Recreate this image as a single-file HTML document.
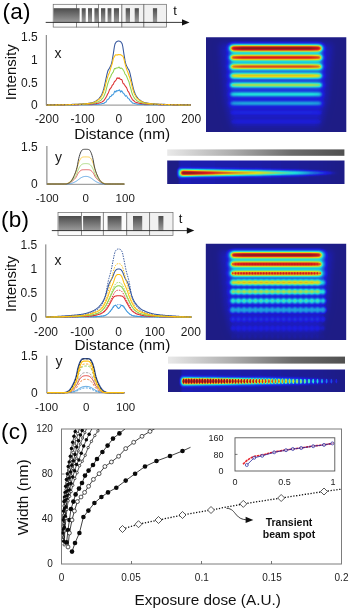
<!DOCTYPE html>
<html lang="en"><head><meta charset="utf-8"><title>Figure</title>
<style>
html,body{margin:0;padding:0;background:#fff;}
svg{display:block;font-family:"Liberation Sans", sans-serif;}
</style></head><body>
<svg width="350" height="610" viewBox="0 0 350 610">
<rect width="350" height="610" fill="#fff"/>
<defs>
<linearGradient id="pg" x1="0" y1="0" x2="0" y2="1"><stop offset="0" stop-color="#4c4c4c"/><stop offset="1" stop-color="#9c9c9c"/></linearGradient>
<linearGradient id="bar" x1="0" y1="0" x2="1" y2="0"><stop offset="0" stop-color="#e9e9e9"/><stop offset="0.35" stop-color="#b0b0b0"/><stop offset="0.7" stop-color="#6c6c6c"/><stop offset="1" stop-color="#505050"/></linearGradient>
</defs>
<text x="2.40" y="19.20" font-size="22.5" text-anchor="start" font-weight="normal" fill="#000" textLength="28.2">(a)</text>
<text x="0.90" y="227.10" font-size="22.5" text-anchor="start" font-weight="normal" fill="#000" textLength="28.2">(b)</text>
<text x="0.90" y="438.70" font-size="22.5" text-anchor="start" font-weight="normal" fill="#000" textLength="27">(c)</text>
<rect x="53.20" y="4.30" width="23.20" height="22.80" fill="#fbfbfb" stroke="#6a6a6a" stroke-width="0.7"/>
<rect x="76.40" y="4.30" width="22.10" height="22.80" fill="#fbfbfb" stroke="#6a6a6a" stroke-width="0.7"/>
<rect x="98.50" y="4.30" width="23.40" height="22.80" fill="#fbfbfb" stroke="#6a6a6a" stroke-width="0.7"/>
<rect x="121.90" y="4.30" width="22.00" height="22.80" fill="#f1f1f1" stroke="#6a6a6a" stroke-width="0.7"/>
<rect x="143.90" y="4.30" width="22.50" height="22.80" fill="#f1f1f1" stroke="#6a6a6a" stroke-width="0.7"/>
<rect x="53.60" y="8.20" width="26.00" height="14.20" fill="url(#pg)"/>
<rect x="81.70" y="8.20" width="4.00" height="14.20" fill="url(#pg)"/>
<rect x="88.00" y="8.20" width="4.00" height="14.20" fill="url(#pg)"/>
<rect x="94.40" y="8.20" width="3.80" height="14.20" fill="url(#pg)"/>
<rect x="101.00" y="8.20" width="4.30" height="14.20" fill="url(#pg)"/>
<rect x="107.60" y="8.20" width="3.80" height="14.20" fill="url(#pg)"/>
<rect x="113.90" y="8.20" width="5.10" height="14.20" fill="url(#pg)"/>
<rect x="125.70" y="8.20" width="4.30" height="14.20" fill="url(#pg)"/>
<rect x="134.70" y="8.20" width="4.20" height="14.20" fill="url(#pg)"/>
<rect x="152.90" y="8.20" width="4.20" height="14.20" fill="url(#pg)"/>
<line x1="45.70" y1="22.40" x2="184.50" y2="22.40" stroke="#222" stroke-width="0.9" />
<path d="M189.50 22.40 L182.00 19.20 L182.00 25.60 Z" fill="#111"/>
<text x="175.00" y="15.20" font-size="13" text-anchor="middle" font-weight="normal" fill="#111" >t</text>
<rect x="58.00" y="212.60" width="23.40" height="22.80" fill="#fbfbfb" stroke="#6a6a6a" stroke-width="0.7"/>
<rect x="81.40" y="212.60" width="21.90" height="22.80" fill="#fbfbfb" stroke="#6a6a6a" stroke-width="0.7"/>
<rect x="103.30" y="212.60" width="23.50" height="22.80" fill="#fbfbfb" stroke="#6a6a6a" stroke-width="0.7"/>
<rect x="126.80" y="212.60" width="22.90" height="22.80" fill="#f1f1f1" stroke="#6a6a6a" stroke-width="0.7"/>
<rect x="149.70" y="212.60" width="23.30" height="22.80" fill="#f1f1f1" stroke="#6a6a6a" stroke-width="0.7"/>
<rect x="58.50" y="216.00" width="22.50" height="14.60" fill="url(#pg)"/>
<rect x="83.10" y="216.00" width="17.60" height="14.60" fill="url(#pg)"/>
<rect x="107.60" y="216.00" width="13.90" height="14.60" fill="url(#pg)"/>
<rect x="133.00" y="216.00" width="9.20" height="14.60" fill="url(#pg)"/>
<rect x="158.40" y="216.00" width="5.00" height="14.60" fill="url(#pg)"/>
<line x1="51.80" y1="230.60" x2="189.30" y2="230.60" stroke="#222" stroke-width="0.9" />
<path d="M194.30 230.60 L186.80 227.40 L186.80 233.80 Z" fill="#111"/>
<text x="180.60" y="222.80" font-size="13" text-anchor="middle" font-weight="normal" fill="#111" >t</text>
<line x1="46.30" y1="35.00" x2="46.30" y2="105.30" stroke="#666" stroke-width="0.9" />
<line x1="46.00" y1="105.10" x2="191.00" y2="105.10" stroke="#8a8a8a" stroke-width="1.0" />
<path d="M46.50 105.00 L47.06 105.00 L47.61 105.00 L48.17 105.00 L48.73 104.99 L49.28 104.99 L49.84 104.99 L50.40 104.99 L50.95 104.99 L51.51 104.98 L52.07 104.98 L52.62 104.98 L53.18 104.98 L53.74 104.97 L54.29 104.97 L54.85 104.97 L55.41 104.97 L55.96 104.96 L56.52 104.96 L57.08 104.96 L57.64 104.96 L58.19 104.95 L58.75 104.95 L59.31 104.95 L59.86 104.95 L60.42 104.94 L60.98 104.94 L61.53 104.94 L62.09 104.94 L62.65 104.93 L63.20 104.93 L63.76 104.93 L64.32 104.92 L64.87 104.92 L65.43 104.92 L65.99 104.91 L66.54 104.91 L67.10 104.91 L67.66 104.91 L68.21 104.90 L68.77 104.90 L69.33 104.90 L69.88 104.89 L70.44 104.89 L71.00 104.89 L71.55 104.88 L72.11 104.88 L72.67 104.88 L73.22 104.87 L73.78 104.87 L74.34 104.87 L74.89 104.86 L75.45 104.86 L76.01 104.86 L76.56 104.85 L77.12 104.85 L77.68 104.84 L78.24 104.84 L78.79 104.84 L79.35 104.83 L79.91 104.83 L80.46 104.82 L81.02 104.82 L81.58 104.81 L82.13 104.81 L82.69 104.80 L83.25 104.79 L83.80 104.79 L84.36 104.78 L84.92 104.77 L85.47 104.76 L86.03 104.75 L86.59 104.74 L87.14 104.73 L87.70 104.72 L88.26 104.71 L88.81 104.70 L89.37 104.69 L89.93 104.66 L90.48 104.63 L91.04 104.63 L91.60 104.65 L92.15 104.61 L92.71 104.57 L93.27 104.56 L93.82 104.54 L94.38 104.50 L94.94 104.45 L95.49 104.40 L96.05 104.46 L96.61 104.47 L97.16 104.29 L97.72 104.20 L98.28 104.20 L98.84 104.15 L99.39 104.13 L99.95 104.01 L100.51 103.93 L101.06 104.08 L101.62 103.88 L102.18 103.44 L102.73 103.41 L103.29 103.45 L103.85 103.35 L104.40 103.09 L104.96 102.46 L105.52 102.15 L106.07 102.03 L106.63 100.87 L107.19 99.77 L107.74 99.56 L108.30 99.25 L108.86 98.68 L109.41 97.69 L109.97 96.47 L110.53 96.46 L111.08 96.40 L111.64 95.17 L112.20 94.77 L112.75 94.95 L113.31 94.33 L113.87 93.43 L114.42 91.90 L114.98 91.01 L115.54 91.87 L116.09 91.74 L116.65 90.61 L117.21 90.75 L117.76 90.91 L118.32 90.57 L118.88 90.34 L119.44 89.83 L119.99 90.65 L120.55 92.11 L121.11 91.42 L121.66 90.70 L122.22 91.65 L122.78 92.52 L123.33 93.34 L123.89 93.88 L124.45 94.11 L125.00 95.44 L125.56 96.27 L126.12 95.61 L126.67 95.87 L127.23 97.02 L127.79 97.86 L128.34 98.61 L128.90 98.89 L129.46 99.28 L130.01 100.52 L130.57 101.16 L131.13 101.30 L131.68 102.04 L132.24 102.78 L132.80 103.16 L133.35 103.34 L133.91 103.23 L134.47 103.41 L135.02 103.82 L135.58 103.77 L136.14 103.75 L136.69 104.02 L137.25 104.15 L137.81 104.16 L138.36 104.12 L138.92 104.08 L139.48 104.25 L140.04 104.41 L140.59 104.37 L141.15 104.39 L141.71 104.47 L142.26 104.49 L142.82 104.50 L143.38 104.51 L143.93 104.53 L144.49 104.61 L145.05 104.63 L145.60 104.61 L146.16 104.63 L146.72 104.65 L147.27 104.67 L147.83 104.68 L148.39 104.69 L148.94 104.71 L149.50 104.73 L150.06 104.73 L150.61 104.74 L151.17 104.75 L151.73 104.76 L152.28 104.77 L152.84 104.78 L153.40 104.79 L153.95 104.79 L154.51 104.80 L155.07 104.80 L155.62 104.81 L156.18 104.82 L156.74 104.82 L157.29 104.83 L157.85 104.83 L158.41 104.84 L158.96 104.84 L159.52 104.84 L160.08 104.85 L160.64 104.85 L161.19 104.86 L161.75 104.86 L162.31 104.86 L162.86 104.87 L163.42 104.87 L163.98 104.87 L164.53 104.88 L165.09 104.88 L165.65 104.88 L166.20 104.89 L166.76 104.89 L167.32 104.89 L167.87 104.90 L168.43 104.90 L168.99 104.90 L169.54 104.91 L170.10 104.91 L170.66 104.91 L171.21 104.91 L171.77 104.92 L172.33 104.92 L172.88 104.92 L173.44 104.93 L174.00 104.93 L174.55 104.93 L175.11 104.94 L175.67 104.94 L176.22 104.94 L176.78 104.94 L177.34 104.95 L177.89 104.95 L178.45 104.95 L179.01 104.95 L179.56 104.96 L180.12 104.96 L180.68 104.96 L181.24 104.96 L181.79 104.97 L182.35 104.97 L182.91 104.97 L183.46 104.97 L184.02 104.98 L184.58 104.98 L185.13 104.98 L185.69 104.98 L186.25 104.99 L186.80 104.99 L187.36 104.99 L187.92 104.99 L188.47 104.99 L189.03 105.00 L189.59 105.00 L190.14 105.00 L190.70 105.00" fill="none" stroke="#3d97dd" stroke-width="1.05" stroke-linejoin="round" stroke-opacity="1"/>
<path d="M46.50 105.00 L47.06 105.00 L47.61 105.00 L48.17 105.00 L48.73 104.99 L49.28 104.99 L49.84 104.99 L50.40 104.99 L50.95 104.98 L51.51 104.98 L52.07 104.98 L52.62 104.97 L53.18 104.97 L53.74 104.97 L54.29 104.96 L54.85 104.96 L55.41 104.95 L55.96 104.95 L56.52 104.94 L57.08 104.94 L57.64 104.93 L58.19 104.93 L58.75 104.92 L59.31 104.91 L59.86 104.91 L60.42 104.90 L60.98 104.90 L61.53 104.89 L62.09 104.88 L62.65 104.88 L63.20 104.87 L63.76 104.86 L64.32 104.86 L64.87 104.85 L65.43 104.84 L65.99 104.83 L66.54 104.83 L67.10 104.82 L67.66 104.81 L68.21 104.81 L68.77 104.80 L69.33 104.79 L69.88 104.78 L70.44 104.77 L71.00 104.77 L71.55 104.76 L72.11 104.75 L72.67 104.74 L73.22 104.73 L73.78 104.72 L74.34 104.71 L74.89 104.70 L75.45 104.68 L76.01 104.67 L76.56 104.66 L77.12 104.65 L77.68 104.63 L78.24 104.62 L78.79 104.61 L79.35 104.59 L79.91 104.58 L80.46 104.56 L81.02 104.55 L81.58 104.53 L82.13 104.51 L82.69 104.50 L83.25 104.48 L83.80 104.46 L84.36 104.44 L84.92 104.42 L85.47 104.40 L86.03 104.37 L86.59 104.35 L87.14 104.33 L87.70 104.29 L88.26 104.26 L88.81 104.23 L89.37 104.20 L89.93 104.16 L90.48 104.13 L91.04 104.10 L91.60 104.06 L92.15 104.01 L92.71 103.94 L93.27 103.88 L93.82 103.87 L94.38 103.80 L94.94 103.70 L95.49 103.65 L96.05 103.57 L96.61 103.47 L97.16 103.34 L97.72 103.17 L98.28 103.14 L98.84 103.12 L99.39 102.89 L99.95 102.67 L100.51 102.55 L101.06 102.36 L101.62 102.11 L102.18 101.74 L102.73 101.31 L103.29 101.13 L103.85 100.67 L104.40 99.75 L104.96 98.94 L105.52 98.16 L106.07 97.24 L106.63 96.31 L107.19 95.02 L107.74 93.84 L108.30 93.05 L108.86 91.59 L109.41 89.90 L109.97 89.07 L110.53 88.38 L111.08 87.64 L111.64 86.69 L112.20 85.31 L112.75 84.69 L113.31 84.34 L113.87 82.87 L114.42 81.66 L114.98 81.28 L115.54 80.65 L116.09 79.98 L116.65 78.85 L117.21 77.80 L117.76 78.21 L118.32 78.41 L118.88 77.79 L119.44 78.17 L119.99 78.93 L120.55 79.25 L121.11 79.56 L121.66 79.59 L122.22 80.56 L122.78 82.66 L123.33 83.64 L123.89 83.86 L124.45 84.79 L125.00 85.64 L125.56 86.38 L126.12 87.18 L126.67 87.87 L127.23 89.37 L127.79 91.00 L128.34 91.63 L128.90 92.37 L129.46 93.75 L130.01 95.04 L130.57 96.26 L131.13 97.24 L131.68 98.12 L132.24 99.31 L132.80 100.07 L133.35 100.26 L133.91 100.76 L134.47 101.40 L135.02 101.87 L135.58 102.23 L136.14 102.36 L136.69 102.49 L137.25 102.77 L137.81 102.87 L138.36 102.92 L138.92 103.12 L139.48 103.30 L140.04 103.41 L140.59 103.48 L141.15 103.51 L141.71 103.61 L142.26 103.74 L142.82 103.78 L143.38 103.84 L143.93 103.92 L144.49 103.97 L145.05 104.01 L145.60 104.04 L146.16 104.07 L146.72 104.13 L147.27 104.18 L147.83 104.20 L148.39 104.23 L148.94 104.27 L149.50 104.29 L150.06 104.32 L150.61 104.35 L151.17 104.37 L151.73 104.40 L152.28 104.42 L152.84 104.44 L153.40 104.46 L153.95 104.48 L154.51 104.50 L155.07 104.51 L155.62 104.53 L156.18 104.55 L156.74 104.56 L157.29 104.58 L157.85 104.59 L158.41 104.61 L158.96 104.62 L159.52 104.63 L160.08 104.65 L160.64 104.66 L161.19 104.67 L161.75 104.68 L162.31 104.70 L162.86 104.71 L163.42 104.72 L163.98 104.73 L164.53 104.74 L165.09 104.75 L165.65 104.76 L166.20 104.77 L166.76 104.77 L167.32 104.78 L167.87 104.79 L168.43 104.80 L168.99 104.81 L169.54 104.81 L170.10 104.82 L170.66 104.83 L171.21 104.83 L171.77 104.84 L172.33 104.85 L172.88 104.86 L173.44 104.86 L174.00 104.87 L174.55 104.88 L175.11 104.88 L175.67 104.89 L176.22 104.90 L176.78 104.90 L177.34 104.91 L177.89 104.91 L178.45 104.92 L179.01 104.93 L179.56 104.93 L180.12 104.94 L180.68 104.94 L181.24 104.95 L181.79 104.95 L182.35 104.96 L182.91 104.96 L183.46 104.97 L184.02 104.97 L184.58 104.97 L185.13 104.98 L185.69 104.98 L186.25 104.98 L186.80 104.99 L187.36 104.99 L187.92 104.99 L188.47 104.99 L189.03 105.00 L189.59 105.00 L190.14 105.00 L190.70 105.00" fill="none" stroke="#dc2f2f" stroke-width="1.05" stroke-linejoin="round" stroke-opacity="1"/>
<path d="M46.50 105.00 L47.06 105.00 L47.61 104.99 L48.17 104.99 L48.73 104.99 L49.28 104.98 L49.84 104.98 L50.40 104.97 L50.95 104.97 L51.51 104.96 L52.07 104.96 L52.62 104.95 L53.18 104.95 L53.74 104.94 L54.29 104.93 L54.85 104.93 L55.41 104.92 L55.96 104.91 L56.52 104.91 L57.08 104.90 L57.64 104.89 L58.19 104.88 L58.75 104.87 L59.31 104.86 L59.86 104.86 L60.42 104.85 L60.98 104.84 L61.53 104.83 L62.09 104.82 L62.65 104.81 L63.20 104.80 L63.76 104.79 L64.32 104.78 L64.87 104.77 L65.43 104.76 L65.99 104.75 L66.54 104.74 L67.10 104.73 L67.66 104.72 L68.21 104.71 L68.77 104.70 L69.33 104.69 L69.88 104.68 L70.44 104.66 L71.00 104.65 L71.55 104.64 L72.11 104.63 L72.67 104.62 L73.22 104.60 L73.78 104.59 L74.34 104.58 L74.89 104.56 L75.45 104.55 L76.01 104.53 L76.56 104.52 L77.12 104.50 L77.68 104.49 L78.24 104.47 L78.79 104.45 L79.35 104.43 L79.91 104.41 L80.46 104.39 L81.02 104.37 L81.58 104.35 L82.13 104.32 L82.69 104.30 L83.25 104.27 L83.80 104.24 L84.36 104.21 L84.92 104.17 L85.47 104.13 L86.03 104.09 L86.59 104.05 L87.14 103.99 L87.70 103.94 L88.26 103.89 L88.81 103.84 L89.37 103.77 L89.93 103.70 L90.48 103.63 L91.04 103.57 L91.60 103.49 L92.15 103.40 L92.71 103.32 L93.27 103.22 L93.82 103.11 L94.38 102.97 L94.94 102.80 L95.49 102.68 L96.05 102.56 L96.61 102.34 L97.16 102.10 L97.72 101.89 L98.28 101.66 L98.84 101.43 L99.39 101.13 L99.95 100.77 L100.51 100.51 L101.06 100.08 L101.62 99.35 L102.18 98.68 L102.73 98.06 L103.29 97.35 L103.85 96.41 L104.40 95.05 L104.96 93.65 L105.52 92.29 L106.07 90.21 L106.63 87.87 L107.19 85.82 L107.74 83.75 L108.30 82.08 L108.86 80.61 L109.41 78.91 L109.97 77.80 L110.53 76.97 L111.08 75.45 L111.64 74.19 L112.20 73.50 L112.75 72.66 L113.31 71.70 L113.87 70.15 L114.42 68.64 L114.98 68.61 L115.54 68.76 L116.09 68.07 L116.65 67.92 L117.21 67.99 L117.76 67.83 L118.32 67.68 L118.88 67.09 L119.44 67.15 L119.99 68.26 L120.55 68.44 L121.11 68.03 L121.66 68.29 L122.22 68.60 L122.78 69.28 L123.33 70.23 L123.89 70.97 L124.45 72.40 L125.00 74.01 L125.56 74.59 L126.12 75.26 L126.67 76.56 L127.23 77.89 L127.79 79.30 L128.34 80.47 L128.90 81.67 L129.46 83.85 L130.01 86.21 L130.57 87.96 L131.13 89.94 L131.68 92.06 L132.24 93.81 L132.80 95.25 L133.35 96.28 L133.91 97.21 L134.47 98.17 L135.02 98.81 L135.58 99.30 L136.14 99.93 L136.69 100.48 L137.25 100.91 L137.81 101.19 L138.36 101.35 L138.92 101.62 L139.48 101.94 L140.04 102.13 L140.59 102.31 L141.15 102.52 L141.71 102.70 L142.26 102.85 L142.82 102.97 L143.38 103.07 L143.93 103.22 L144.49 103.34 L145.05 103.41 L145.60 103.48 L146.16 103.56 L146.72 103.63 L147.27 103.71 L147.83 103.77 L148.39 103.83 L148.94 103.90 L149.50 103.95 L150.06 103.99 L150.61 104.04 L151.17 104.09 L151.73 104.13 L152.28 104.17 L152.84 104.21 L153.40 104.24 L153.95 104.27 L154.51 104.30 L155.07 104.32 L155.62 104.34 L156.18 104.37 L156.74 104.39 L157.29 104.41 L157.85 104.43 L158.41 104.45 L158.96 104.47 L159.52 104.49 L160.08 104.50 L160.64 104.52 L161.19 104.54 L161.75 104.55 L162.31 104.56 L162.86 104.58 L163.42 104.59 L163.98 104.60 L164.53 104.62 L165.09 104.63 L165.65 104.64 L166.20 104.65 L166.76 104.66 L167.32 104.68 L167.87 104.69 L168.43 104.70 L168.99 104.71 L169.54 104.72 L170.10 104.73 L170.66 104.74 L171.21 104.75 L171.77 104.76 L172.33 104.77 L172.88 104.78 L173.44 104.79 L174.00 104.80 L174.55 104.81 L175.11 104.82 L175.67 104.83 L176.22 104.84 L176.78 104.85 L177.34 104.86 L177.89 104.86 L178.45 104.87 L179.01 104.88 L179.56 104.89 L180.12 104.90 L180.68 104.91 L181.24 104.91 L181.79 104.92 L182.35 104.93 L182.91 104.93 L183.46 104.94 L184.02 104.95 L184.58 104.95 L185.13 104.96 L185.69 104.96 L186.25 104.97 L186.80 104.97 L187.36 104.98 L187.92 104.98 L188.47 104.99 L189.03 104.99 L189.59 104.99 L190.14 105.00 L190.70 105.00" fill="none" stroke="#8fd04e" stroke-width="1.05" stroke-linejoin="round" stroke-opacity="1"/>
<path d="M46.50 105.00 L47.06 105.00 L47.61 104.99 L48.17 104.98 L48.73 104.97 L49.28 104.97 L49.84 104.96 L50.40 104.95 L50.95 104.94 L51.51 104.93 L52.07 104.92 L52.62 104.91 L53.18 104.90 L53.74 104.89 L54.29 104.88 L54.85 104.87 L55.41 104.85 L55.96 104.84 L56.52 104.83 L57.08 104.82 L57.64 104.80 L58.19 104.79 L58.75 104.78 L59.31 104.76 L59.86 104.75 L60.42 104.73 L60.98 104.72 L61.53 104.70 L62.09 104.69 L62.65 104.67 L63.20 104.66 L63.76 104.64 L64.32 104.63 L64.87 104.61 L65.43 104.59 L65.99 104.58 L66.54 104.56 L67.10 104.55 L67.66 104.53 L68.21 104.51 L68.77 104.49 L69.33 104.48 L69.88 104.46 L70.44 104.44 L71.00 104.43 L71.55 104.41 L72.11 104.39 L72.67 104.37 L73.22 104.35 L73.78 104.33 L74.34 104.31 L74.89 104.29 L75.45 104.27 L76.01 104.25 L76.56 104.22 L77.12 104.20 L77.68 104.18 L78.24 104.15 L78.79 104.12 L79.35 104.09 L79.91 104.06 L80.46 104.03 L81.02 104.00 L81.58 103.97 L82.13 103.93 L82.69 103.89 L83.25 103.85 L83.80 103.81 L84.36 103.77 L84.92 103.72 L85.47 103.66 L86.03 103.60 L86.59 103.54 L87.14 103.47 L87.70 103.40 L88.26 103.32 L88.81 103.24 L89.37 103.15 L89.93 103.06 L90.48 102.96 L91.04 102.85 L91.60 102.73 L92.15 102.61 L92.71 102.47 L93.27 102.29 L93.82 102.07 L94.38 101.83 L94.94 101.55 L95.49 101.24 L96.05 100.90 L96.61 100.54 L97.16 100.15 L97.72 99.74 L98.28 99.29 L98.84 98.76 L99.39 98.14 L99.95 97.44 L100.51 96.64 L101.06 95.76 L101.62 94.78 L102.18 93.54 L102.73 92.03 L103.29 90.32 L103.85 88.43 L104.40 86.15 L104.96 83.65 L105.52 81.10 L106.07 78.38 L106.63 75.83 L107.19 73.39 L107.74 71.33 L108.30 70.05 L108.86 69.13 L109.41 68.17 L109.97 67.13 L110.53 66.06 L111.08 64.79 L111.64 63.11 L112.20 60.41 L112.75 57.21 L113.31 53.90 L113.87 50.06 L114.42 46.50 L114.98 44.08 L115.54 43.01 L116.09 42.22 L116.65 41.67 L117.21 41.35 L117.76 41.15 L118.32 41.02 L118.88 41.02 L119.44 41.15 L119.99 41.35 L120.55 41.67 L121.11 42.22 L121.66 43.01 L122.22 44.08 L122.78 46.50 L123.33 50.06 L123.89 53.90 L124.45 57.21 L125.00 60.41 L125.56 63.11 L126.12 64.79 L126.67 66.06 L127.23 67.13 L127.79 68.17 L128.34 69.13 L128.90 70.05 L129.46 71.33 L130.01 73.39 L130.57 75.83 L131.13 78.38 L131.68 81.10 L132.24 83.65 L132.80 86.15 L133.35 88.43 L133.91 90.32 L134.47 92.03 L135.02 93.54 L135.58 94.78 L136.14 95.76 L136.69 96.64 L137.25 97.44 L137.81 98.14 L138.36 98.76 L138.92 99.29 L139.48 99.74 L140.04 100.15 L140.59 100.54 L141.15 100.90 L141.71 101.24 L142.26 101.55 L142.82 101.83 L143.38 102.07 L143.93 102.29 L144.49 102.47 L145.05 102.61 L145.60 102.73 L146.16 102.85 L146.72 102.96 L147.27 103.06 L147.83 103.15 L148.39 103.24 L148.94 103.32 L149.50 103.40 L150.06 103.47 L150.61 103.54 L151.17 103.60 L151.73 103.66 L152.28 103.72 L152.84 103.77 L153.40 103.81 L153.95 103.85 L154.51 103.89 L155.07 103.93 L155.62 103.97 L156.18 104.00 L156.74 104.03 L157.29 104.06 L157.85 104.09 L158.41 104.12 L158.96 104.15 L159.52 104.18 L160.08 104.20 L160.64 104.22 L161.19 104.25 L161.75 104.27 L162.31 104.29 L162.86 104.31 L163.42 104.33 L163.98 104.35 L164.53 104.37 L165.09 104.39 L165.65 104.41 L166.20 104.43 L166.76 104.44 L167.32 104.46 L167.87 104.48 L168.43 104.49 L168.99 104.51 L169.54 104.53 L170.10 104.55 L170.66 104.56 L171.21 104.58 L171.77 104.59 L172.33 104.61 L172.88 104.63 L173.44 104.64 L174.00 104.66 L174.55 104.67 L175.11 104.69 L175.67 104.70 L176.22 104.72 L176.78 104.73 L177.34 104.75 L177.89 104.76 L178.45 104.78 L179.01 104.79 L179.56 104.80 L180.12 104.82 L180.68 104.83 L181.24 104.84 L181.79 104.85 L182.35 104.87 L182.91 104.88 L183.46 104.89 L184.02 104.90 L184.58 104.91 L185.13 104.92 L185.69 104.93 L186.25 104.94 L186.80 104.95 L187.36 104.96 L187.92 104.97 L188.47 104.97 L189.03 104.98 L189.59 104.99 L190.14 105.00 L190.70 105.00" fill="none" stroke="#34559c" stroke-width="1.05" stroke-linejoin="round" stroke-opacity="1"/>
<path d="M46.50 105.00 L47.06 105.00 L47.61 105.00 L48.17 104.99 L48.73 104.99 L49.28 104.98 L49.84 104.98 L50.40 104.97 L50.95 104.97 L51.51 104.96 L52.07 104.96 L52.62 104.95 L53.18 104.94 L53.74 104.93 L54.29 104.92 L54.85 104.91 L55.41 104.90 L55.96 104.89 L56.52 104.88 L57.08 104.87 L57.64 104.86 L58.19 104.85 L58.75 104.84 L59.31 104.83 L59.86 104.82 L60.42 104.80 L60.98 104.79 L61.53 104.78 L62.09 104.77 L62.65 104.75 L63.20 104.74 L63.76 104.72 L64.32 104.71 L64.87 104.70 L65.43 104.68 L65.99 104.67 L66.54 104.65 L67.10 104.64 L67.66 104.62 L68.21 104.61 L68.77 104.60 L69.33 104.58 L69.88 104.56 L70.44 104.55 L71.00 104.53 L71.55 104.51 L72.11 104.50 L72.67 104.48 L73.22 104.46 L73.78 104.44 L74.34 104.42 L74.89 104.39 L75.45 104.37 L76.01 104.35 L76.56 104.32 L77.12 104.30 L77.68 104.27 L78.24 104.25 L78.79 104.22 L79.35 104.19 L79.91 104.16 L80.46 104.13 L81.02 104.10 L81.58 104.06 L82.13 104.03 L82.69 103.99 L83.25 103.96 L83.80 103.92 L84.36 103.88 L84.92 103.84 L85.47 103.79 L86.03 103.74 L86.59 103.69 L87.14 103.63 L87.70 103.58 L88.26 103.52 L88.81 103.44 L89.37 103.37 L89.93 103.29 L90.48 103.21 L91.04 103.11 L91.60 103.01 L92.15 102.91 L92.71 102.79 L93.27 102.61 L93.82 102.37 L94.38 102.12 L94.94 101.86 L95.49 101.55 L96.05 101.23 L96.61 100.94 L97.16 100.64 L97.72 100.30 L98.28 99.88 L98.84 99.39 L99.39 98.98 L99.95 98.50 L100.51 97.83 L101.06 97.05 L101.62 96.16 L102.18 95.13 L102.73 93.99 L103.29 92.56 L103.85 90.94 L104.40 89.38 L104.96 87.46 L105.52 84.96 L106.07 82.55 L106.63 80.49 L107.19 78.64 L107.74 76.90 L108.30 75.08 L108.86 73.76 L109.41 72.66 L109.97 70.89 L110.53 68.93 L111.08 67.21 L111.64 65.46 L112.20 63.76 L112.75 61.27 L113.31 58.55 L113.87 57.53 L114.42 56.73 L114.98 55.47 L115.54 54.81 L116.09 54.78 L116.65 54.98 L117.21 55.17 L117.76 54.73 L118.32 54.41 L118.88 54.81 L119.44 54.79 L119.99 54.48 L120.55 54.72 L121.11 55.03 L121.66 55.46 L122.22 55.90 L122.78 56.11 L123.33 57.08 L123.89 58.88 L124.45 61.22 L125.00 63.54 L125.56 65.63 L126.12 67.48 L126.67 69.25 L127.23 70.72 L127.79 71.99 L128.34 73.75 L128.90 75.50 L129.46 76.94 L130.01 78.62 L130.57 80.52 L131.13 82.56 L131.68 84.99 L132.24 87.23 L132.80 89.17 L133.35 91.19 L133.91 92.79 L134.47 93.93 L135.02 95.05 L135.58 96.10 L136.14 97.06 L136.69 97.87 L137.25 98.44 L137.81 98.99 L138.36 99.52 L138.92 99.89 L139.48 100.23 L140.04 100.59 L140.59 100.94 L141.15 101.28 L141.71 101.57 L142.26 101.84 L142.82 102.13 L143.38 102.39 L143.93 102.59 L144.49 102.77 L145.05 102.91 L145.60 103.02 L146.16 103.12 L146.72 103.20 L147.27 103.28 L147.83 103.37 L148.39 103.45 L148.94 103.51 L149.50 103.58 L150.06 103.64 L150.61 103.69 L151.17 103.74 L151.73 103.79 L152.28 103.84 L152.84 103.88 L153.40 103.92 L153.95 103.96 L154.51 103.99 L155.07 104.03 L155.62 104.06 L156.18 104.10 L156.74 104.13 L157.29 104.16 L157.85 104.19 L158.41 104.22 L158.96 104.25 L159.52 104.27 L160.08 104.30 L160.64 104.32 L161.19 104.35 L161.75 104.37 L162.31 104.40 L162.86 104.42 L163.42 104.44 L163.98 104.46 L164.53 104.48 L165.09 104.50 L165.65 104.51 L166.20 104.53 L166.76 104.55 L167.32 104.56 L167.87 104.58 L168.43 104.60 L168.99 104.61 L169.54 104.62 L170.10 104.64 L170.66 104.65 L171.21 104.67 L171.77 104.68 L172.33 104.70 L172.88 104.71 L173.44 104.72 L174.00 104.74 L174.55 104.75 L175.11 104.77 L175.67 104.78 L176.22 104.79 L176.78 104.80 L177.34 104.82 L177.89 104.83 L178.45 104.84 L179.01 104.85 L179.56 104.86 L180.12 104.87 L180.68 104.88 L181.24 104.89 L181.79 104.90 L182.35 104.91 L182.91 104.92 L183.46 104.93 L184.02 104.94 L184.58 104.95 L185.13 104.96 L185.69 104.96 L186.25 104.97 L186.80 104.97 L187.36 104.98 L187.92 104.98 L188.47 104.99 L189.03 104.99 L189.59 105.00 L190.14 105.00 L190.70 105.00" fill="none" stroke="#fdc010" stroke-width="1.05" stroke-linejoin="round" stroke-opacity="1"/>
<line x1="47.00" y1="104.75" x2="84.00" y2="104.50" stroke="#6b3a55" stroke-width="0.9" stroke-dasharray="1 2.4" stroke-opacity="0.75"/>
<line x1="153.00" y1="104.50" x2="191.00" y2="104.75" stroke="#6b3a55" stroke-width="0.9" stroke-dasharray="1 2.4" stroke-opacity="0.75"/>
<text x="37.70" y="40.60" font-size="12" text-anchor="end" font-weight="normal" fill="#1a1a1a" >1.5</text>
<text x="37.70" y="63.70" font-size="12" text-anchor="end" font-weight="normal" fill="#1a1a1a" >1</text>
<text x="37.70" y="86.60" font-size="12" text-anchor="end" font-weight="normal" fill="#1a1a1a" >0.5</text>
<text x="37.70" y="109.30" font-size="12" text-anchor="end" font-weight="normal" fill="#1a1a1a" >0</text>
<text x="46.90" y="122.80" font-size="12" text-anchor="middle" font-weight="normal" fill="#1a1a1a" >-200</text>
<text x="82.60" y="122.80" font-size="12" text-anchor="middle" font-weight="normal" fill="#1a1a1a" >-100</text>
<text x="118.80" y="122.80" font-size="12" text-anchor="middle" font-weight="normal" fill="#1a1a1a" >0</text>
<text x="155.20" y="122.80" font-size="12" text-anchor="middle" font-weight="normal" fill="#1a1a1a" >100</text>
<text x="191.20" y="122.80" font-size="12" text-anchor="middle" font-weight="normal" fill="#1a1a1a" >200</text>
<text x="58.00" y="57.60" font-size="14" text-anchor="middle" font-weight="normal" fill="#1a1a1a" >x</text>
<text transform="translate(15.7 72.2) rotate(-90)" font-size="15" text-anchor="middle" fill="#111">Intensity</text>
<text x="122.20" y="139.10" font-size="15.4" text-anchor="middle" font-weight="normal" fill="#111" >Distance (nm)</text>
<line x1="46.90" y1="146.00" x2="46.90" y2="184.60" stroke="#666" stroke-width="0.9" />
<line x1="46.60" y1="184.30" x2="124.50" y2="184.30" stroke="#8a8a8a" stroke-width="1.0" />
<path d="M47.00 184.00 L47.56 184.00 L48.11 184.00 L48.67 184.00 L49.22 184.00 L49.78 184.00 L50.34 184.00 L50.89 184.00 L51.45 184.00 L52.01 184.00 L52.56 184.00 L53.12 184.00 L53.67 184.00 L54.23 184.00 L54.79 184.00 L55.34 184.00 L55.90 184.00 L56.45 184.00 L57.01 184.00 L57.57 184.00 L58.12 184.00 L58.68 184.00 L59.23 184.00 L59.79 184.00 L60.35 184.00 L60.90 184.00 L61.46 184.00 L62.02 184.00 L62.57 184.00 L63.13 184.00 L63.68 184.00 L64.24 184.00 L64.80 184.00 L65.35 184.00 L65.91 184.00 L66.46 183.98 L67.02 183.95 L67.58 183.90 L68.13 183.84 L68.69 183.78 L69.24 183.72 L69.80 183.64 L70.36 183.55 L70.91 183.44 L71.47 183.32 L72.03 183.18 L72.58 182.99 L73.14 182.77 L73.69 182.53 L74.25 182.28 L74.81 182.02 L75.36 181.73 L75.92 181.42 L76.47 181.08 L77.03 180.70 L77.59 180.30 L78.14 179.87 L78.70 179.44 L79.25 179.02 L79.81 178.60 L80.37 178.20 L80.92 177.85 L81.48 177.54 L82.04 177.25 L82.59 177.01 L83.15 176.81 L83.70 176.64 L84.26 176.52 L84.82 176.46 L85.37 176.41 L85.93 176.40 L86.48 176.43 L87.04 176.48 L87.60 176.56 L88.15 176.71 L88.71 176.90 L89.26 177.11 L89.82 177.38 L90.38 177.68 L90.93 178.00 L91.49 178.37 L92.05 178.79 L92.60 179.22 L93.16 179.64 L93.71 180.07 L94.27 180.49 L94.83 180.88 L95.38 181.24 L95.94 181.57 L96.49 181.87 L97.05 182.14 L97.61 182.40 L98.16 182.64 L98.72 182.87 L99.27 183.08 L99.83 183.25 L100.39 183.38 L100.94 183.49 L101.50 183.59 L102.06 183.68 L102.61 183.75 L103.17 183.81 L103.72 183.87 L104.28 183.92 L104.84 183.97 L105.39 183.99 L105.95 184.00 L106.50 184.00 L107.06 184.00 L107.62 184.00 L108.17 184.00 L108.73 184.00 L109.28 184.00 L109.84 184.00 L110.40 184.00 L110.95 184.00 L111.51 184.00 L112.07 184.00 L112.62 184.00 L113.18 184.00 L113.73 184.00 L114.29 184.00 L114.85 184.00 L115.40 184.00 L115.96 184.00 L116.51 184.00 L117.07 184.00 L117.63 184.00 L118.18 184.00 L118.74 184.00 L119.29 184.00 L119.85 184.00 L120.41 184.00 L120.96 184.00 L121.52 184.00 L122.08 184.00 L122.63 184.00 L123.19 184.00 L123.74 184.00 L124.30 184.00" fill="none" stroke="#5aa2e2" stroke-width="0.95" stroke-linejoin="round" stroke-opacity="1"/>
<path d="M47.00 184.00 L47.56 184.00 L48.11 184.00 L48.67 184.00 L49.22 184.00 L49.78 184.00 L50.34 184.00 L50.89 184.00 L51.45 184.00 L52.01 184.00 L52.56 184.00 L53.12 184.00 L53.67 184.00 L54.23 184.00 L54.79 184.00 L55.34 184.00 L55.90 184.00 L56.45 184.00 L57.01 184.00 L57.57 184.00 L58.12 184.00 L58.68 184.00 L59.23 184.00 L59.79 184.00 L60.35 184.00 L60.90 184.00 L61.46 184.00 L62.02 184.00 L62.57 184.00 L63.13 184.00 L63.68 184.00 L64.24 183.99 L64.80 183.96 L65.35 183.90 L65.91 183.83 L66.46 183.75 L67.02 183.66 L67.58 183.54 L68.13 183.39 L68.69 183.20 L69.24 182.99 L69.80 182.75 L70.36 182.47 L70.91 182.15 L71.47 181.80 L72.03 181.41 L72.58 180.95 L73.14 180.46 L73.69 179.96 L74.25 179.43 L74.81 178.85 L75.36 178.20 L75.92 177.47 L76.47 176.63 L77.03 175.49 L77.59 174.28 L78.14 173.33 L78.70 172.55 L79.25 171.85 L79.81 171.26 L80.37 170.79 L80.92 170.39 L81.48 170.07 L82.04 169.90 L82.59 169.81 L83.15 169.75 L83.70 169.73 L84.26 169.71 L84.82 169.71 L85.37 169.70 L85.93 169.70 L86.48 169.70 L87.04 169.71 L87.60 169.72 L88.15 169.73 L88.71 169.77 L89.26 169.85 L89.82 169.96 L90.38 170.21 L90.93 170.57 L91.49 170.99 L92.05 171.52 L92.60 172.16 L93.16 172.90 L93.71 173.73 L94.27 174.83 L94.83 176.04 L95.38 177.04 L95.94 177.82 L96.49 178.50 L97.05 179.12 L97.61 179.68 L98.16 180.20 L98.72 180.69 L99.27 181.17 L99.83 181.60 L100.39 181.97 L100.94 182.30 L101.50 182.61 L102.06 182.87 L102.61 183.09 L103.17 183.29 L103.72 183.47 L104.28 183.60 L104.84 183.70 L105.39 183.79 L105.95 183.86 L106.50 183.93 L107.06 183.98 L107.62 184.00 L108.17 184.00 L108.73 184.00 L109.28 184.00 L109.84 184.00 L110.40 184.00 L110.95 184.00 L111.51 184.00 L112.07 184.00 L112.62 184.00 L113.18 184.00 L113.73 184.00 L114.29 184.00 L114.85 184.00 L115.40 184.00 L115.96 184.00 L116.51 184.00 L117.07 184.00 L117.63 184.00 L118.18 184.00 L118.74 184.00 L119.29 184.00 L119.85 184.00 L120.41 184.00 L120.96 184.00 L121.52 184.00 L122.08 184.00 L122.63 184.00 L123.19 184.00 L123.74 184.00 L124.30 184.00" fill="none" stroke="#e0595a" stroke-width="0.95" stroke-linejoin="round" stroke-opacity="1"/>
<path d="M47.00 184.00 L47.56 184.00 L48.11 184.00 L48.67 184.00 L49.22 184.00 L49.78 184.00 L50.34 184.00 L50.89 184.00 L51.45 184.00 L52.01 184.00 L52.56 184.00 L53.12 184.00 L53.67 184.00 L54.23 184.00 L54.79 184.00 L55.34 184.00 L55.90 184.00 L56.45 184.00 L57.01 184.00 L57.57 184.00 L58.12 184.00 L58.68 184.00 L59.23 184.00 L59.79 184.00 L60.35 184.00 L60.90 184.00 L61.46 184.00 L62.02 184.00 L62.57 184.00 L63.13 184.00 L63.68 184.00 L64.24 184.00 L64.80 184.00 L65.35 183.96 L65.91 183.88 L66.46 183.78 L67.02 183.66 L67.58 183.52 L68.13 183.37 L68.69 183.15 L69.24 182.89 L69.80 182.59 L70.36 182.26 L70.91 181.86 L71.47 181.40 L72.03 180.88 L72.58 180.28 L73.14 179.61 L73.69 178.91 L74.25 178.17 L74.81 177.39 L75.36 176.51 L75.92 175.55 L76.47 174.46 L77.03 173.13 L77.59 171.49 L78.14 169.94 L78.70 168.74 L79.25 167.65 L79.81 166.69 L80.37 165.88 L80.92 165.23 L81.48 164.66 L82.04 164.26 L82.59 164.04 L83.15 163.86 L83.70 163.74 L84.26 163.68 L84.82 163.63 L85.37 163.61 L85.93 163.60 L86.48 163.62 L87.04 163.65 L87.60 163.70 L88.15 163.79 L88.71 163.94 L89.26 164.13 L89.82 164.42 L90.38 164.91 L90.93 165.52 L91.49 166.23 L92.05 167.11 L92.60 168.14 L93.16 169.28 L93.71 170.61 L94.27 172.26 L94.83 173.80 L95.38 174.98 L95.94 176.01 L96.49 176.93 L97.05 177.76 L97.61 178.52 L98.16 179.24 L98.72 179.93 L99.27 180.57 L99.83 181.12 L100.39 181.62 L100.94 182.05 L101.50 182.42 L102.06 182.73 L102.61 183.02 L103.17 183.26 L103.72 183.44 L104.28 183.58 L104.84 183.71 L105.39 183.83 L105.95 183.92 L106.50 183.98 L107.06 184.00 L107.62 184.00 L108.17 184.00 L108.73 184.00 L109.28 184.00 L109.84 184.00 L110.40 184.00 L110.95 184.00 L111.51 184.00 L112.07 184.00 L112.62 184.00 L113.18 184.00 L113.73 184.00 L114.29 184.00 L114.85 184.00 L115.40 184.00 L115.96 184.00 L116.51 184.00 L117.07 184.00 L117.63 184.00 L118.18 184.00 L118.74 184.00 L119.29 184.00 L119.85 184.00 L120.41 184.00 L120.96 184.00 L121.52 184.00 L122.08 184.00 L122.63 184.00 L123.19 184.00 L123.74 184.00 L124.30 184.00" fill="none" stroke="#a6d77c" stroke-width="0.95" stroke-linejoin="round" stroke-opacity="1"/>
<path d="M47.00 184.00 L47.56 184.00 L48.11 184.00 L48.67 184.00 L49.22 184.00 L49.78 184.00 L50.34 184.00 L50.89 184.00 L51.45 184.00 L52.01 184.00 L52.56 184.00 L53.12 184.00 L53.67 184.00 L54.23 184.00 L54.79 184.00 L55.34 184.00 L55.90 184.00 L56.45 184.00 L57.01 184.00 L57.57 184.00 L58.12 184.00 L58.68 184.00 L59.23 184.00 L59.79 184.00 L60.35 184.00 L60.90 184.00 L61.46 184.00 L62.02 184.00 L62.57 184.00 L63.13 184.00 L63.68 184.00 L64.24 184.00 L64.80 183.97 L65.35 183.89 L65.91 183.77 L66.46 183.62 L67.02 183.46 L67.58 183.28 L68.13 183.03 L68.69 182.70 L69.24 182.31 L69.80 181.89 L70.36 181.39 L70.91 180.81 L71.47 180.16 L72.03 179.45 L72.58 178.61 L73.14 177.69 L73.69 176.73 L74.25 175.74 L74.81 174.65 L75.36 173.45 L75.92 172.11 L76.47 170.56 L77.03 168.54 L77.59 166.19 L78.14 164.19 L78.70 162.64 L79.25 161.26 L79.81 160.07 L80.37 159.12 L80.92 158.33 L81.48 157.68 L82.04 157.30 L82.59 157.13 L83.15 157.01 L83.70 156.95 L84.26 156.93 L84.82 156.91 L85.37 156.90 L85.93 156.90 L86.48 156.91 L87.04 156.92 L87.60 156.94 L88.15 156.97 L88.71 157.05 L89.26 157.20 L89.82 157.43 L90.38 157.95 L90.93 158.69 L91.49 159.52 L92.05 160.59 L92.60 161.87 L93.16 163.34 L93.71 165.02 L94.27 167.27 L94.83 169.56 L95.38 171.30 L95.94 172.74 L96.49 174.02 L97.05 175.17 L97.61 176.21 L98.16 177.18 L98.72 178.12 L99.27 179.01 L99.83 179.79 L100.39 180.47 L100.94 181.09 L101.50 181.63 L102.06 182.09 L102.61 182.49 L103.17 182.86 L103.72 183.15 L104.28 183.36 L104.84 183.53 L105.39 183.69 L105.95 183.83 L106.50 183.93 L107.06 183.99 L107.62 184.00 L108.17 184.00 L108.73 184.00 L109.28 184.00 L109.84 184.00 L110.40 184.00 L110.95 184.00 L111.51 184.00 L112.07 184.00 L112.62 184.00 L113.18 184.00 L113.73 184.00 L114.29 184.00 L114.85 184.00 L115.40 184.00 L115.96 184.00 L116.51 184.00 L117.07 184.00 L117.63 184.00 L118.18 184.00 L118.74 184.00 L119.29 184.00 L119.85 184.00 L120.41 184.00 L120.96 184.00 L121.52 184.00 L122.08 184.00 L122.63 184.00 L123.19 184.00 L123.74 184.00 L124.30 184.00" fill="none" stroke="#fdd04a" stroke-width="0.95" stroke-linejoin="round" stroke-opacity="1"/>
<path d="M47.00 184.00 L47.56 184.00 L48.11 184.00 L48.67 184.00 L49.22 184.00 L49.78 184.00 L50.34 184.00 L50.89 184.00 L51.45 184.00 L52.01 184.00 L52.56 184.00 L53.12 184.00 L53.67 184.00 L54.23 184.00 L54.79 184.00 L55.34 184.00 L55.90 184.00 L56.45 184.00 L57.01 184.00 L57.57 184.00 L58.12 184.00 L58.68 184.00 L59.23 184.00 L59.79 184.00 L60.35 184.00 L60.90 184.00 L61.46 184.00 L62.02 184.00 L62.57 184.00 L63.13 184.00 L63.68 184.00 L64.24 184.00 L64.80 184.00 L65.35 184.00 L65.91 184.00 L66.46 183.94 L67.02 183.82 L67.58 183.64 L68.13 183.42 L68.69 183.18 L69.24 182.89 L69.80 182.47 L70.36 181.95 L70.91 181.38 L71.47 180.70 L72.03 179.90 L72.58 179.00 L73.14 177.99 L73.69 176.80 L74.25 175.51 L74.81 174.17 L75.36 172.75 L75.92 171.15 L76.47 169.38 L77.03 167.34 L77.59 164.74 L78.14 161.49 L78.70 158.67 L79.25 156.54 L79.81 154.65 L80.37 153.06 L80.92 151.83 L81.48 150.79 L82.04 150.02 L82.59 149.68 L83.15 149.48 L83.70 149.38 L84.26 149.34 L84.82 149.32 L85.37 149.30 L85.93 149.30 L86.48 149.31 L87.04 149.33 L87.60 149.36 L88.15 149.41 L88.71 149.57 L89.26 149.80 L89.82 150.32 L90.38 151.25 L90.93 152.35 L91.49 153.75 L92.05 155.49 L92.60 157.50 L93.16 159.85 L93.71 163.00 L94.27 166.07 L94.83 168.32 L95.38 170.22 L95.94 171.91 L96.49 173.42 L97.05 174.80 L97.61 176.11 L98.16 177.37 L98.72 178.48 L99.27 179.42 L99.83 180.28 L100.39 181.03 L100.94 181.65 L101.50 182.20 L102.06 182.67 L102.61 183.04 L103.17 183.29 L103.72 183.52 L104.28 183.73 L104.84 183.88 L105.39 183.98 L105.95 184.00 L106.50 184.00 L107.06 184.00 L107.62 184.00 L108.17 184.00 L108.73 184.00 L109.28 184.00 L109.84 184.00 L110.40 184.00 L110.95 184.00 L111.51 184.00 L112.07 184.00 L112.62 184.00 L113.18 184.00 L113.73 184.00 L114.29 184.00 L114.85 184.00 L115.40 184.00 L115.96 184.00 L116.51 184.00 L117.07 184.00 L117.63 184.00 L118.18 184.00 L118.74 184.00 L119.29 184.00 L119.85 184.00 L120.41 184.00 L120.96 184.00 L121.52 184.00 L122.08 184.00 L122.63 184.00 L123.19 184.00 L123.74 184.00 L124.30 184.00" fill="none" stroke="#3c3c3c" stroke-width="0.95" stroke-linejoin="round" stroke-opacity="1"/>
<text x="37.70" y="150.70" font-size="12" text-anchor="end" font-weight="normal" fill="#1a1a1a" >1.5</text>
<text x="37.70" y="187.70" font-size="12" text-anchor="end" font-weight="normal" fill="#1a1a1a" >0</text>
<text x="47.20" y="201.62" font-size="11.5" text-anchor="middle" font-weight="normal" fill="#1a1a1a" >-100</text>
<text x="85.80" y="201.62" font-size="11.5" text-anchor="middle" font-weight="normal" fill="#1a1a1a" >0</text>
<text x="125.20" y="201.62" font-size="11.5" text-anchor="middle" font-weight="normal" fill="#1a1a1a" >100</text>
<text x="58.40" y="162.30" font-size="14" text-anchor="middle" font-weight="normal" fill="#1a1a1a" >y</text>
<line x1="45.80" y1="244.40" x2="45.80" y2="317.30" stroke="#666" stroke-width="0.9" />
<line x1="45.50" y1="317.10" x2="191.60" y2="317.10" stroke="#8a8a8a" stroke-width="1.0" />
<path d="M46.00 317.00 L46.56 317.00 L47.12 317.00 L47.68 317.00 L48.24 317.00 L48.81 317.00 L49.37 317.00 L49.93 317.00 L50.49 317.00 L51.05 317.00 L51.61 317.00 L52.17 317.00 L52.73 316.99 L53.29 316.99 L53.85 316.99 L54.42 316.99 L54.98 316.99 L55.54 316.99 L56.10 316.99 L56.66 316.99 L57.22 316.99 L57.78 316.98 L58.34 316.98 L58.90 316.98 L59.46 316.98 L60.03 316.98 L60.59 316.98 L61.15 316.97 L61.71 316.97 L62.27 316.97 L62.83 316.97 L63.39 316.97 L63.95 316.96 L64.51 316.96 L65.07 316.96 L65.64 316.96 L66.20 316.95 L66.76 316.95 L67.32 316.95 L67.88 316.95 L68.44 316.94 L69.00 316.94 L69.56 316.94 L70.12 316.93 L70.68 316.93 L71.25 316.93 L71.81 316.92 L72.37 316.92 L72.93 316.91 L73.49 316.91 L74.05 316.91 L74.61 316.90 L75.17 316.90 L75.73 316.89 L76.29 316.89 L76.86 316.89 L77.42 316.88 L77.98 316.88 L78.54 316.87 L79.10 316.87 L79.66 316.86 L80.22 316.86 L80.78 316.85 L81.34 316.85 L81.90 316.84 L82.47 316.83 L83.03 316.83 L83.59 316.82 L84.15 316.82 L84.71 316.81 L85.27 316.81 L85.83 316.80 L86.39 316.79 L86.95 316.79 L87.51 316.78 L88.08 316.77 L88.64 316.77 L89.20 316.76 L89.76 316.75 L90.32 316.74 L90.88 316.74 L91.44 316.73 L92.00 316.72 L92.56 316.71 L93.12 316.71 L93.69 316.70 L94.25 316.69 L94.81 316.67 L95.37 316.66 L95.93 316.63 L96.49 316.61 L97.05 316.58 L97.61 316.54 L98.17 316.51 L98.73 316.46 L99.30 316.42 L99.86 316.37 L100.42 316.31 L100.98 316.25 L101.54 316.18 L102.10 316.11 L102.66 316.04 L103.22 315.96 L103.78 315.87 L104.34 315.72 L104.91 315.50 L105.47 315.23 L106.03 314.92 L106.59 314.59 L107.15 314.23 L107.71 313.84 L108.27 313.37 L108.83 312.83 L109.39 312.24 L109.95 311.62 L110.52 310.91 L111.08 310.13 L111.64 309.31 L112.20 308.50 L112.76 307.61 L113.32 306.67 L113.88 305.96 L114.44 305.63 L115.00 305.40 L115.56 305.30 L116.13 305.64 L116.69 306.43 L117.25 307.17 L117.81 307.84 L118.37 308.52 L118.93 308.39 L119.49 307.72 L120.05 307.06 L120.61 306.28 L121.17 305.53 L121.74 305.31 L122.30 305.43 L122.86 305.68 L123.42 306.06 L123.98 306.83 L124.54 307.78 L125.10 308.64 L125.66 309.45 L126.22 310.27 L126.78 311.05 L127.35 311.74 L127.91 312.35 L128.47 312.93 L129.03 313.45 L129.59 313.91 L130.15 314.30 L130.71 314.65 L131.27 314.98 L131.83 315.28 L132.39 315.54 L132.96 315.75 L133.52 315.89 L134.08 315.97 L134.64 316.05 L135.20 316.13 L135.76 316.20 L136.32 316.26 L136.88 316.32 L137.44 316.38 L138.00 316.43 L138.57 316.47 L139.13 316.51 L139.69 316.55 L140.25 316.58 L140.81 316.61 L141.37 316.64 L141.93 316.66 L142.49 316.68 L143.05 316.69 L143.61 316.70 L144.18 316.71 L144.74 316.72 L145.30 316.72 L145.86 316.73 L146.42 316.74 L146.98 316.75 L147.54 316.75 L148.10 316.76 L148.66 316.77 L149.22 316.77 L149.79 316.78 L150.35 316.79 L150.91 316.79 L151.47 316.80 L152.03 316.81 L152.59 316.81 L153.15 316.82 L153.71 316.82 L154.27 316.83 L154.83 316.84 L155.40 316.84 L155.96 316.85 L156.52 316.85 L157.08 316.86 L157.64 316.86 L158.20 316.87 L158.76 316.87 L159.32 316.88 L159.88 316.88 L160.44 316.89 L161.01 316.89 L161.57 316.89 L162.13 316.90 L162.69 316.90 L163.25 316.91 L163.81 316.91 L164.37 316.92 L164.93 316.92 L165.49 316.92 L166.05 316.93 L166.62 316.93 L167.18 316.93 L167.74 316.94 L168.30 316.94 L168.86 316.94 L169.42 316.95 L169.98 316.95 L170.54 316.95 L171.10 316.95 L171.66 316.96 L172.23 316.96 L172.79 316.96 L173.35 316.96 L173.91 316.97 L174.47 316.97 L175.03 316.97 L175.59 316.97 L176.15 316.97 L176.71 316.98 L177.27 316.98 L177.84 316.98 L178.40 316.98 L178.96 316.98 L179.52 316.98 L180.08 316.99 L180.64 316.99 L181.20 316.99 L181.76 316.99 L182.32 316.99 L182.88 316.99 L183.45 316.99 L184.01 316.99 L184.57 317.00 L185.13 317.00 L185.69 317.00 L186.25 317.00 L186.81 317.00 L187.37 317.00 L187.93 317.00 L188.49 317.00 L189.06 317.00 L189.62 317.00 L190.18 317.00 L190.74 317.00 L191.30 317.00" fill="none" stroke="#3d97dd" stroke-width="1.05" stroke-linejoin="round" stroke-opacity="1"/>
<path d="M46.00 317.00 L46.56 317.00 L47.12 317.00 L47.68 317.00 L48.24 317.00 L48.81 317.00 L49.37 317.00 L49.93 317.00 L50.49 317.00 L51.05 317.00 L51.61 317.00 L52.17 317.00 L52.73 317.00 L53.29 316.99 L53.85 316.99 L54.42 316.99 L54.98 316.99 L55.54 316.99 L56.10 316.99 L56.66 316.99 L57.22 316.99 L57.78 316.99 L58.34 316.98 L58.90 316.98 L59.46 316.98 L60.03 316.98 L60.59 316.98 L61.15 316.98 L61.71 316.97 L62.27 316.97 L62.83 316.97 L63.39 316.97 L63.95 316.96 L64.51 316.96 L65.07 316.96 L65.64 316.96 L66.20 316.95 L66.76 316.95 L67.32 316.95 L67.88 316.95 L68.44 316.94 L69.00 316.94 L69.56 316.94 L70.12 316.93 L70.68 316.93 L71.25 316.93 L71.81 316.92 L72.37 316.92 L72.93 316.92 L73.49 316.91 L74.05 316.91 L74.61 316.90 L75.17 316.90 L75.73 316.90 L76.29 316.89 L76.86 316.89 L77.42 316.88 L77.98 316.88 L78.54 316.87 L79.10 316.87 L79.66 316.86 L80.22 316.86 L80.78 316.85 L81.34 316.85 L81.90 316.84 L82.47 316.84 L83.03 316.83 L83.59 316.82 L84.15 316.82 L84.71 316.81 L85.27 316.81 L85.83 316.80 L86.39 316.79 L86.95 316.79 L87.51 316.78 L88.08 316.77 L88.64 316.77 L89.20 316.76 L89.76 316.75 L90.32 316.75 L90.88 316.74 L91.44 316.73 L92.00 316.72 L92.56 316.71 L93.12 316.71 L93.69 316.70 L94.25 316.69 L94.81 316.67 L95.37 316.65 L95.93 316.63 L96.49 316.60 L97.05 316.56 L97.61 316.52 L98.17 316.48 L98.73 316.43 L99.30 316.37 L99.86 316.31 L100.42 316.25 L100.98 316.18 L101.54 316.11 L102.10 316.03 L102.66 315.95 L103.22 315.86 L103.78 315.77 L104.34 315.63 L104.91 315.43 L105.47 315.19 L106.03 314.92 L106.59 314.61 L107.15 314.28 L107.71 313.93 L108.27 313.49 L108.83 312.97 L109.39 312.38 L109.95 311.77 L110.52 311.14 L111.08 310.46 L111.64 309.74 L112.20 309.01 L112.76 308.30 L113.32 307.53 L113.88 306.77 L114.44 306.14 L115.00 305.68 L115.56 305.26 L116.13 304.95 L116.69 304.79 L117.25 304.70 L117.81 304.64 L118.37 304.60 L118.93 304.61 L119.49 304.65 L120.05 304.71 L120.61 304.80 L121.17 304.99 L121.74 305.33 L122.30 305.76 L122.86 306.24 L123.42 306.90 L123.98 307.67 L124.54 308.42 L125.10 309.14 L125.66 309.87 L126.22 310.59 L126.78 311.26 L127.35 311.88 L127.91 312.49 L128.47 313.07 L129.03 313.58 L129.59 313.99 L130.15 314.34 L130.71 314.67 L131.27 314.97 L131.83 315.24 L132.39 315.47 L132.96 315.65 L133.52 315.79 L134.08 315.88 L134.64 315.96 L135.20 316.05 L135.76 316.12 L136.32 316.19 L136.88 316.26 L137.44 316.33 L138.00 316.38 L138.57 316.44 L139.13 316.48 L139.69 316.53 L140.25 316.57 L140.81 316.60 L141.37 316.63 L141.93 316.65 L142.49 316.67 L143.05 316.69 L143.61 316.70 L144.18 316.71 L144.74 316.72 L145.30 316.72 L145.86 316.73 L146.42 316.74 L146.98 316.75 L147.54 316.75 L148.10 316.76 L148.66 316.77 L149.22 316.77 L149.79 316.78 L150.35 316.79 L150.91 316.79 L151.47 316.80 L152.03 316.81 L152.59 316.81 L153.15 316.82 L153.71 316.83 L154.27 316.83 L154.83 316.84 L155.40 316.84 L155.96 316.85 L156.52 316.85 L157.08 316.86 L157.64 316.86 L158.20 316.87 L158.76 316.87 L159.32 316.88 L159.88 316.88 L160.44 316.89 L161.01 316.89 L161.57 316.90 L162.13 316.90 L162.69 316.90 L163.25 316.91 L163.81 316.91 L164.37 316.92 L164.93 316.92 L165.49 316.92 L166.05 316.93 L166.62 316.93 L167.18 316.93 L167.74 316.94 L168.30 316.94 L168.86 316.94 L169.42 316.95 L169.98 316.95 L170.54 316.95 L171.10 316.95 L171.66 316.96 L172.23 316.96 L172.79 316.96 L173.35 316.96 L173.91 316.97 L174.47 316.97 L175.03 316.97 L175.59 316.97 L176.15 316.98 L176.71 316.98 L177.27 316.98 L177.84 316.98 L178.40 316.98 L178.96 316.98 L179.52 316.99 L180.08 316.99 L180.64 316.99 L181.20 316.99 L181.76 316.99 L182.32 316.99 L182.88 316.99 L183.45 316.99 L184.01 316.99 L184.57 317.00 L185.13 317.00 L185.69 317.00 L186.25 317.00 L186.81 317.00 L187.37 317.00 L187.93 317.00 L188.49 317.00 L189.06 317.00 L189.62 317.00 L190.18 317.00 L190.74 317.00 L191.30 317.00" fill="none" stroke="#3d97dd" stroke-width="0.95" stroke-linejoin="round" stroke-opacity="1" stroke-dasharray="1.5 1.1"/>
<path d="M46.00 317.00 L46.56 317.00 L47.12 317.00 L47.68 317.00 L48.24 317.00 L48.81 317.00 L49.37 316.99 L49.93 316.99 L50.49 316.99 L51.05 316.99 L51.61 316.99 L52.17 316.98 L52.73 316.98 L53.29 316.98 L53.85 316.97 L54.42 316.97 L54.98 316.97 L55.54 316.96 L56.10 316.96 L56.66 316.96 L57.22 316.95 L57.78 316.95 L58.34 316.94 L58.90 316.94 L59.46 316.94 L60.03 316.93 L60.59 316.93 L61.15 316.92 L61.71 316.92 L62.27 316.91 L62.83 316.91 L63.39 316.90 L63.95 316.90 L64.51 316.89 L65.07 316.89 L65.64 316.88 L66.20 316.87 L66.76 316.86 L67.32 316.86 L67.88 316.85 L68.44 316.84 L69.00 316.83 L69.56 316.82 L70.12 316.81 L70.68 316.80 L71.25 316.79 L71.81 316.78 L72.37 316.77 L72.93 316.75 L73.49 316.74 L74.05 316.73 L74.61 316.71 L75.17 316.70 L75.73 316.68 L76.29 316.66 L76.86 316.65 L77.42 316.63 L77.98 316.61 L78.54 316.59 L79.10 316.57 L79.66 316.55 L80.22 316.53 L80.78 316.51 L81.34 316.49 L81.90 316.46 L82.47 316.44 L83.03 316.41 L83.59 316.39 L84.15 316.36 L84.71 316.33 L85.27 316.31 L85.83 316.28 L86.39 316.25 L86.95 316.22 L87.51 316.19 L88.08 316.15 L88.64 316.12 L89.20 316.09 L89.76 316.05 L90.32 316.02 L90.88 315.98 L91.44 315.93 L92.00 315.87 L92.56 315.81 L93.12 315.73 L93.69 315.64 L94.25 315.54 L94.81 315.43 L95.37 315.32 L95.93 315.19 L96.49 315.06 L97.05 314.92 L97.61 314.78 L98.17 314.62 L98.73 314.46 L99.30 314.29 L99.86 314.12 L100.42 313.91 L100.98 313.66 L101.54 313.38 L102.10 313.07 L102.66 312.72 L103.22 312.35 L103.78 311.96 L104.34 311.53 L104.91 311.01 L105.47 310.42 L106.03 309.77 L106.59 309.07 L107.15 308.33 L107.71 307.49 L108.27 306.57 L108.83 305.63 L109.39 304.67 L109.95 303.66 L110.52 302.62 L111.08 301.58 L111.64 300.56 L112.20 299.45 L112.76 298.37 L113.32 297.50 L113.88 296.96 L114.44 296.52 L115.00 296.18 L115.56 296.00 L116.13 295.94 L116.69 295.88 L117.25 295.84 L117.81 295.81 L118.37 295.80 L118.93 295.80 L119.49 295.82 L120.05 295.85 L120.61 295.89 L121.17 295.95 L121.74 296.02 L122.30 296.23 L122.86 296.59 L123.42 297.04 L123.98 297.63 L124.54 298.55 L125.10 299.65 L125.66 300.75 L126.22 301.77 L126.78 302.81 L127.35 303.84 L127.91 304.84 L128.47 305.80 L129.03 306.74 L129.59 307.64 L130.15 308.47 L130.71 309.20 L131.27 309.88 L131.83 310.53 L132.39 311.11 L132.96 311.61 L133.52 312.03 L134.08 312.42 L134.64 312.79 L135.20 313.12 L135.76 313.43 L136.32 313.71 L136.88 313.95 L137.44 314.15 L138.00 314.32 L138.57 314.49 L139.13 314.65 L139.69 314.80 L140.25 314.95 L140.81 315.09 L141.37 315.22 L141.93 315.34 L142.49 315.45 L143.05 315.56 L143.61 315.66 L144.18 315.74 L144.74 315.82 L145.30 315.89 L145.86 315.94 L146.42 315.99 L146.98 316.02 L147.54 316.06 L148.10 316.09 L148.66 316.13 L149.22 316.16 L149.79 316.19 L150.35 316.22 L150.91 316.25 L151.47 316.28 L152.03 316.31 L152.59 316.34 L153.15 316.37 L153.71 316.39 L154.27 316.42 L154.83 316.44 L155.40 316.47 L155.96 316.49 L156.52 316.51 L157.08 316.53 L157.64 316.55 L158.20 316.57 L158.76 316.59 L159.32 316.61 L159.88 316.63 L160.44 316.65 L161.01 316.67 L161.57 316.68 L162.13 316.70 L162.69 316.71 L163.25 316.73 L163.81 316.74 L164.37 316.75 L164.93 316.77 L165.49 316.78 L166.05 316.79 L166.62 316.80 L167.18 316.81 L167.74 316.82 L168.30 316.83 L168.86 316.84 L169.42 316.85 L169.98 316.86 L170.54 316.87 L171.10 316.87 L171.66 316.88 L172.23 316.89 L172.79 316.89 L173.35 316.90 L173.91 316.90 L174.47 316.91 L175.03 316.91 L175.59 316.92 L176.15 316.92 L176.71 316.93 L177.27 316.93 L177.84 316.94 L178.40 316.94 L178.96 316.95 L179.52 316.95 L180.08 316.95 L180.64 316.96 L181.20 316.96 L181.76 316.97 L182.32 316.97 L182.88 316.97 L183.45 316.98 L184.01 316.98 L184.57 316.98 L185.13 316.98 L185.69 316.99 L186.25 316.99 L186.81 316.99 L187.37 316.99 L187.93 316.99 L188.49 317.00 L189.06 317.00 L189.62 317.00 L190.18 317.00 L190.74 317.00 L191.30 317.00" fill="none" stroke="#dc2f2f" stroke-width="1.05" stroke-linejoin="round" stroke-opacity="1"/>
<path d="M46.00 317.00 L46.56 317.00 L47.12 317.00 L47.68 317.00 L48.24 317.00 L48.81 317.00 L49.37 316.99 L49.93 316.99 L50.49 316.99 L51.05 316.99 L51.61 316.99 L52.17 316.98 L52.73 316.98 L53.29 316.98 L53.85 316.98 L54.42 316.97 L54.98 316.97 L55.54 316.97 L56.10 316.96 L56.66 316.96 L57.22 316.95 L57.78 316.95 L58.34 316.95 L58.90 316.94 L59.46 316.94 L60.03 316.93 L60.59 316.93 L61.15 316.92 L61.71 316.92 L62.27 316.91 L62.83 316.91 L63.39 316.90 L63.95 316.90 L64.51 316.89 L65.07 316.88 L65.64 316.88 L66.20 316.87 L66.76 316.86 L67.32 316.85 L67.88 316.84 L68.44 316.83 L69.00 316.82 L69.56 316.81 L70.12 316.80 L70.68 316.78 L71.25 316.77 L71.81 316.75 L72.37 316.74 L72.93 316.72 L73.49 316.71 L74.05 316.69 L74.61 316.67 L75.17 316.65 L75.73 316.63 L76.29 316.61 L76.86 316.59 L77.42 316.57 L77.98 316.54 L78.54 316.52 L79.10 316.50 L79.66 316.47 L80.22 316.44 L80.78 316.42 L81.34 316.39 L81.90 316.36 L82.47 316.33 L83.03 316.30 L83.59 316.27 L84.15 316.24 L84.71 316.20 L85.27 316.17 L85.83 316.13 L86.39 316.10 L86.95 316.06 L87.51 316.02 L88.08 315.99 L88.64 315.95 L89.20 315.91 L89.76 315.86 L90.32 315.82 L90.88 315.78 L91.44 315.72 L92.00 315.66 L92.56 315.59 L93.12 315.51 L93.69 315.41 L94.25 315.31 L94.81 315.20 L95.37 315.08 L95.93 314.95 L96.49 314.81 L97.05 314.66 L97.61 314.50 L98.17 314.34 L98.73 314.16 L99.30 313.97 L99.86 313.77 L100.42 313.57 L100.98 313.34 L101.54 313.04 L102.10 312.68 L102.66 312.26 L103.22 311.80 L103.78 311.29 L104.34 310.75 L104.91 310.17 L105.47 309.48 L106.03 308.68 L106.59 307.81 L107.15 306.91 L107.71 305.98 L108.27 304.97 L108.83 303.91 L109.39 302.80 L109.95 301.69 L110.52 300.53 L111.08 299.34 L111.64 298.15 L112.20 297.00 L112.76 295.86 L113.32 294.71 L113.88 293.63 L114.44 292.71 L115.00 291.97 L115.56 291.28 L116.13 290.75 L116.69 290.48 L117.25 290.35 L117.81 290.25 L118.37 290.20 L118.93 290.21 L119.49 290.27 L120.05 290.37 L120.61 290.50 L121.17 290.82 L121.74 291.40 L122.30 292.10 L122.86 292.86 L123.42 293.81 L123.98 294.91 L124.54 296.07 L125.10 297.20 L125.66 298.36 L126.22 299.55 L126.78 300.74 L127.35 301.89 L127.91 303.00 L128.47 304.10 L129.03 305.16 L129.59 306.15 L130.15 307.07 L130.71 307.97 L131.27 308.83 L131.83 309.61 L132.39 310.28 L132.96 310.85 L133.52 311.38 L134.08 311.88 L134.64 312.34 L135.20 312.75 L135.76 313.10 L136.32 313.38 L136.88 313.61 L137.44 313.81 L138.00 314.01 L138.57 314.19 L139.13 314.37 L139.69 314.53 L140.25 314.69 L140.81 314.84 L141.37 314.98 L141.93 315.10 L142.49 315.22 L143.05 315.33 L143.61 315.43 L144.18 315.52 L144.74 315.60 L145.30 315.67 L145.86 315.73 L146.42 315.79 L146.98 315.83 L147.54 315.87 L148.10 315.91 L148.66 315.95 L149.22 315.99 L149.79 316.03 L150.35 316.07 L150.91 316.11 L151.47 316.14 L152.03 316.18 L152.59 316.21 L153.15 316.24 L153.71 316.28 L154.27 316.31 L154.83 316.34 L155.40 316.37 L155.96 316.39 L156.52 316.42 L157.08 316.45 L157.64 316.48 L158.20 316.50 L158.76 316.53 L159.32 316.55 L159.88 316.57 L160.44 316.59 L161.01 316.61 L161.57 316.64 L162.13 316.65 L162.69 316.67 L163.25 316.69 L163.81 316.71 L164.37 316.73 L164.93 316.74 L165.49 316.76 L166.05 316.77 L166.62 316.79 L167.18 316.80 L167.74 316.81 L168.30 316.82 L168.86 316.83 L169.42 316.84 L169.98 316.85 L170.54 316.86 L171.10 316.87 L171.66 316.88 L172.23 316.89 L172.79 316.89 L173.35 316.90 L173.91 316.90 L174.47 316.91 L175.03 316.91 L175.59 316.92 L176.15 316.92 L176.71 316.93 L177.27 316.93 L177.84 316.94 L178.40 316.94 L178.96 316.95 L179.52 316.95 L180.08 316.95 L180.64 316.96 L181.20 316.96 L181.76 316.97 L182.32 316.97 L182.88 316.97 L183.45 316.98 L184.01 316.98 L184.57 316.98 L185.13 316.98 L185.69 316.99 L186.25 316.99 L186.81 316.99 L187.37 316.99 L187.93 316.99 L188.49 317.00 L189.06 317.00 L189.62 317.00 L190.18 317.00 L190.74 317.00 L191.30 317.00" fill="none" stroke="#dc2f2f" stroke-width="0.95" stroke-linejoin="round" stroke-opacity="1" stroke-dasharray="1.5 1.1"/>
<path d="M46.00 317.00 L46.56 317.00 L47.12 317.00 L47.68 317.00 L48.24 316.99 L48.81 316.99 L49.37 316.99 L49.93 316.99 L50.49 316.98 L51.05 316.98 L51.61 316.97 L52.17 316.97 L52.73 316.96 L53.29 316.96 L53.85 316.95 L54.42 316.94 L54.98 316.94 L55.54 316.93 L56.10 316.92 L56.66 316.91 L57.22 316.91 L57.78 316.90 L58.34 316.89 L58.90 316.88 L59.46 316.87 L60.03 316.86 L60.59 316.85 L61.15 316.84 L61.71 316.83 L62.27 316.82 L62.83 316.81 L63.39 316.80 L63.95 316.79 L64.51 316.78 L65.07 316.77 L65.64 316.76 L66.20 316.74 L66.76 316.73 L67.32 316.72 L67.88 316.70 L68.44 316.68 L69.00 316.67 L69.56 316.65 L70.12 316.63 L70.68 316.61 L71.25 316.59 L71.81 316.56 L72.37 316.54 L72.93 316.52 L73.49 316.49 L74.05 316.46 L74.61 316.44 L75.17 316.41 L75.73 316.38 L76.29 316.35 L76.86 316.32 L77.42 316.29 L77.98 316.25 L78.54 316.22 L79.10 316.18 L79.66 316.15 L80.22 316.11 L80.78 316.07 L81.34 316.03 L81.90 315.99 L82.47 315.94 L83.03 315.90 L83.59 315.86 L84.15 315.81 L84.71 315.76 L85.27 315.71 L85.83 315.66 L86.39 315.61 L86.95 315.56 L87.51 315.51 L88.08 315.45 L88.64 315.40 L89.20 315.33 L89.76 315.26 L90.32 315.17 L90.88 315.08 L91.44 314.97 L92.00 314.86 L92.56 314.73 L93.12 314.60 L93.69 314.45 L94.25 314.30 L94.81 314.13 L95.37 313.96 L95.93 313.78 L96.49 313.60 L97.05 313.40 L97.61 313.20 L98.17 312.97 L98.73 312.71 L99.30 312.41 L99.86 312.08 L100.42 311.72 L100.98 311.32 L101.54 310.89 L102.10 310.43 L102.66 309.94 L103.22 309.37 L103.78 308.68 L104.34 307.91 L104.91 307.08 L105.47 306.21 L106.03 305.29 L106.59 304.28 L107.15 303.19 L107.71 302.07 L108.27 300.96 L108.83 299.80 L109.39 298.62 L109.95 297.44 L110.52 296.26 L111.08 295.06 L111.64 293.85 L112.20 292.68 L112.76 291.58 L113.32 290.52 L113.88 289.47 L114.44 288.52 L115.00 287.72 L115.56 287.12 L116.13 286.57 L116.69 286.16 L117.25 285.97 L117.81 285.86 L118.37 285.81 L118.93 285.81 L119.49 285.88 L120.05 285.99 L120.61 286.22 L121.17 286.66 L121.74 287.22 L122.30 287.85 L122.86 288.68 L123.42 289.66 L123.98 290.71 L124.54 291.76 L125.10 292.88 L125.66 294.06 L126.22 295.27 L126.78 296.47 L127.35 297.65 L127.91 298.84 L128.47 300.01 L129.03 301.16 L129.59 302.27 L130.15 303.39 L130.71 304.46 L131.27 305.46 L131.83 306.37 L132.39 307.23 L132.96 308.05 L133.52 308.81 L134.08 309.48 L134.64 310.03 L135.20 310.52 L135.76 310.97 L136.32 311.39 L136.88 311.78 L137.44 312.14 L138.00 312.47 L138.57 312.76 L139.13 313.01 L139.69 313.23 L140.25 313.43 L140.81 313.63 L141.37 313.82 L141.93 313.99 L142.49 314.16 L143.05 314.33 L143.61 314.48 L144.18 314.62 L144.74 314.75 L145.30 314.88 L145.86 314.99 L146.42 315.10 L146.98 315.19 L147.54 315.27 L148.10 315.35 L148.66 315.41 L149.22 315.46 L149.79 315.52 L150.35 315.57 L150.91 315.62 L151.47 315.67 L152.03 315.72 L152.59 315.77 L153.15 315.82 L153.71 315.86 L154.27 315.91 L154.83 315.95 L155.40 315.99 L155.96 316.04 L156.52 316.08 L157.08 316.11 L157.64 316.15 L158.20 316.19 L158.76 316.22 L159.32 316.26 L159.88 316.29 L160.44 316.32 L161.01 316.35 L161.57 316.38 L162.13 316.41 L162.69 316.44 L163.25 316.47 L163.81 316.50 L164.37 316.52 L164.93 316.54 L165.49 316.57 L166.05 316.59 L166.62 316.61 L167.18 316.63 L167.74 316.65 L168.30 316.67 L168.86 316.69 L169.42 316.70 L169.98 316.72 L170.54 316.73 L171.10 316.75 L171.66 316.76 L172.23 316.77 L172.79 316.78 L173.35 316.80 L173.91 316.81 L174.47 316.82 L175.03 316.83 L175.59 316.83 L176.15 316.84 L176.71 316.85 L177.27 316.86 L177.84 316.87 L178.40 316.88 L178.96 316.89 L179.52 316.90 L180.08 316.91 L180.64 316.91 L181.20 316.92 L181.76 316.93 L182.32 316.94 L182.88 316.94 L183.45 316.95 L184.01 316.96 L184.57 316.96 L185.13 316.97 L185.69 316.97 L186.25 316.98 L186.81 316.98 L187.37 316.99 L187.93 316.99 L188.49 316.99 L189.06 316.99 L189.62 317.00 L190.18 317.00 L190.74 317.00 L191.30 317.00" fill="none" stroke="#8fd04e" stroke-width="1.05" stroke-linejoin="round" stroke-opacity="1"/>
<path d="M46.00 317.00 L46.56 317.00 L47.12 317.00 L47.68 317.00 L48.24 316.99 L48.81 316.99 L49.37 316.99 L49.93 316.99 L50.49 316.98 L51.05 316.98 L51.61 316.97 L52.17 316.97 L52.73 316.96 L53.29 316.96 L53.85 316.95 L54.42 316.94 L54.98 316.94 L55.54 316.93 L56.10 316.92 L56.66 316.91 L57.22 316.91 L57.78 316.90 L58.34 316.89 L58.90 316.88 L59.46 316.87 L60.03 316.86 L60.59 316.85 L61.15 316.84 L61.71 316.83 L62.27 316.82 L62.83 316.81 L63.39 316.80 L63.95 316.79 L64.51 316.78 L65.07 316.77 L65.64 316.76 L66.20 316.74 L66.76 316.73 L67.32 316.71 L67.88 316.69 L68.44 316.68 L69.00 316.66 L69.56 316.64 L70.12 316.62 L70.68 316.59 L71.25 316.57 L71.81 316.55 L72.37 316.52 L72.93 316.49 L73.49 316.47 L74.05 316.44 L74.61 316.41 L75.17 316.38 L75.73 316.35 L76.29 316.31 L76.86 316.28 L77.42 316.24 L77.98 316.21 L78.54 316.17 L79.10 316.13 L79.66 316.09 L80.22 316.05 L80.78 316.01 L81.34 315.97 L81.90 315.92 L82.47 315.88 L83.03 315.83 L83.59 315.78 L84.15 315.73 L84.71 315.68 L85.27 315.63 L85.83 315.58 L86.39 315.52 L86.95 315.47 L87.51 315.41 L88.08 315.36 L88.64 315.30 L89.20 315.23 L89.76 315.16 L90.32 315.08 L90.88 314.98 L91.44 314.88 L92.00 314.77 L92.56 314.65 L93.12 314.53 L93.69 314.39 L94.25 314.24 L94.81 314.09 L95.37 313.92 L95.93 313.75 L96.49 313.57 L97.05 313.38 L97.61 313.18 L98.17 312.97 L98.73 312.75 L99.30 312.49 L99.86 312.18 L100.42 311.83 L100.98 311.44 L101.54 311.00 L102.10 310.53 L102.66 310.02 L103.22 309.48 L103.78 308.84 L104.34 308.07 L104.91 307.21 L105.47 306.28 L106.03 305.30 L106.59 304.29 L107.15 303.18 L107.71 301.99 L108.27 300.74 L108.83 299.46 L109.39 298.10 L109.95 296.67 L110.52 295.23 L111.08 293.81 L111.64 292.37 L112.20 290.92 L112.76 289.52 L113.32 288.23 L113.88 286.96 L114.44 285.77 L115.00 284.77 L115.56 284.04 L116.13 283.40 L116.69 282.91 L117.25 282.65 L117.81 282.50 L118.37 282.41 L118.93 282.42 L119.49 282.52 L120.05 282.68 L120.61 282.98 L121.17 283.50 L121.74 284.16 L122.30 284.93 L122.86 285.97 L123.42 287.19 L123.98 288.45 L124.54 289.76 L125.10 291.18 L125.66 292.63 L126.22 294.06 L126.78 295.49 L127.35 296.93 L127.91 298.35 L128.47 299.70 L129.03 300.97 L129.59 302.21 L130.15 303.38 L130.71 304.48 L131.27 305.48 L131.83 306.45 L132.39 307.37 L132.96 308.22 L133.52 308.96 L134.08 309.58 L134.64 310.11 L135.20 310.62 L135.76 311.08 L136.32 311.51 L136.88 311.90 L137.44 312.24 L138.00 312.54 L138.57 312.79 L139.13 313.00 L139.69 313.21 L140.25 313.41 L140.81 313.60 L141.37 313.78 L141.93 313.95 L142.49 314.12 L143.05 314.27 L143.61 314.41 L144.18 314.55 L144.74 314.68 L145.30 314.79 L145.86 314.90 L146.42 315.00 L146.98 315.09 L147.54 315.17 L148.10 315.24 L148.66 315.31 L149.22 315.37 L149.79 315.42 L150.35 315.48 L150.91 315.53 L151.47 315.59 L152.03 315.64 L152.59 315.69 L153.15 315.74 L153.71 315.79 L154.27 315.84 L154.83 315.88 L155.40 315.93 L155.96 315.97 L156.52 316.02 L157.08 316.06 L157.64 316.10 L158.20 316.14 L158.76 316.18 L159.32 316.21 L159.88 316.25 L160.44 316.29 L161.01 316.32 L161.57 316.35 L162.13 316.38 L162.69 316.41 L163.25 316.44 L163.81 316.47 L164.37 316.50 L164.93 316.53 L165.49 316.55 L166.05 316.57 L166.62 316.60 L167.18 316.62 L167.74 316.64 L168.30 316.66 L168.86 316.68 L169.42 316.70 L169.98 316.71 L170.54 316.73 L171.10 316.75 L171.66 316.76 L172.23 316.77 L172.79 316.78 L173.35 316.80 L173.91 316.81 L174.47 316.82 L175.03 316.83 L175.59 316.84 L176.15 316.84 L176.71 316.85 L177.27 316.86 L177.84 316.87 L178.40 316.88 L178.96 316.89 L179.52 316.90 L180.08 316.91 L180.64 316.92 L181.20 316.92 L181.76 316.93 L182.32 316.94 L182.88 316.94 L183.45 316.95 L184.01 316.96 L184.57 316.96 L185.13 316.97 L185.69 316.97 L186.25 316.98 L186.81 316.98 L187.37 316.99 L187.93 316.99 L188.49 316.99 L189.06 316.99 L189.62 317.00 L190.18 317.00 L190.74 317.00 L191.30 317.00" fill="none" stroke="#8fd04e" stroke-width="0.95" stroke-linejoin="round" stroke-opacity="1" stroke-dasharray="1.5 1.1"/>
<path d="M46.00 316.99 L46.56 316.96 L47.12 316.94 L47.68 316.92 L48.24 316.90 L48.81 316.87 L49.37 316.85 L49.93 316.82 L50.49 316.80 L51.05 316.77 L51.61 316.74 L52.17 316.71 L52.73 316.68 L53.29 316.65 L53.85 316.62 L54.42 316.59 L54.98 316.56 L55.54 316.53 L56.10 316.49 L56.66 316.46 L57.22 316.42 L57.78 316.39 L58.34 316.35 L58.90 316.32 L59.46 316.28 L60.03 316.24 L60.59 316.21 L61.15 316.17 L61.71 316.13 L62.27 316.09 L62.83 316.05 L63.39 316.01 L63.95 315.98 L64.51 315.94 L65.07 315.90 L65.64 315.86 L66.20 315.82 L66.76 315.78 L67.32 315.74 L67.88 315.70 L68.44 315.65 L69.00 315.61 L69.56 315.57 L70.12 315.52 L70.68 315.48 L71.25 315.43 L71.81 315.39 L72.37 315.34 L72.93 315.29 L73.49 315.24 L74.05 315.19 L74.61 315.13 L75.17 315.08 L75.73 315.02 L76.29 314.96 L76.86 314.90 L77.42 314.84 L77.98 314.77 L78.54 314.70 L79.10 314.63 L79.66 314.56 L80.22 314.49 L80.78 314.41 L81.34 314.33 L81.90 314.24 L82.47 314.16 L83.03 314.06 L83.59 313.95 L84.15 313.83 L84.71 313.70 L85.27 313.56 L85.83 313.41 L86.39 313.25 L86.95 313.09 L87.51 312.91 L88.08 312.73 L88.64 312.55 L89.20 312.35 L89.76 312.16 L90.32 311.96 L90.88 311.75 L91.44 311.52 L92.00 311.29 L92.56 311.04 L93.12 310.77 L93.69 310.49 L94.25 310.19 L94.81 309.87 L95.37 309.54 L95.93 309.18 L96.49 308.80 L97.05 308.38 L97.61 307.91 L98.17 307.40 L98.73 306.86 L99.30 306.27 L99.86 305.64 L100.42 304.98 L100.98 304.29 L101.54 303.54 L102.10 302.73 L102.66 301.82 L103.22 300.83 L103.78 299.75 L104.34 298.57 L104.91 297.25 L105.47 295.66 L106.03 293.87 L106.59 292.00 L107.15 290.16 L107.71 288.28 L108.27 286.31 L108.83 284.49 L109.39 283.05 L109.95 281.91 L110.52 280.93 L111.08 280.01 L111.64 279.07 L112.20 278.00 L112.76 276.71 L113.32 275.24 L113.88 273.74 L114.44 272.37 L115.00 271.29 L115.56 270.53 L116.13 269.87 L116.69 269.38 L117.25 269.17 L117.81 269.06 L118.37 269.01 L118.93 269.01 L119.49 269.08 L120.05 269.19 L120.61 269.45 L121.17 269.98 L121.74 270.66 L122.30 271.45 L122.86 272.60 L123.42 274.00 L123.98 275.51 L124.54 276.96 L125.10 278.21 L125.66 279.24 L126.22 280.17 L126.78 281.10 L127.35 282.10 L127.91 283.28 L128.47 284.79 L129.03 286.66 L129.59 288.63 L130.15 290.48 L130.71 292.34 L131.27 294.20 L131.83 295.96 L132.39 297.51 L132.96 298.79 L133.52 299.95 L134.08 301.02 L134.64 301.99 L135.20 302.88 L135.76 303.68 L136.32 304.41 L136.88 305.10 L137.44 305.76 L138.00 306.38 L138.57 306.96 L139.13 307.50 L139.69 308.00 L140.25 308.45 L140.81 308.87 L141.37 309.24 L141.93 309.60 L142.49 309.93 L143.05 310.25 L143.61 310.54 L144.18 310.82 L144.74 311.08 L145.30 311.33 L145.86 311.56 L146.42 311.79 L146.98 311.99 L147.54 312.19 L148.10 312.39 L148.66 312.58 L149.22 312.76 L149.79 312.94 L150.35 313.12 L150.91 313.28 L151.47 313.44 L152.03 313.59 L152.59 313.72 L153.15 313.85 L153.71 313.97 L154.27 314.08 L154.83 314.17 L155.40 314.26 L155.96 314.34 L156.52 314.42 L157.08 314.50 L157.64 314.57 L158.20 314.64 L158.76 314.71 L159.32 314.78 L159.88 314.85 L160.44 314.91 L161.01 314.97 L161.57 315.03 L162.13 315.09 L162.69 315.14 L163.25 315.20 L163.81 315.25 L164.37 315.30 L164.93 315.35 L165.49 315.40 L166.05 315.44 L166.62 315.49 L167.18 315.53 L167.74 315.58 L168.30 315.62 L168.86 315.66 L169.42 315.70 L169.98 315.74 L170.54 315.78 L171.10 315.82 L171.66 315.86 L172.23 315.90 L172.79 315.94 L173.35 315.98 L173.91 316.02 L174.47 316.06 L175.03 316.10 L175.59 316.14 L176.15 316.18 L176.71 316.21 L177.27 316.25 L177.84 316.29 L178.40 316.32 L178.96 316.36 L179.52 316.40 L180.08 316.43 L180.64 316.46 L181.20 316.50 L181.76 316.53 L182.32 316.56 L182.88 316.60 L183.45 316.63 L184.01 316.66 L184.57 316.69 L185.13 316.72 L185.69 316.75 L186.25 316.77 L186.81 316.80 L187.37 316.83 L187.93 316.85 L188.49 316.88 L189.06 316.90 L189.62 316.92 L190.18 316.95 L190.74 316.97 L191.30 316.99" fill="none" stroke="#34559c" stroke-width="1.05" stroke-linejoin="round" stroke-opacity="1"/>
<path d="M46.00 316.99 L46.56 316.99 L47.12 316.98 L47.68 316.97 L48.24 316.96 L48.81 316.94 L49.37 316.93 L49.93 316.92 L50.49 316.90 L51.05 316.89 L51.61 316.87 L52.17 316.86 L52.73 316.84 L53.29 316.82 L53.85 316.80 L54.42 316.78 L54.98 316.76 L55.54 316.74 L56.10 316.72 L56.66 316.70 L57.22 316.68 L57.78 316.65 L58.34 316.63 L58.90 316.61 L59.46 316.58 L60.03 316.56 L60.59 316.54 L61.15 316.51 L61.71 316.49 L62.27 316.46 L62.83 316.44 L63.39 316.41 L63.95 316.38 L64.51 316.36 L65.07 316.33 L65.64 316.30 L66.20 316.28 L66.76 316.25 L67.32 316.22 L67.88 316.19 L68.44 316.16 L69.00 316.13 L69.56 316.09 L70.12 316.06 L70.68 316.03 L71.25 315.99 L71.81 315.95 L72.37 315.92 L72.93 315.88 L73.49 315.84 L74.05 315.80 L74.61 315.75 L75.17 315.71 L75.73 315.66 L76.29 315.61 L76.86 315.57 L77.42 315.51 L77.98 315.46 L78.54 315.41 L79.10 315.35 L79.66 315.29 L80.22 315.23 L80.78 315.17 L81.34 315.10 L81.90 315.04 L82.47 314.97 L83.03 314.89 L83.59 314.80 L84.15 314.70 L84.71 314.59 L85.27 314.47 L85.83 314.35 L86.39 314.21 L86.95 314.07 L87.51 313.92 L88.08 313.76 L88.64 313.60 L89.20 313.43 L89.76 313.25 L90.32 313.06 L90.88 312.87 L91.44 312.67 L92.00 312.47 L92.56 312.26 L93.12 312.04 L93.69 311.79 L94.25 311.52 L94.81 311.24 L95.37 310.93 L95.93 310.60 L96.49 310.24 L97.05 309.86 L97.61 309.45 L98.17 309.02 L98.73 308.54 L99.30 307.98 L99.86 307.35 L100.42 306.65 L100.98 305.88 L101.54 305.05 L102.10 304.16 L102.66 303.21 L103.22 302.15 L103.78 300.94 L104.34 299.55 L104.91 297.94 L105.47 295.98 L106.03 293.17 L106.59 290.06 L107.15 286.72 L107.71 283.44 L108.27 280.90 L108.83 278.70 L109.39 276.70 L109.95 274.77 L110.52 272.76 L111.08 270.53 L111.64 267.95 L112.20 265.06 L112.76 262.14 L113.32 259.43 L113.88 256.63 L114.44 253.95 L115.00 251.94 L115.56 250.88 L116.13 250.08 L116.69 249.52 L117.25 249.25 L117.81 249.10 L118.37 249.01 L118.93 249.02 L119.49 249.12 L120.05 249.28 L120.61 249.60 L121.17 250.20 L121.74 251.04 L122.30 252.22 L122.86 254.39 L123.42 257.14 L123.98 259.91 L124.54 262.65 L125.10 265.59 L125.66 268.44 L126.22 270.95 L126.78 273.13 L127.35 275.11 L127.91 277.05 L128.47 279.07 L129.03 281.32 L129.59 283.98 L130.15 287.34 L130.71 290.61 L131.27 293.72 L131.83 296.39 L132.39 298.25 L132.96 299.81 L133.52 301.17 L134.08 302.34 L134.64 303.39 L135.20 304.33 L135.76 305.20 L136.32 306.02 L136.88 306.78 L137.44 307.46 L138.00 308.08 L138.57 308.63 L139.13 309.10 L139.69 309.53 L140.25 309.93 L140.81 310.31 L141.37 310.66 L141.93 310.99 L142.49 311.29 L143.05 311.57 L143.61 311.84 L144.18 312.08 L144.74 312.30 L145.30 312.51 L145.86 312.71 L146.42 312.91 L146.98 313.10 L147.54 313.28 L148.10 313.46 L148.66 313.63 L149.22 313.79 L149.79 313.95 L150.35 314.10 L150.91 314.24 L151.47 314.37 L152.03 314.49 L152.59 314.61 L153.15 314.72 L153.71 314.81 L154.27 314.90 L154.83 314.98 L155.40 315.05 L155.96 315.11 L156.52 315.18 L157.08 315.24 L157.64 315.30 L158.20 315.36 L158.76 315.42 L159.32 315.47 L159.88 315.52 L160.44 315.57 L161.01 315.62 L161.57 315.67 L162.13 315.72 L162.69 315.76 L163.25 315.80 L163.81 315.85 L164.37 315.89 L164.93 315.92 L165.49 315.96 L166.05 316.00 L166.62 316.03 L167.18 316.07 L167.74 316.10 L168.30 316.13 L168.86 316.16 L169.42 316.19 L169.98 316.22 L170.54 316.25 L171.10 316.28 L171.66 316.31 L172.23 316.34 L172.79 316.36 L173.35 316.39 L173.91 316.41 L174.47 316.44 L175.03 316.47 L175.59 316.49 L176.15 316.52 L176.71 316.54 L177.27 316.56 L177.84 316.59 L178.40 316.61 L178.96 316.64 L179.52 316.66 L180.08 316.68 L180.64 316.70 L181.20 316.72 L181.76 316.74 L182.32 316.77 L182.88 316.79 L183.45 316.80 L184.01 316.82 L184.57 316.84 L185.13 316.86 L185.69 316.87 L186.25 316.89 L186.81 316.91 L187.37 316.92 L187.93 316.93 L188.49 316.95 L189.06 316.96 L189.62 316.97 L190.18 316.98 L190.74 316.99 L191.30 317.00" fill="none" stroke="#34559c" stroke-width="0.95" stroke-linejoin="round" stroke-opacity="1" stroke-dasharray="1.5 1.1"/>
<path d="M46.00 317.00 L46.56 316.99 L47.12 316.99 L47.68 316.98 L48.24 316.97 L48.81 316.97 L49.37 316.96 L49.93 316.95 L50.49 316.94 L51.05 316.93 L51.61 316.92 L52.17 316.91 L52.73 316.90 L53.29 316.89 L53.85 316.87 L54.42 316.86 L54.98 316.85 L55.54 316.83 L56.10 316.82 L56.66 316.80 L57.22 316.79 L57.78 316.77 L58.34 316.76 L58.90 316.74 L59.46 316.73 L60.03 316.71 L60.59 316.69 L61.15 316.68 L61.71 316.66 L62.27 316.64 L62.83 316.62 L63.39 316.61 L63.95 316.59 L64.51 316.57 L65.07 316.55 L65.64 316.53 L66.20 316.52 L66.76 316.50 L67.32 316.48 L67.88 316.46 L68.44 316.43 L69.00 316.41 L69.56 316.39 L70.12 316.37 L70.68 316.34 L71.25 316.32 L71.81 316.29 L72.37 316.27 L72.93 316.24 L73.49 316.21 L74.05 316.18 L74.61 316.15 L75.17 316.12 L75.73 316.08 L76.29 316.05 L76.86 316.01 L77.42 315.98 L77.98 315.94 L78.54 315.90 L79.10 315.86 L79.66 315.82 L80.22 315.77 L80.78 315.72 L81.34 315.68 L81.90 315.63 L82.47 315.57 L83.03 315.52 L83.59 315.45 L84.15 315.37 L84.71 315.29 L85.27 315.20 L85.83 315.10 L86.39 314.99 L86.95 314.88 L87.51 314.76 L88.08 314.63 L88.64 314.49 L89.20 314.35 L89.76 314.20 L90.32 314.05 L90.88 313.88 L91.44 313.71 L92.00 313.54 L92.56 313.35 L93.12 313.16 L93.69 312.97 L94.25 312.76 L94.81 312.56 L95.37 312.34 L95.93 312.12 L96.49 311.89 L97.05 311.66 L97.61 311.42 L98.17 311.14 L98.73 310.82 L99.30 310.47 L99.86 310.07 L100.42 309.64 L100.98 309.17 L101.54 308.66 L102.10 308.10 L102.66 307.45 L103.22 306.64 L103.78 305.69 L104.34 304.66 L104.91 303.57 L105.47 302.47 L106.03 301.28 L106.59 300.00 L107.15 298.65 L107.71 297.23 L108.27 295.70 L108.83 294.02 L109.39 292.30 L109.95 290.66 L110.52 289.20 L111.08 287.87 L111.64 286.60 L112.20 285.35 L112.76 284.07 L113.32 282.69 L113.88 281.06 L114.44 279.30 L115.00 277.65 L115.56 276.37 L116.13 275.58 L116.69 274.97 L117.25 274.62 L117.81 274.48 L118.37 274.41 L118.93 274.42 L119.49 274.50 L120.05 274.65 L120.61 275.06 L121.17 275.71 L121.74 276.56 L122.30 277.93 L122.86 279.61 L123.42 281.36 L123.98 282.95 L124.54 284.30 L125.10 285.58 L125.66 286.82 L126.22 288.10 L126.78 289.45 L127.35 290.94 L127.91 292.61 L128.47 294.33 L129.03 295.99 L129.59 297.49 L130.15 298.89 L130.71 300.23 L131.27 301.50 L131.83 302.67 L132.39 303.77 L132.96 304.85 L133.52 305.87 L134.08 306.79 L134.64 307.58 L135.20 308.20 L135.76 308.75 L136.32 309.26 L136.88 309.72 L137.44 310.15 L138.00 310.53 L138.57 310.88 L139.13 311.19 L139.69 311.46 L140.25 311.70 L140.81 311.94 L141.37 312.16 L141.93 312.38 L142.49 312.59 L143.05 312.80 L143.61 313.00 L144.18 313.20 L144.74 313.39 L145.30 313.57 L145.86 313.74 L146.42 313.91 L146.98 314.07 L147.54 314.23 L148.10 314.38 L148.66 314.52 L149.22 314.65 L149.79 314.78 L150.35 314.90 L150.91 315.01 L151.47 315.12 L152.03 315.22 L152.59 315.30 L153.15 315.39 L153.71 315.46 L154.27 315.53 L154.83 315.58 L155.40 315.64 L155.96 315.69 L156.52 315.73 L157.08 315.78 L157.64 315.82 L158.20 315.87 L158.76 315.91 L159.32 315.95 L159.88 315.98 L160.44 316.02 L161.01 316.06 L161.57 316.09 L162.13 316.12 L162.69 316.16 L163.25 316.19 L163.81 316.22 L164.37 316.24 L164.93 316.27 L165.49 316.30 L166.05 316.32 L166.62 316.35 L167.18 316.37 L167.74 316.39 L168.30 316.42 L168.86 316.44 L169.42 316.46 L169.98 316.48 L170.54 316.50 L171.10 316.52 L171.66 316.54 L172.23 316.56 L172.79 316.57 L173.35 316.59 L173.91 316.61 L174.47 316.63 L175.03 316.64 L175.59 316.66 L176.15 316.68 L176.71 316.70 L177.27 316.71 L177.84 316.73 L178.40 316.74 L178.96 316.76 L179.52 316.78 L180.08 316.79 L180.64 316.81 L181.20 316.82 L181.76 316.84 L182.32 316.85 L182.88 316.86 L183.45 316.88 L184.01 316.89 L184.57 316.90 L185.13 316.91 L185.69 316.92 L186.25 316.93 L186.81 316.94 L187.37 316.95 L187.93 316.96 L188.49 316.97 L189.06 316.98 L189.62 316.98 L190.18 316.99 L190.74 316.99 L191.30 317.00" fill="none" stroke="#fdc010" stroke-width="1.05" stroke-linejoin="round" stroke-opacity="1"/>
<path d="M46.00 317.00 L46.56 317.00 L47.12 316.99 L47.68 316.99 L48.24 316.98 L48.81 316.98 L49.37 316.97 L49.93 316.96 L50.49 316.96 L51.05 316.95 L51.61 316.94 L52.17 316.93 L52.73 316.91 L53.29 316.90 L53.85 316.89 L54.42 316.88 L54.98 316.86 L55.54 316.85 L56.10 316.83 L56.66 316.82 L57.22 316.80 L57.78 316.78 L58.34 316.77 L58.90 316.75 L59.46 316.73 L60.03 316.72 L60.59 316.70 L61.15 316.68 L61.71 316.66 L62.27 316.64 L62.83 316.63 L63.39 316.61 L63.95 316.59 L64.51 316.57 L65.07 316.55 L65.64 316.53 L66.20 316.51 L66.76 316.48 L67.32 316.46 L67.88 316.44 L68.44 316.41 L69.00 316.38 L69.56 316.36 L70.12 316.33 L70.68 316.30 L71.25 316.27 L71.81 316.24 L72.37 316.21 L72.93 316.17 L73.49 316.14 L74.05 316.10 L74.61 316.06 L75.17 316.02 L75.73 315.98 L76.29 315.94 L76.86 315.90 L77.42 315.85 L77.98 315.80 L78.54 315.76 L79.10 315.71 L79.66 315.65 L80.22 315.60 L80.78 315.55 L81.34 315.49 L81.90 315.43 L82.47 315.37 L83.03 315.30 L83.59 315.23 L84.15 315.14 L84.71 315.05 L85.27 314.95 L85.83 314.84 L86.39 314.72 L86.95 314.60 L87.51 314.47 L88.08 314.33 L88.64 314.19 L89.20 314.04 L89.76 313.88 L90.32 313.71 L90.88 313.54 L91.44 313.36 L92.00 313.17 L92.56 312.98 L93.12 312.78 L93.69 312.58 L94.25 312.37 L94.81 312.15 L95.37 311.93 L95.93 311.69 L96.49 311.43 L97.05 311.14 L97.61 310.82 L98.17 310.48 L98.73 310.10 L99.30 309.69 L99.86 309.24 L100.42 308.75 L100.98 308.22 L101.54 307.62 L102.10 306.85 L102.66 305.92 L103.22 304.87 L103.78 303.74 L104.34 302.55 L104.91 301.32 L105.47 299.95 L106.03 298.44 L106.59 296.84 L107.15 295.15 L107.71 293.36 L108.27 291.41 L108.83 289.37 L109.39 287.27 L109.95 285.06 L110.52 282.78 L111.08 280.50 L111.64 278.21 L112.20 275.86 L112.76 273.61 L113.32 271.58 L113.88 269.62 L114.44 267.79 L115.00 266.36 L115.56 265.43 L116.13 264.68 L116.69 264.13 L117.25 263.85 L117.81 263.70 L118.37 263.61 L118.93 263.62 L119.49 263.72 L120.05 263.88 L120.61 264.20 L121.17 264.80 L121.74 265.58 L122.30 266.57 L122.86 268.09 L123.42 269.96 L123.98 271.93 L124.54 274.00 L125.10 276.28 L125.66 278.62 L126.22 280.90 L126.78 283.19 L127.35 285.46 L127.91 287.65 L128.47 289.74 L129.03 291.77 L129.59 293.69 L130.15 295.46 L130.71 297.13 L131.27 298.72 L131.83 300.20 L132.39 301.55 L132.96 302.76 L133.52 303.94 L134.08 305.06 L134.64 306.09 L135.20 307.00 L135.76 307.74 L136.32 308.32 L136.88 308.84 L137.44 309.32 L138.00 309.76 L138.57 310.17 L139.13 310.54 L139.69 310.88 L140.25 311.19 L140.81 311.48 L141.37 311.74 L141.93 311.97 L142.49 312.19 L143.05 312.41 L143.61 312.62 L144.18 312.82 L144.74 313.02 L145.30 313.21 L145.86 313.39 L146.42 313.57 L146.98 313.74 L147.54 313.91 L148.10 314.06 L148.66 314.21 L149.22 314.36 L149.79 314.49 L150.35 314.62 L150.91 314.75 L151.47 314.86 L152.03 314.97 L152.59 315.07 L153.15 315.16 L153.71 315.24 L154.27 315.32 L154.83 315.38 L155.40 315.44 L155.96 315.50 L156.52 315.56 L157.08 315.61 L157.64 315.66 L158.20 315.71 L158.76 315.76 L159.32 315.81 L159.88 315.86 L160.44 315.90 L161.01 315.95 L161.57 315.99 L162.13 316.03 L162.69 316.07 L163.25 316.11 L163.81 316.14 L164.37 316.18 L164.93 316.21 L165.49 316.24 L166.05 316.28 L166.62 316.31 L167.18 316.33 L167.74 316.36 L168.30 316.39 L168.86 316.42 L169.42 316.44 L169.98 316.46 L170.54 316.49 L171.10 316.51 L171.66 316.53 L172.23 316.55 L172.79 316.57 L173.35 316.59 L173.91 316.61 L174.47 316.63 L175.03 316.65 L175.59 316.67 L176.15 316.68 L176.71 316.70 L177.27 316.72 L177.84 316.74 L178.40 316.75 L178.96 316.77 L179.52 316.79 L180.08 316.80 L180.64 316.82 L181.20 316.83 L181.76 316.85 L182.32 316.86 L182.88 316.88 L183.45 316.89 L184.01 316.90 L184.57 316.92 L185.13 316.93 L185.69 316.94 L186.25 316.95 L186.81 316.96 L187.37 316.97 L187.93 316.97 L188.49 316.98 L189.06 316.99 L189.62 316.99 L190.18 316.99 L190.74 317.00 L191.30 317.00" fill="none" stroke="#fdc010" stroke-width="0.95" stroke-linejoin="round" stroke-opacity="1" stroke-dasharray="1.5 1.1"/>
<text x="37.20" y="248.70" font-size="12" text-anchor="end" font-weight="normal" fill="#1a1a1a" >1.5</text>
<text x="37.20" y="273.00" font-size="12" text-anchor="end" font-weight="normal" fill="#1a1a1a" >1</text>
<text x="37.20" y="297.30" font-size="12" text-anchor="end" font-weight="normal" fill="#1a1a1a" >0.5</text>
<text x="37.20" y="321.60" font-size="12" text-anchor="end" font-weight="normal" fill="#1a1a1a" >0</text>
<text x="46.00" y="335.50" font-size="12" text-anchor="middle" font-weight="normal" fill="#1a1a1a" >-200</text>
<text x="82.20" y="335.50" font-size="12" text-anchor="middle" font-weight="normal" fill="#1a1a1a" >-100</text>
<text x="118.70" y="335.50" font-size="12" text-anchor="middle" font-weight="normal" fill="#1a1a1a" >0</text>
<text x="154.80" y="335.50" font-size="12" text-anchor="middle" font-weight="normal" fill="#1a1a1a" >100</text>
<text x="190.80" y="335.50" font-size="12" text-anchor="middle" font-weight="normal" fill="#1a1a1a" >200</text>
<text x="58.00" y="264.60" font-size="14" text-anchor="middle" font-weight="normal" fill="#1a1a1a" >x</text>
<text transform="translate(15.7 284) rotate(-90)" font-size="15" text-anchor="middle" fill="#111">Intensity</text>
<text x="122.40" y="349.60" font-size="15.4" text-anchor="middle" font-weight="normal" fill="#111" >Distance (nm)</text>
<line x1="46.90" y1="355.70" x2="46.90" y2="393.10" stroke="#666" stroke-width="0.9" />
<line x1="46.60" y1="392.90" x2="124.50" y2="392.90" stroke="#8a8a8a" stroke-width="1.0" />
<path d="M47.00 392.70 L47.56 392.70 L48.11 392.70 L48.67 392.70 L49.22 392.70 L49.78 392.70 L50.34 392.70 L50.89 392.70 L51.45 392.70 L52.01 392.70 L52.56 392.70 L53.12 392.70 L53.67 392.70 L54.23 392.70 L54.79 392.70 L55.34 392.70 L55.90 392.70 L56.45 392.70 L57.01 392.70 L57.57 392.70 L58.12 392.70 L58.68 392.70 L59.23 392.70 L59.79 392.70 L60.35 392.70 L60.90 392.70 L61.46 392.70 L62.02 392.70 L62.57 392.70 L63.13 392.70 L63.68 392.70 L64.24 392.70 L64.80 392.70 L65.35 392.70 L65.91 392.70 L66.46 392.70 L67.02 392.70 L67.58 392.69 L68.13 392.67 L68.69 392.64 L69.24 392.60 L69.80 392.56 L70.36 392.52 L70.91 392.46 L71.47 392.40 L72.03 392.32 L72.58 392.24 L73.14 392.13 L73.69 392.00 L74.25 391.84 L74.81 391.68 L75.36 391.51 L75.92 391.33 L76.47 391.13 L77.03 390.90 L77.59 390.65 L78.14 390.39 L78.70 390.10 L79.25 389.82 L79.81 389.54 L80.37 389.26 L80.92 389.00 L81.48 388.77 L82.04 388.57 L82.59 388.39 L83.15 388.24 L83.70 388.11 L84.26 388.01 L84.82 387.95 L85.37 387.92 L85.93 387.90 L86.48 387.91 L87.04 387.94 L87.60 387.99 L88.15 388.08 L88.71 388.20 L89.26 388.34 L89.82 388.52 L90.38 388.72 L90.93 388.93 L91.49 389.19 L92.05 389.47 L92.60 389.75 L93.16 390.03 L93.71 390.32 L94.27 390.59 L94.83 390.84 L95.38 391.07 L95.94 391.28 L96.49 391.46 L97.05 391.64 L97.61 391.80 L98.16 391.96 L98.72 392.10 L99.27 392.22 L99.83 392.30 L100.39 392.38 L100.94 392.45 L101.50 392.50 L102.06 392.55 L102.61 392.59 L103.17 392.63 L103.72 392.66 L104.28 392.69 L104.84 392.70 L105.39 392.70 L105.95 392.70 L106.50 392.70 L107.06 392.70 L107.62 392.70 L108.17 392.70 L108.73 392.70 L109.28 392.70 L109.84 392.70 L110.40 392.70 L110.95 392.70 L111.51 392.70 L112.07 392.70 L112.62 392.70 L113.18 392.70 L113.73 392.70 L114.29 392.70 L114.85 392.70 L115.40 392.70 L115.96 392.70 L116.51 392.70 L117.07 392.70 L117.63 392.70 L118.18 392.70 L118.74 392.70 L119.29 392.70 L119.85 392.70 L120.41 392.70 L120.96 392.70 L121.52 392.70 L122.08 392.70 L122.63 392.70 L123.19 392.70 L123.74 392.70 L124.30 392.70" fill="none" stroke="#3d97dd" stroke-width="1.0" stroke-linejoin="round" stroke-opacity="1" stroke-dasharray="2 1.3"/>
<path d="M47.00 392.70 L47.56 392.70 L48.11 392.70 L48.67 392.70 L49.22 392.70 L49.78 392.70 L50.34 392.70 L50.89 392.70 L51.45 392.70 L52.01 392.70 L52.56 392.70 L53.12 392.70 L53.67 392.70 L54.23 392.70 L54.79 392.70 L55.34 392.70 L55.90 392.70 L56.45 392.70 L57.01 392.70 L57.57 392.70 L58.12 392.70 L58.68 392.70 L59.23 392.70 L59.79 392.70 L60.35 392.70 L60.90 392.70 L61.46 392.70 L62.02 392.70 L62.57 392.70 L63.13 392.70 L63.68 392.70 L64.24 392.70 L64.80 392.70 L65.35 392.70 L65.91 392.70 L66.46 392.68 L67.02 392.65 L67.58 392.61 L68.13 392.56 L68.69 392.51 L69.24 392.46 L69.80 392.39 L70.36 392.31 L70.91 392.22 L71.47 392.12 L72.03 391.99 L72.58 391.84 L73.14 391.65 L73.69 391.45 L74.25 391.25 L74.81 391.03 L75.36 390.80 L75.92 390.55 L76.47 390.26 L77.03 389.95 L77.59 389.61 L78.14 389.24 L78.70 388.87 L79.25 388.53 L79.81 388.18 L80.37 387.86 L80.92 387.57 L81.48 387.32 L82.04 387.09 L82.59 386.90 L83.15 386.75 L83.70 386.61 L84.26 386.51 L84.82 386.46 L85.37 386.42 L85.93 386.40 L86.48 386.41 L87.04 386.45 L87.60 386.49 L88.15 386.58 L88.71 386.71 L89.26 386.86 L89.82 387.04 L90.38 387.26 L90.93 387.51 L91.49 387.78 L92.05 388.10 L92.60 388.44 L93.16 388.78 L93.71 389.14 L94.27 389.52 L94.83 389.87 L95.38 390.18 L95.94 390.48 L96.49 390.74 L97.05 390.98 L97.61 391.20 L98.16 391.40 L98.72 391.60 L99.27 391.79 L99.83 391.96 L100.39 392.09 L100.94 392.19 L101.50 392.29 L102.06 392.37 L102.61 392.44 L103.17 392.50 L103.72 392.55 L104.28 392.59 L104.84 392.64 L105.39 392.67 L105.95 392.69 L106.50 392.70 L107.06 392.70 L107.62 392.70 L108.17 392.70 L108.73 392.70 L109.28 392.70 L109.84 392.70 L110.40 392.70 L110.95 392.70 L111.51 392.70 L112.07 392.70 L112.62 392.70 L113.18 392.70 L113.73 392.70 L114.29 392.70 L114.85 392.70 L115.40 392.70 L115.96 392.70 L116.51 392.70 L117.07 392.70 L117.63 392.70 L118.18 392.70 L118.74 392.70 L119.29 392.70 L119.85 392.70 L120.41 392.70 L120.96 392.70 L121.52 392.70 L122.08 392.70 L122.63 392.70 L123.19 392.70 L123.74 392.70 L124.30 392.70" fill="none" stroke="#3d97dd" stroke-width="1.0" stroke-linejoin="round" stroke-opacity="1"/>
<path d="M47.00 392.70 L47.56 392.70 L48.11 392.70 L48.67 392.70 L49.22 392.70 L49.78 392.70 L50.34 392.70 L50.89 392.70 L51.45 392.70 L52.01 392.70 L52.56 392.70 L53.12 392.70 L53.67 392.70 L54.23 392.70 L54.79 392.70 L55.34 392.70 L55.90 392.70 L56.45 392.70 L57.01 392.70 L57.57 392.70 L58.12 392.70 L58.68 392.70 L59.23 392.70 L59.79 392.70 L60.35 392.70 L60.90 392.70 L61.46 392.70 L62.02 392.70 L62.57 392.70 L63.13 392.70 L63.68 392.70 L64.24 392.70 L64.80 392.70 L65.35 392.70 L65.91 392.70 L66.46 392.70 L67.02 392.68 L67.58 392.62 L68.13 392.54 L68.69 392.45 L69.24 392.35 L69.80 392.23 L70.36 392.08 L70.91 391.89 L71.47 391.68 L72.03 391.43 L72.58 391.14 L73.14 390.78 L73.69 390.37 L74.25 389.92 L74.81 389.43 L75.36 388.93 L75.92 388.38 L76.47 387.77 L77.03 387.08 L77.59 386.31 L78.14 385.37 L78.70 384.35 L79.25 383.48 L79.81 382.70 L80.37 381.97 L80.92 381.35 L81.48 380.83 L82.04 380.38 L82.59 380.03 L83.15 379.79 L83.70 379.59 L84.26 379.45 L84.82 379.38 L85.37 379.32 L85.93 379.30 L86.48 379.31 L87.04 379.36 L87.60 379.43 L88.15 379.55 L88.71 379.74 L89.26 379.97 L89.82 380.28 L90.38 380.71 L90.93 381.21 L91.49 381.80 L92.05 382.50 L92.60 383.27 L93.16 384.10 L93.71 385.10 L94.27 386.09 L94.83 386.89 L95.38 387.60 L95.94 388.23 L96.49 388.79 L97.05 389.31 L97.61 389.79 L98.16 390.26 L98.72 390.68 L99.27 391.05 L99.83 391.36 L100.39 391.62 L100.94 391.84 L101.50 392.03 L102.06 392.20 L102.61 392.32 L103.17 392.42 L103.72 392.52 L104.28 392.60 L104.84 392.67 L105.39 392.70 L105.95 392.70 L106.50 392.70 L107.06 392.70 L107.62 392.70 L108.17 392.70 L108.73 392.70 L109.28 392.70 L109.84 392.70 L110.40 392.70 L110.95 392.70 L111.51 392.70 L112.07 392.70 L112.62 392.70 L113.18 392.70 L113.73 392.70 L114.29 392.70 L114.85 392.70 L115.40 392.70 L115.96 392.70 L116.51 392.70 L117.07 392.70 L117.63 392.70 L118.18 392.70 L118.74 392.70 L119.29 392.70 L119.85 392.70 L120.41 392.70 L120.96 392.70 L121.52 392.70 L122.08 392.70 L122.63 392.70 L123.19 392.70 L123.74 392.70 L124.30 392.70" fill="none" stroke="#f07a30" stroke-width="1.0" stroke-linejoin="round" stroke-opacity="1" stroke-dasharray="2.4 1.4"/>
<path d="M47.00 392.70 L47.56 392.70 L48.11 392.70 L48.67 392.70 L49.22 392.70 L49.78 392.70 L50.34 392.70 L50.89 392.70 L51.45 392.70 L52.01 392.70 L52.56 392.70 L53.12 392.70 L53.67 392.70 L54.23 392.70 L54.79 392.70 L55.34 392.70 L55.90 392.70 L56.45 392.70 L57.01 392.70 L57.57 392.70 L58.12 392.70 L58.68 392.70 L59.23 392.70 L59.79 392.70 L60.35 392.70 L60.90 392.70 L61.46 392.70 L62.02 392.70 L62.57 392.70 L63.13 392.70 L63.68 392.70 L64.24 392.70 L64.80 392.70 L65.35 392.69 L65.91 392.65 L66.46 392.57 L67.02 392.48 L67.58 392.36 L68.13 392.24 L68.69 392.10 L69.24 391.91 L69.80 391.69 L70.36 391.44 L70.91 391.14 L71.47 390.81 L72.03 390.40 L72.58 389.94 L73.14 389.42 L73.69 388.85 L74.25 388.26 L74.81 387.64 L75.36 386.96 L75.92 386.21 L76.47 385.37 L77.03 384.43 L77.59 383.25 L78.14 381.98 L78.70 380.90 L79.25 379.96 L79.81 379.09 L80.37 378.32 L80.92 377.69 L81.48 377.14 L82.04 376.68 L82.59 376.38 L83.15 376.15 L83.70 375.96 L84.26 375.84 L84.82 375.77 L85.37 375.72 L85.93 375.70 L86.48 375.71 L87.04 375.76 L87.60 375.82 L88.15 375.92 L88.71 376.09 L89.26 376.31 L89.82 376.59 L90.38 377.01 L90.93 377.54 L91.49 378.14 L92.05 378.88 L92.60 379.73 L93.16 380.66 L93.71 381.67 L94.27 382.92 L94.83 384.15 L95.38 385.14 L95.94 386.00 L96.49 386.78 L97.05 387.47 L97.61 388.11 L98.16 388.70 L98.72 389.27 L99.27 389.81 L99.83 390.29 L100.39 390.71 L100.94 391.06 L101.50 391.37 L102.06 391.62 L102.61 391.86 L103.17 392.06 L103.72 392.21 L104.28 392.33 L104.84 392.45 L105.39 392.55 L105.95 392.63 L106.50 392.68 L107.06 392.70 L107.62 392.70 L108.17 392.70 L108.73 392.70 L109.28 392.70 L109.84 392.70 L110.40 392.70 L110.95 392.70 L111.51 392.70 L112.07 392.70 L112.62 392.70 L113.18 392.70 L113.73 392.70 L114.29 392.70 L114.85 392.70 L115.40 392.70 L115.96 392.70 L116.51 392.70 L117.07 392.70 L117.63 392.70 L118.18 392.70 L118.74 392.70 L119.29 392.70 L119.85 392.70 L120.41 392.70 L120.96 392.70 L121.52 392.70 L122.08 392.70 L122.63 392.70 L123.19 392.70 L123.74 392.70 L124.30 392.70" fill="none" stroke="#e4403a" stroke-width="1.0" stroke-linejoin="round" stroke-opacity="1"/>
<path d="M47.00 392.70 L47.56 392.70 L48.11 392.70 L48.67 392.70 L49.22 392.70 L49.78 392.70 L50.34 392.70 L50.89 392.70 L51.45 392.70 L52.01 392.70 L52.56 392.70 L53.12 392.70 L53.67 392.70 L54.23 392.70 L54.79 392.70 L55.34 392.70 L55.90 392.70 L56.45 392.70 L57.01 392.70 L57.57 392.70 L58.12 392.70 L58.68 392.70 L59.23 392.70 L59.79 392.70 L60.35 392.70 L60.90 392.70 L61.46 392.70 L62.02 392.70 L62.57 392.70 L63.13 392.70 L63.68 392.70 L64.24 392.70 L64.80 392.70 L65.35 392.70 L65.91 392.70 L66.46 392.68 L67.02 392.62 L67.58 392.52 L68.13 392.39 L68.69 392.25 L69.24 392.10 L69.80 391.88 L70.36 391.62 L70.91 391.31 L71.47 390.96 L72.03 390.55 L72.58 390.06 L73.14 389.51 L73.69 388.86 L74.25 388.16 L74.81 387.42 L75.36 386.64 L75.92 385.78 L76.47 384.82 L77.03 383.75 L77.59 382.50 L78.14 380.90 L78.70 379.30 L79.25 378.04 L79.81 376.89 L80.37 375.88 L80.92 375.03 L81.48 374.33 L82.04 373.74 L82.59 373.34 L83.15 373.08 L83.70 372.88 L84.26 372.74 L84.82 372.67 L85.37 372.62 L85.93 372.60 L86.48 372.61 L87.04 372.66 L87.60 372.72 L88.15 372.83 L88.71 373.02 L89.26 373.27 L89.82 373.61 L90.38 374.17 L90.93 374.85 L91.49 375.64 L92.05 376.62 L92.60 377.73 L93.16 378.94 L93.71 380.46 L94.27 382.11 L94.83 383.45 L95.38 384.56 L95.94 385.54 L96.49 386.42 L97.05 387.22 L97.61 387.97 L98.16 388.68 L98.72 389.35 L99.27 389.93 L99.83 390.43 L100.39 390.86 L100.94 391.23 L101.50 391.54 L102.06 391.82 L102.61 392.05 L103.17 392.21 L103.72 392.36 L104.28 392.49 L104.84 392.59 L105.39 392.67 L105.95 392.70 L106.50 392.70 L107.06 392.70 L107.62 392.70 L108.17 392.70 L108.73 392.70 L109.28 392.70 L109.84 392.70 L110.40 392.70 L110.95 392.70 L111.51 392.70 L112.07 392.70 L112.62 392.70 L113.18 392.70 L113.73 392.70 L114.29 392.70 L114.85 392.70 L115.40 392.70 L115.96 392.70 L116.51 392.70 L117.07 392.70 L117.63 392.70 L118.18 392.70 L118.74 392.70 L119.29 392.70 L119.85 392.70 L120.41 392.70 L120.96 392.70 L121.52 392.70 L122.08 392.70 L122.63 392.70 L123.19 392.70 L123.74 392.70 L124.30 392.70" fill="none" stroke="#9a9a9a" stroke-width="1.0" stroke-linejoin="round" stroke-opacity="1" stroke-dasharray="2.4 1.4"/>
<path d="M47.00 392.70 L47.56 392.70 L48.11 392.70 L48.67 392.70 L49.22 392.70 L49.78 392.70 L50.34 392.70 L50.89 392.70 L51.45 392.70 L52.01 392.70 L52.56 392.70 L53.12 392.70 L53.67 392.70 L54.23 392.70 L54.79 392.70 L55.34 392.70 L55.90 392.70 L56.45 392.70 L57.01 392.70 L57.57 392.70 L58.12 392.70 L58.68 392.70 L59.23 392.70 L59.79 392.70 L60.35 392.70 L60.90 392.70 L61.46 392.70 L62.02 392.70 L62.57 392.70 L63.13 392.70 L63.68 392.70 L64.24 392.70 L64.80 392.70 L65.35 392.70 L65.91 392.67 L66.46 392.59 L67.02 392.46 L67.58 392.30 L68.13 392.13 L68.69 391.93 L69.24 391.67 L69.80 391.32 L70.36 390.93 L70.91 390.49 L71.47 389.96 L72.03 389.35 L72.58 388.66 L73.14 387.86 L73.69 386.96 L74.25 386.01 L74.81 385.02 L75.36 383.95 L75.92 382.77 L76.47 381.45 L77.03 379.95 L77.59 378.06 L78.14 375.82 L78.70 373.87 L79.25 372.31 L79.81 370.89 L80.37 369.65 L80.92 368.66 L81.48 367.81 L82.04 367.12 L82.59 366.72 L83.15 366.45 L83.70 366.25 L84.26 366.13 L84.82 366.07 L85.37 366.02 L85.93 366.00 L86.48 366.01 L87.04 366.05 L87.60 366.11 L88.15 366.21 L88.71 366.39 L89.26 366.64 L89.82 366.99 L90.38 367.61 L90.93 368.43 L91.49 369.37 L92.05 370.55 L92.60 371.93 L93.16 373.46 L93.71 375.27 L94.27 377.49 L94.83 379.52 L95.38 381.08 L95.94 382.44 L96.49 383.66 L97.05 384.76 L97.61 385.76 L98.16 386.72 L98.72 387.64 L99.27 388.47 L99.83 389.18 L100.39 389.82 L100.94 390.36 L101.50 390.82 L102.06 391.23 L102.61 391.58 L103.17 391.87 L103.72 392.08 L104.28 392.26 L104.84 392.42 L105.39 392.56 L105.95 392.66 L106.50 392.70 L107.06 392.70 L107.62 392.70 L108.17 392.70 L108.73 392.70 L109.28 392.70 L109.84 392.70 L110.40 392.70 L110.95 392.70 L111.51 392.70 L112.07 392.70 L112.62 392.70 L113.18 392.70 L113.73 392.70 L114.29 392.70 L114.85 392.70 L115.40 392.70 L115.96 392.70 L116.51 392.70 L117.07 392.70 L117.63 392.70 L118.18 392.70 L118.74 392.70 L119.29 392.70 L119.85 392.70 L120.41 392.70 L120.96 392.70 L121.52 392.70 L122.08 392.70 L122.63 392.70 L123.19 392.70 L123.74 392.70 L124.30 392.70" fill="none" stroke="#8fd04e" stroke-width="1.0" stroke-linejoin="round" stroke-opacity="1" stroke-dasharray="2.4 1.4"/>
<path d="M47.00 392.70 L47.56 392.70 L48.11 392.70 L48.67 392.70 L49.22 392.70 L49.78 392.70 L50.34 392.70 L50.89 392.70 L51.45 392.70 L52.01 392.70 L52.56 392.70 L53.12 392.70 L53.67 392.70 L54.23 392.70 L54.79 392.70 L55.34 392.70 L55.90 392.70 L56.45 392.70 L57.01 392.70 L57.57 392.70 L58.12 392.70 L58.68 392.70 L59.23 392.70 L59.79 392.70 L60.35 392.70 L60.90 392.70 L61.46 392.70 L62.02 392.70 L62.57 392.70 L63.13 392.70 L63.68 392.70 L64.24 392.66 L64.80 392.56 L65.35 392.42 L65.91 392.24 L66.46 392.04 L67.02 391.82 L67.58 391.54 L68.13 391.15 L68.69 390.70 L69.24 390.20 L69.80 389.63 L70.36 388.95 L70.91 388.20 L71.47 387.37 L72.03 386.42 L72.58 385.35 L73.14 384.20 L73.69 383.03 L74.25 381.78 L74.81 380.41 L75.36 378.90 L75.92 377.20 L76.47 375.24 L77.03 372.62 L77.59 369.77 L78.14 367.48 L78.70 365.63 L79.25 363.96 L79.81 362.53 L80.37 361.39 L80.92 360.43 L81.48 359.63 L82.04 359.13 L82.59 358.91 L83.15 358.75 L83.70 358.67 L84.26 358.64 L84.82 358.62 L85.37 358.61 L85.93 358.60 L86.48 358.60 L87.04 358.62 L87.60 358.64 L88.15 358.66 L88.71 358.72 L89.26 358.86 L89.82 359.07 L90.38 359.46 L90.93 360.20 L91.49 361.13 L92.05 362.21 L92.60 363.57 L93.16 365.18 L93.71 366.98 L94.27 369.10 L94.83 371.87 L95.38 374.63 L95.94 376.73 L96.49 378.48 L97.05 380.03 L97.61 381.44 L98.16 382.72 L98.72 383.90 L99.27 385.05 L99.83 386.15 L100.39 387.14 L100.94 387.99 L101.50 388.77 L102.06 389.46 L102.61 390.07 L103.17 390.58 L103.72 391.04 L104.28 391.45 L104.84 391.76 L105.39 391.98 L105.95 392.19 L106.50 392.37 L107.06 392.53 L107.62 392.64 L108.17 392.69 L108.73 392.70 L109.28 392.70 L109.84 392.70 L110.40 392.70 L110.95 392.70 L111.51 392.70 L112.07 392.70 L112.62 392.70 L113.18 392.70 L113.73 392.70 L114.29 392.70 L114.85 392.70 L115.40 392.70 L115.96 392.70 L116.51 392.70 L117.07 392.70 L117.63 392.70 L118.18 392.70 L118.74 392.70 L119.29 392.70 L119.85 392.70 L120.41 392.70 L120.96 392.70 L121.52 392.70 L122.08 392.70 L122.63 392.70 L123.19 392.70 L123.74 392.70 L124.30 392.70" fill="none" stroke="#34559c" stroke-width="1.4" stroke-linejoin="round" stroke-opacity="1"/>
<path d="M47.00 392.70 L47.56 392.70 L48.11 392.70 L48.67 392.70 L49.22 392.70 L49.78 392.70 L50.34 392.70 L50.89 392.70 L51.45 392.70 L52.01 392.70 L52.56 392.70 L53.12 392.70 L53.67 392.70 L54.23 392.70 L54.79 392.70 L55.34 392.70 L55.90 392.70 L56.45 392.70 L57.01 392.70 L57.57 392.70 L58.12 392.70 L58.68 392.70 L59.23 392.70 L59.79 392.70 L60.35 392.70 L60.90 392.70 L61.46 392.70 L62.02 392.70 L62.57 392.70 L63.13 392.70 L63.68 392.70 L64.24 392.70 L64.80 392.68 L65.35 392.60 L65.91 392.47 L66.46 392.30 L67.02 392.10 L67.58 391.88 L68.13 391.61 L68.69 391.23 L69.24 390.77 L69.80 390.27 L70.36 389.68 L70.91 388.99 L71.47 388.21 L72.03 387.36 L72.58 386.37 L73.14 385.25 L73.69 384.07 L74.25 382.85 L74.81 381.55 L75.36 380.09 L75.92 378.49 L76.47 376.67 L77.03 374.42 L77.59 371.54 L78.14 368.78 L78.70 366.74 L79.25 364.93 L79.81 363.35 L80.37 362.05 L80.92 361.03 L81.48 360.13 L82.04 359.52 L82.59 359.25 L83.15 359.08 L83.70 358.98 L84.26 358.95 L84.82 358.92 L85.37 358.91 L85.93 358.90 L86.48 358.90 L87.04 358.92 L87.60 358.94 L88.15 358.97 L88.71 359.04 L89.26 359.20 L89.82 359.43 L90.38 359.94 L90.93 360.78 L91.49 361.77 L92.05 362.99 L92.60 364.50 L93.16 366.25 L93.71 368.20 L94.27 370.78 L94.83 373.71 L95.38 376.15 L95.94 378.04 L96.49 379.69 L97.05 381.19 L97.61 382.53 L98.16 383.76 L98.72 384.95 L99.27 386.09 L99.83 387.12 L100.39 388.00 L100.94 388.80 L101.50 389.51 L102.06 390.13 L102.61 390.65 L103.17 391.12 L103.72 391.52 L104.28 391.82 L104.84 392.04 L105.39 392.25 L105.95 392.43 L106.50 392.57 L107.06 392.67 L107.62 392.70 L108.17 392.70 L108.73 392.70 L109.28 392.70 L109.84 392.70 L110.40 392.70 L110.95 392.70 L111.51 392.70 L112.07 392.70 L112.62 392.70 L113.18 392.70 L113.73 392.70 L114.29 392.70 L114.85 392.70 L115.40 392.70 L115.96 392.70 L116.51 392.70 L117.07 392.70 L117.63 392.70 L118.18 392.70 L118.74 392.70 L119.29 392.70 L119.85 392.70 L120.41 392.70 L120.96 392.70 L121.52 392.70 L122.08 392.70 L122.63 392.70 L123.19 392.70 L123.74 392.70 L124.30 392.70" fill="none" stroke="#222222" stroke-width="0.9" stroke-linejoin="round" stroke-opacity="1" stroke-dasharray="2.4 1.4"/>
<path d="M47.00 392.70 L47.56 392.70 L48.11 392.70 L48.67 392.70 L49.22 392.70 L49.78 392.70 L50.34 392.70 L50.89 392.70 L51.45 392.70 L52.01 392.70 L52.56 392.70 L53.12 392.70 L53.67 392.70 L54.23 392.70 L54.79 392.70 L55.34 392.70 L55.90 392.70 L56.45 392.70 L57.01 392.70 L57.57 392.70 L58.12 392.70 L58.68 392.70 L59.23 392.70 L59.79 392.70 L60.35 392.70 L60.90 392.70 L61.46 392.70 L62.02 392.70 L62.57 392.70 L63.13 392.70 L63.68 392.70 L64.24 392.70 L64.80 392.70 L65.35 392.70 L65.91 392.70 L66.46 392.70 L67.02 392.65 L67.58 392.55 L68.13 392.39 L68.69 392.21 L69.24 392.00 L69.80 391.75 L70.36 391.40 L70.91 390.97 L71.47 390.49 L72.03 389.91 L72.58 389.23 L73.14 388.46 L73.69 387.59 L74.25 386.57 L74.81 385.48 L75.36 384.35 L75.92 383.13 L76.47 381.76 L77.03 380.22 L77.59 378.44 L78.14 376.07 L78.70 373.46 L79.25 371.42 L79.81 369.71 L80.37 368.20 L80.92 366.97 L81.48 365.99 L82.04 365.16 L82.59 364.65 L83.15 364.39 L83.70 364.20 L84.26 364.10 L84.82 364.05 L85.37 364.02 L85.93 364.00 L86.48 364.01 L87.04 364.04 L87.60 364.09 L88.15 364.17 L88.71 364.33 L89.26 364.58 L89.82 364.99 L90.38 365.76 L90.93 366.70 L91.49 367.85 L92.05 369.30 L92.60 370.96 L93.16 372.86 L93.71 375.38 L94.27 377.90 L94.83 379.79 L95.38 381.38 L95.94 382.79 L96.49 384.05 L97.05 385.20 L97.61 386.29 L98.16 387.33 L98.72 388.25 L99.27 389.04 L99.83 389.74 L100.39 390.35 L100.94 390.85 L101.50 391.29 L102.06 391.67 L102.61 391.95 L103.17 392.16 L103.72 392.35 L104.28 392.51 L104.84 392.63 L105.39 392.69 L105.95 392.70 L106.50 392.70 L107.06 392.70 L107.62 392.70 L108.17 392.70 L108.73 392.70 L109.28 392.70 L109.84 392.70 L110.40 392.70 L110.95 392.70 L111.51 392.70 L112.07 392.70 L112.62 392.70 L113.18 392.70 L113.73 392.70 L114.29 392.70 L114.85 392.70 L115.40 392.70 L115.96 392.70 L116.51 392.70 L117.07 392.70 L117.63 392.70 L118.18 392.70 L118.74 392.70 L119.29 392.70 L119.85 392.70 L120.41 392.70 L120.96 392.70 L121.52 392.70 L122.08 392.70 L122.63 392.70 L123.19 392.70 L123.74 392.70 L124.30 392.70" fill="none" stroke="#f5a31a" stroke-width="1.0" stroke-linejoin="round" stroke-opacity="1" stroke-dasharray="2.4 1.4"/>
<path d="M47.00 392.70 L47.56 392.70 L48.11 392.70 L48.67 392.70 L49.22 392.70 L49.78 392.70 L50.34 392.70 L50.89 392.70 L51.45 392.70 L52.01 392.70 L52.56 392.70 L53.12 392.70 L53.67 392.70 L54.23 392.70 L54.79 392.70 L55.34 392.70 L55.90 392.70 L56.45 392.70 L57.01 392.70 L57.57 392.70 L58.12 392.70 L58.68 392.70 L59.23 392.70 L59.79 392.70 L60.35 392.70 L60.90 392.70 L61.46 392.70 L62.02 392.70 L62.57 392.70 L63.13 392.70 L63.68 392.70 L64.24 392.70 L64.80 392.70 L65.35 392.70 L65.91 392.70 L66.46 392.67 L67.02 392.58 L67.58 392.43 L68.13 392.25 L68.69 392.03 L69.24 391.80 L69.80 391.45 L70.36 391.01 L70.91 390.51 L71.47 389.93 L72.03 389.24 L72.58 388.45 L73.14 387.58 L73.69 386.55 L74.25 385.40 L74.81 384.19 L75.36 382.93 L75.92 381.54 L76.47 379.99 L77.03 378.23 L77.59 376.12 L78.14 373.28 L78.70 370.45 L79.25 368.37 L79.81 366.56 L80.37 365.01 L80.92 363.77 L81.48 362.78 L82.04 361.96 L82.59 361.53 L83.15 361.32 L83.70 361.19 L84.26 361.15 L84.82 361.12 L85.37 361.11 L85.93 361.10 L86.48 361.10 L87.04 361.12 L87.60 361.14 L88.15 361.18 L88.71 361.28 L89.26 361.47 L89.82 361.81 L90.38 362.54 L90.93 363.51 L91.49 364.66 L92.05 366.14 L92.60 367.88 L93.16 369.85 L93.71 372.50 L94.27 375.44 L94.83 377.73 L95.38 379.56 L95.94 381.16 L96.49 382.59 L97.05 383.88 L97.61 385.09 L98.16 386.26 L98.72 387.33 L99.27 388.23 L99.83 389.04 L100.39 389.76 L100.94 390.37 L101.50 390.89 L102.06 391.35 L102.61 391.72 L103.17 391.98 L103.72 392.19 L104.28 392.39 L104.84 392.55 L105.39 392.66 L105.95 392.70 L106.50 392.70 L107.06 392.70 L107.62 392.70 L108.17 392.70 L108.73 392.70 L109.28 392.70 L109.84 392.70 L110.40 392.70 L110.95 392.70 L111.51 392.70 L112.07 392.70 L112.62 392.70 L113.18 392.70 L113.73 392.70 L114.29 392.70 L114.85 392.70 L115.40 392.70 L115.96 392.70 L116.51 392.70 L117.07 392.70 L117.63 392.70 L118.18 392.70 L118.74 392.70 L119.29 392.70 L119.85 392.70 L120.41 392.70 L120.96 392.70 L121.52 392.70 L122.08 392.70 L122.63 392.70 L123.19 392.70 L123.74 392.70 L124.30 392.70" fill="none" stroke="#fdc010" stroke-width="1.2" stroke-linejoin="round" stroke-opacity="1"/>
<text x="37.70" y="359.90" font-size="12" text-anchor="end" font-weight="normal" fill="#1a1a1a" >1.5</text>
<text x="37.70" y="396.90" font-size="12" text-anchor="end" font-weight="normal" fill="#1a1a1a" >0</text>
<text x="46.60" y="411.12" font-size="11.5" text-anchor="middle" font-weight="normal" fill="#1a1a1a" >-100</text>
<text x="86.30" y="411.12" font-size="11.5" text-anchor="middle" font-weight="normal" fill="#1a1a1a" >0</text>
<text x="125.60" y="411.12" font-size="11.5" text-anchor="middle" font-weight="normal" fill="#1a1a1a" >100</text>
<text x="59.00" y="366.30" font-size="14" text-anchor="middle" font-weight="normal" fill="#1a1a1a" >y</text>
<rect x="167.2" y="149.4" width="177.2" height="6.4" fill="url(#bar)"/>
<rect x="168.0" y="356.6" width="177.0" height="7.0" fill="url(#bar)"/>
<defs><filter id="jet" x="0" y="0" width="1" height="1" filterUnits="objectBoundingBox" color-interpolation-filters="sRGB">
<feComponentTransfer><feFuncR type="table" tableValues="0.118 0.116 0.114 0.112 0.110 0.110 0.110 0.110 0.110 0.110 0.110 0.110 0.110 0.110 0.110 0.110 0.186 0.262 0.338 0.414 0.490 0.566 0.642 0.718 0.794 0.870 0.870 0.870 0.870 0.870 0.870 0.870 0.870 0.870 0.870 0.870 0.794 0.718 0.642 0.566 0.490"/><feFuncG type="table" tableValues="0.110 0.110 0.110 0.110 0.110 0.110 0.186 0.262 0.338 0.414 0.490 0.566 0.642 0.718 0.794 0.870 0.870 0.870 0.870 0.870 0.870 0.870 0.870 0.870 0.870 0.870 0.794 0.718 0.642 0.566 0.490 0.414 0.338 0.262 0.186 0.110 0.110 0.110 0.110 0.110 0.110"/><feFuncB type="table" tableValues="0.525 0.536 0.584 0.670 0.794 0.870 0.870 0.870 0.870 0.870 0.870 0.870 0.870 0.870 0.870 0.870 0.794 0.718 0.642 0.566 0.490 0.414 0.338 0.262 0.186 0.110 0.110 0.110 0.110 0.110 0.110 0.110 0.110 0.110 0.110 0.110 0.110 0.110 0.110 0.110 0.110"/></feComponentTransfer></filter>
<filter id="b0_6" x="-0.2" y="-3" width="1.4" height="7" color-interpolation-filters="sRGB"><feGaussianBlur stdDeviation="0.6"/></filter>
<filter id="b0_8" x="-0.2" y="-3" width="1.4" height="7" color-interpolation-filters="sRGB"><feGaussianBlur stdDeviation="0.8"/></filter>
<filter id="b1_0" x="-0.2" y="-3" width="1.4" height="7" color-interpolation-filters="sRGB"><feGaussianBlur stdDeviation="1.0"/></filter>
<filter id="b1_3" x="-0.2" y="-3" width="1.4" height="7" color-interpolation-filters="sRGB"><feGaussianBlur stdDeviation="1.3"/></filter>
<filter id="b1_6" x="-0.2" y="-3" width="1.4" height="7" color-interpolation-filters="sRGB"><feGaussianBlur stdDeviation="1.6"/></filter>
<filter id="b2_2" x="-0.2" y="-3" width="1.4" height="7" color-interpolation-filters="sRGB"><feGaussianBlur stdDeviation="2.2"/></filter>
<filter id="b3_0" x="-0.2" y="-3" width="1.4" height="7" color-interpolation-filters="sRGB"><feGaussianBlur stdDeviation="3.0"/></filter>
<filter id="b4_5" x="-0.2" y="-3" width="1.4" height="7" color-interpolation-filters="sRGB"><feGaussianBlur stdDeviation="4.5"/></filter>
</defs>
<defs><linearGradient id="eg" x1="0" y1="0" x2="1" y2="0"><stop offset="0" stop-color="#fff" stop-opacity="0.72"/><stop offset="0.045" stop-color="#fff" stop-opacity="0.9"/><stop offset="0.13" stop-color="#fff" stop-opacity="1"/><stop offset="0.87" stop-color="#fff" stop-opacity="1"/><stop offset="0.955" stop-color="#fff" stop-opacity="0.9"/><stop offset="1" stop-color="#fff" stop-opacity="0.72"/></linearGradient></defs>
<clipPath id="c1"><rect x="206" y="37.2" width="140.3" height="94.8"/></clipPath>
<g clip-path="url(#c1)"><g filter="url(#jet)">
<rect x="196" y="27.200000000000003" width="160.3" height="114.8" fill="#000"/>
<g filter="url(#b4_5)">
<path d="M217 41 L335 41 L330 100 L322 130 L230 130 L222 100 Z" fill="#fff" fill-opacity="0.085"/>
</g>
<g filter="url(#b2_2)">
<rect x="229.00" y="44.50" width="94.00" height="7.60" rx="3.8" fill="#fff" fill-opacity="0.470"/>
<rect x="229.00" y="53.67" width="94.00" height="7.60" rx="3.8" fill="#fff" fill-opacity="0.404"/>
<rect x="229.00" y="62.84" width="94.00" height="7.60" rx="3.8" fill="#fff" fill-opacity="0.362"/>
<rect x="229.00" y="72.91" width="94.00" height="5.80" rx="2.9" fill="#fff" fill-opacity="0.268"/>
<rect x="229.00" y="82.08" width="94.00" height="5.80" rx="2.9" fill="#fff" fill-opacity="0.235"/>
<rect x="229.00" y="91.25" width="94.00" height="5.80" rx="2.9" fill="#fff" fill-opacity="0.141"/>
<rect x="229.00" y="100.42" width="94.00" height="5.80" rx="2.9" fill="#fff" fill-opacity="0.099"/>
<rect x="229.00" y="109.59" width="94.00" height="5.80" rx="2.9" fill="#fff" fill-opacity="0.024"/>
<rect x="229.00" y="118.76" width="94.00" height="5.80" rx="2.9" fill="#fff" fill-opacity="0.014"/>
<rect x="229.00" y="127.93" width="94.00" height="5.80" rx="2.9" fill="#fff" fill-opacity="0.009"/>
</g>
<g filter="url(#b1_0)">
<rect x="230.50" y="45.95" width="91.00" height="4.70" rx="2.35" fill="url(#eg)" fill-opacity="1.000"/>
<rect x="230.50" y="55.52" width="91.00" height="3.90" rx="1.95" fill="url(#eg)" fill-opacity="0.860"/>
<rect x="230.50" y="64.69" width="91.00" height="3.90" rx="1.95" fill="url(#eg)" fill-opacity="0.770"/>
<rect x="230.50" y="73.86" width="91.00" height="3.90" rx="1.95" fill="url(#eg)" fill-opacity="0.570"/>
<rect x="230.50" y="83.48" width="91.00" height="3.00" rx="1.5" fill="url(#eg)" fill-opacity="0.500"/>
<rect x="230.50" y="92.65" width="91.00" height="3.00" rx="1.5" fill="url(#eg)" fill-opacity="0.300"/>
<rect x="230.50" y="101.82" width="91.00" height="3.00" rx="1.5" fill="url(#eg)" fill-opacity="0.210"/>
<rect x="230.50" y="110.99" width="91.00" height="3.00" rx="1.5" fill="url(#eg)" fill-opacity="0.050"/>
<rect x="230.50" y="120.16" width="91.00" height="3.00" rx="1.5" fill="url(#eg)" fill-opacity="0.030"/>
<rect x="230.50" y="129.33" width="91.00" height="3.00" rx="1.5" fill="url(#eg)" fill-opacity="0.020"/>
</g>
</g></g>
<clipPath id="c2"><rect x="205.8" y="243.8" width="140.4" height="96.2"/></clipPath>
<g clip-path="url(#c2)"><g filter="url(#jet)">
<rect x="195.8" y="233.8" width="160.4" height="116.2" fill="#000"/>
<g filter="url(#b4_5)">
<path d="M217 248 L335 248 L330 307 L322 337 L230 337 L222 307 Z" fill="#fff" fill-opacity="0.085"/>
</g>
<g filter="url(#b2_2)">
<rect x="229.00" y="251.20" width="95.50" height="7.60" rx="3.8" fill="#fff" fill-opacity="0.470"/>
<rect x="229.00" y="260.37" width="95.50" height="7.60" rx="3.8" fill="#fff" fill-opacity="0.395"/>
<rect x="229.00" y="269.54" width="95.50" height="7.60" rx="3.8" fill="#fff" fill-opacity="0.348"/>
<rect x="229.00" y="279.91" width="95.50" height="5.20" rx="2.6" fill="#fff" fill-opacity="0.235"/>
<rect x="229.00" y="289.08" width="95.50" height="5.20" rx="2.6" fill="#fff" fill-opacity="0.188"/>
<rect x="229.00" y="298.25" width="95.50" height="5.20" rx="2.6" fill="#fff" fill-opacity="0.122"/>
<rect x="229.00" y="307.42" width="95.50" height="5.20" rx="2.6" fill="#fff" fill-opacity="0.070"/>
<rect x="229.00" y="316.59" width="95.50" height="5.20" rx="2.6" fill="#fff" fill-opacity="0.024"/>
<rect x="229.00" y="325.76" width="95.50" height="5.20" rx="2.6" fill="#fff" fill-opacity="0.014"/>
<rect x="229.00" y="334.93" width="95.50" height="5.20" rx="2.6" fill="#fff" fill-opacity="0.009"/>
</g>
<g filter="url(#b0_8)">
<rect x="231.00" y="252.65" width="90.50" height="4.70" rx="2.35" fill="url(#eg)" fill-opacity="1.000"/>
<rect x="231.00" y="261.97" width="90.50" height="4.40" rx="2.2" fill="url(#eg)" fill-opacity="0.860"/>
<rect x="231.00" y="271.14" width="90.50" height="4.40" rx="2.2" fill="url(#eg)" fill-opacity="0.720"/>
<rect x="231.00" y="280.61" width="90.50" height="3.80" rx="1.9" fill="url(#eg)" fill-opacity="0.500"/>
<rect x="231.00" y="289.78" width="90.50" height="3.80" rx="1.9" fill="url(#eg)" fill-opacity="0.280"/>
<rect x="231.00" y="298.95" width="90.50" height="3.80" rx="1.9" fill="url(#eg)" fill-opacity="0.100"/>
</g>
<g filter="url(#b0_6)">
<ellipse cx="232.60" cy="264.17" rx="0.75" ry="1.4" fill="#fff" fill-opacity="0.200"/>
<ellipse cx="235.42" cy="264.17" rx="0.75" ry="1.4" fill="#fff" fill-opacity="0.200"/>
<ellipse cx="238.25" cy="264.17" rx="0.75" ry="1.4" fill="#fff" fill-opacity="0.200"/>
<ellipse cx="241.07" cy="264.17" rx="0.75" ry="1.4" fill="#fff" fill-opacity="0.200"/>
<ellipse cx="243.90" cy="264.17" rx="0.75" ry="1.4" fill="#fff" fill-opacity="0.200"/>
<ellipse cx="246.72" cy="264.17" rx="0.75" ry="1.4" fill="#fff" fill-opacity="0.200"/>
<ellipse cx="249.55" cy="264.17" rx="0.75" ry="1.4" fill="#fff" fill-opacity="0.200"/>
<ellipse cx="252.38" cy="264.17" rx="0.75" ry="1.4" fill="#fff" fill-opacity="0.200"/>
<ellipse cx="255.20" cy="264.17" rx="0.75" ry="1.4" fill="#fff" fill-opacity="0.200"/>
<ellipse cx="258.02" cy="264.17" rx="0.75" ry="1.4" fill="#fff" fill-opacity="0.200"/>
<ellipse cx="260.85" cy="264.17" rx="0.75" ry="1.4" fill="#fff" fill-opacity="0.200"/>
<ellipse cx="263.68" cy="264.17" rx="0.75" ry="1.4" fill="#fff" fill-opacity="0.200"/>
<ellipse cx="266.50" cy="264.17" rx="0.75" ry="1.4" fill="#fff" fill-opacity="0.200"/>
<ellipse cx="269.32" cy="264.17" rx="0.75" ry="1.4" fill="#fff" fill-opacity="0.200"/>
<ellipse cx="272.15" cy="264.17" rx="0.75" ry="1.4" fill="#fff" fill-opacity="0.200"/>
<ellipse cx="274.98" cy="264.17" rx="0.75" ry="1.4" fill="#fff" fill-opacity="0.200"/>
<ellipse cx="277.80" cy="264.17" rx="0.75" ry="1.4" fill="#fff" fill-opacity="0.200"/>
<ellipse cx="280.62" cy="264.17" rx="0.75" ry="1.4" fill="#fff" fill-opacity="0.200"/>
<ellipse cx="283.45" cy="264.17" rx="0.75" ry="1.4" fill="#fff" fill-opacity="0.200"/>
<ellipse cx="286.27" cy="264.17" rx="0.75" ry="1.4" fill="#fff" fill-opacity="0.200"/>
<ellipse cx="289.10" cy="264.17" rx="0.75" ry="1.4" fill="#fff" fill-opacity="0.200"/>
<ellipse cx="291.93" cy="264.17" rx="0.75" ry="1.4" fill="#fff" fill-opacity="0.200"/>
<ellipse cx="294.75" cy="264.17" rx="0.75" ry="1.4" fill="#fff" fill-opacity="0.200"/>
<ellipse cx="297.57" cy="264.17" rx="0.75" ry="1.4" fill="#fff" fill-opacity="0.200"/>
<ellipse cx="300.40" cy="264.17" rx="0.75" ry="1.4" fill="#fff" fill-opacity="0.200"/>
<ellipse cx="303.23" cy="264.17" rx="0.75" ry="1.4" fill="#fff" fill-opacity="0.200"/>
<ellipse cx="306.05" cy="264.17" rx="0.75" ry="1.4" fill="#fff" fill-opacity="0.200"/>
<ellipse cx="308.88" cy="264.17" rx="0.75" ry="1.4" fill="#fff" fill-opacity="0.200"/>
<ellipse cx="311.70" cy="264.17" rx="0.75" ry="1.4" fill="#fff" fill-opacity="0.200"/>
<ellipse cx="314.52" cy="264.17" rx="0.75" ry="1.4" fill="#fff" fill-opacity="0.200"/>
<ellipse cx="317.35" cy="264.17" rx="0.75" ry="1.4" fill="#fff" fill-opacity="0.200"/>
<ellipse cx="320.18" cy="264.17" rx="0.75" ry="1.4" fill="#fff" fill-opacity="0.200"/>
<ellipse cx="232.60" cy="273.34" rx="0.75" ry="1.4" fill="#fff" fill-opacity="0.500"/>
<ellipse cx="235.42" cy="273.34" rx="0.75" ry="1.4" fill="#fff" fill-opacity="0.500"/>
<ellipse cx="238.25" cy="273.34" rx="0.75" ry="1.4" fill="#fff" fill-opacity="0.500"/>
<ellipse cx="241.07" cy="273.34" rx="0.75" ry="1.4" fill="#fff" fill-opacity="0.500"/>
<ellipse cx="243.90" cy="273.34" rx="0.75" ry="1.4" fill="#fff" fill-opacity="0.500"/>
<ellipse cx="246.72" cy="273.34" rx="0.75" ry="1.4" fill="#fff" fill-opacity="0.500"/>
<ellipse cx="249.55" cy="273.34" rx="0.75" ry="1.4" fill="#fff" fill-opacity="0.500"/>
<ellipse cx="252.38" cy="273.34" rx="0.75" ry="1.4" fill="#fff" fill-opacity="0.500"/>
<ellipse cx="255.20" cy="273.34" rx="0.75" ry="1.4" fill="#fff" fill-opacity="0.500"/>
<ellipse cx="258.02" cy="273.34" rx="0.75" ry="1.4" fill="#fff" fill-opacity="0.500"/>
<ellipse cx="260.85" cy="273.34" rx="0.75" ry="1.4" fill="#fff" fill-opacity="0.500"/>
<ellipse cx="263.68" cy="273.34" rx="0.75" ry="1.4" fill="#fff" fill-opacity="0.500"/>
<ellipse cx="266.50" cy="273.34" rx="0.75" ry="1.4" fill="#fff" fill-opacity="0.500"/>
<ellipse cx="269.32" cy="273.34" rx="0.75" ry="1.4" fill="#fff" fill-opacity="0.500"/>
<ellipse cx="272.15" cy="273.34" rx="0.75" ry="1.4" fill="#fff" fill-opacity="0.500"/>
<ellipse cx="274.98" cy="273.34" rx="0.75" ry="1.4" fill="#fff" fill-opacity="0.500"/>
<ellipse cx="277.80" cy="273.34" rx="0.75" ry="1.4" fill="#fff" fill-opacity="0.500"/>
<ellipse cx="280.62" cy="273.34" rx="0.75" ry="1.4" fill="#fff" fill-opacity="0.500"/>
<ellipse cx="283.45" cy="273.34" rx="0.75" ry="1.4" fill="#fff" fill-opacity="0.500"/>
<ellipse cx="286.27" cy="273.34" rx="0.75" ry="1.4" fill="#fff" fill-opacity="0.500"/>
<ellipse cx="289.10" cy="273.34" rx="0.75" ry="1.4" fill="#fff" fill-opacity="0.500"/>
<ellipse cx="291.93" cy="273.34" rx="0.75" ry="1.4" fill="#fff" fill-opacity="0.500"/>
<ellipse cx="294.75" cy="273.34" rx="0.75" ry="1.4" fill="#fff" fill-opacity="0.500"/>
<ellipse cx="297.57" cy="273.34" rx="0.75" ry="1.4" fill="#fff" fill-opacity="0.500"/>
<ellipse cx="300.40" cy="273.34" rx="0.75" ry="1.4" fill="#fff" fill-opacity="0.500"/>
<ellipse cx="303.23" cy="273.34" rx="0.75" ry="1.4" fill="#fff" fill-opacity="0.500"/>
<ellipse cx="306.05" cy="273.34" rx="0.75" ry="1.4" fill="#fff" fill-opacity="0.500"/>
<ellipse cx="308.88" cy="273.34" rx="0.75" ry="1.4" fill="#fff" fill-opacity="0.500"/>
<ellipse cx="311.70" cy="273.34" rx="0.75" ry="1.4" fill="#fff" fill-opacity="0.500"/>
<ellipse cx="314.52" cy="273.34" rx="0.75" ry="1.4" fill="#fff" fill-opacity="0.500"/>
<ellipse cx="317.35" cy="273.34" rx="0.75" ry="1.4" fill="#fff" fill-opacity="0.500"/>
<ellipse cx="320.18" cy="273.34" rx="0.75" ry="1.4" fill="#fff" fill-opacity="0.500"/>
</g>
<g filter="url(#b0_8)">
<circle cx="232.80" cy="310.02" r="1.8" fill="none" stroke="#fff" stroke-width="1.2" stroke-opacity="0.400"/>
<circle cx="238.45" cy="310.02" r="1.8" fill="none" stroke="#fff" stroke-width="1.2" stroke-opacity="0.400"/>
<circle cx="244.10" cy="310.02" r="1.8" fill="none" stroke="#fff" stroke-width="1.2" stroke-opacity="0.400"/>
<circle cx="249.75" cy="310.02" r="1.8" fill="none" stroke="#fff" stroke-width="1.2" stroke-opacity="0.400"/>
<circle cx="255.40" cy="310.02" r="1.8" fill="none" stroke="#fff" stroke-width="1.2" stroke-opacity="0.400"/>
<circle cx="261.05" cy="310.02" r="1.8" fill="none" stroke="#fff" stroke-width="1.2" stroke-opacity="0.400"/>
<circle cx="266.70" cy="310.02" r="1.8" fill="none" stroke="#fff" stroke-width="1.2" stroke-opacity="0.400"/>
<circle cx="272.35" cy="310.02" r="1.8" fill="none" stroke="#fff" stroke-width="1.2" stroke-opacity="0.400"/>
<circle cx="278.00" cy="310.02" r="1.8" fill="none" stroke="#fff" stroke-width="1.2" stroke-opacity="0.400"/>
<circle cx="283.65" cy="310.02" r="1.8" fill="none" stroke="#fff" stroke-width="1.2" stroke-opacity="0.400"/>
<circle cx="289.30" cy="310.02" r="1.8" fill="none" stroke="#fff" stroke-width="1.2" stroke-opacity="0.400"/>
<circle cx="294.95" cy="310.02" r="1.8" fill="none" stroke="#fff" stroke-width="1.2" stroke-opacity="0.400"/>
<circle cx="300.60" cy="310.02" r="1.8" fill="none" stroke="#fff" stroke-width="1.2" stroke-opacity="0.400"/>
<circle cx="306.25" cy="310.02" r="1.8" fill="none" stroke="#fff" stroke-width="1.2" stroke-opacity="0.400"/>
<circle cx="311.90" cy="310.02" r="1.8" fill="none" stroke="#fff" stroke-width="1.2" stroke-opacity="0.400"/>
<circle cx="317.55" cy="310.02" r="1.8" fill="none" stroke="#fff" stroke-width="1.2" stroke-opacity="0.400"/>
<circle cx="323.20" cy="310.02" r="1.8" fill="none" stroke="#fff" stroke-width="1.2" stroke-opacity="0.400"/>
</g>
<g filter="url(#b1_0)">
<path d="M230.10 282.51 L232.80 279.31 L235.50 282.51 L232.80 285.71 Z" fill="#fff" fill-opacity="0.220"/>
<path d="M235.75 282.51 L238.45 279.31 L241.15 282.51 L238.45 285.71 Z" fill="#fff" fill-opacity="0.220"/>
<path d="M241.40 282.51 L244.10 279.31 L246.80 282.51 L244.10 285.71 Z" fill="#fff" fill-opacity="0.220"/>
<path d="M247.05 282.51 L249.75 279.31 L252.45 282.51 L249.75 285.71 Z" fill="#fff" fill-opacity="0.220"/>
<path d="M252.70 282.51 L255.40 279.31 L258.10 282.51 L255.40 285.71 Z" fill="#fff" fill-opacity="0.220"/>
<path d="M258.35 282.51 L261.05 279.31 L263.75 282.51 L261.05 285.71 Z" fill="#fff" fill-opacity="0.220"/>
<path d="M264.00 282.51 L266.70 279.31 L269.40 282.51 L266.70 285.71 Z" fill="#fff" fill-opacity="0.220"/>
<path d="M269.65 282.51 L272.35 279.31 L275.05 282.51 L272.35 285.71 Z" fill="#fff" fill-opacity="0.220"/>
<path d="M275.30 282.51 L278.00 279.31 L280.70 282.51 L278.00 285.71 Z" fill="#fff" fill-opacity="0.220"/>
<path d="M280.95 282.51 L283.65 279.31 L286.35 282.51 L283.65 285.71 Z" fill="#fff" fill-opacity="0.220"/>
<path d="M286.60 282.51 L289.30 279.31 L292.00 282.51 L289.30 285.71 Z" fill="#fff" fill-opacity="0.220"/>
<path d="M292.25 282.51 L294.95 279.31 L297.65 282.51 L294.95 285.71 Z" fill="#fff" fill-opacity="0.220"/>
<path d="M297.90 282.51 L300.60 279.31 L303.30 282.51 L300.60 285.71 Z" fill="#fff" fill-opacity="0.220"/>
<path d="M303.55 282.51 L306.25 279.31 L308.95 282.51 L306.25 285.71 Z" fill="#fff" fill-opacity="0.220"/>
<path d="M309.20 282.51 L311.90 279.31 L314.60 282.51 L311.90 285.71 Z" fill="#fff" fill-opacity="0.220"/>
<path d="M314.85 282.51 L317.55 279.31 L320.25 282.51 L317.55 285.71 Z" fill="#fff" fill-opacity="0.220"/>
<path d="M320.50 282.51 L323.20 279.31 L325.90 282.51 L323.20 285.71 Z" fill="#fff" fill-opacity="0.220"/>
<path d="M230.10 291.68 L232.80 288.48 L235.50 291.68 L232.80 294.88 Z" fill="#fff" fill-opacity="0.300"/>
<path d="M235.75 291.68 L238.45 288.48 L241.15 291.68 L238.45 294.88 Z" fill="#fff" fill-opacity="0.300"/>
<path d="M241.40 291.68 L244.10 288.48 L246.80 291.68 L244.10 294.88 Z" fill="#fff" fill-opacity="0.300"/>
<path d="M247.05 291.68 L249.75 288.48 L252.45 291.68 L249.75 294.88 Z" fill="#fff" fill-opacity="0.300"/>
<path d="M252.70 291.68 L255.40 288.48 L258.10 291.68 L255.40 294.88 Z" fill="#fff" fill-opacity="0.300"/>
<path d="M258.35 291.68 L261.05 288.48 L263.75 291.68 L261.05 294.88 Z" fill="#fff" fill-opacity="0.300"/>
<path d="M264.00 291.68 L266.70 288.48 L269.40 291.68 L266.70 294.88 Z" fill="#fff" fill-opacity="0.300"/>
<path d="M269.65 291.68 L272.35 288.48 L275.05 291.68 L272.35 294.88 Z" fill="#fff" fill-opacity="0.300"/>
<path d="M275.30 291.68 L278.00 288.48 L280.70 291.68 L278.00 294.88 Z" fill="#fff" fill-opacity="0.300"/>
<path d="M280.95 291.68 L283.65 288.48 L286.35 291.68 L283.65 294.88 Z" fill="#fff" fill-opacity="0.300"/>
<path d="M286.60 291.68 L289.30 288.48 L292.00 291.68 L289.30 294.88 Z" fill="#fff" fill-opacity="0.300"/>
<path d="M292.25 291.68 L294.95 288.48 L297.65 291.68 L294.95 294.88 Z" fill="#fff" fill-opacity="0.300"/>
<path d="M297.90 291.68 L300.60 288.48 L303.30 291.68 L300.60 294.88 Z" fill="#fff" fill-opacity="0.300"/>
<path d="M303.55 291.68 L306.25 288.48 L308.95 291.68 L306.25 294.88 Z" fill="#fff" fill-opacity="0.300"/>
<path d="M309.20 291.68 L311.90 288.48 L314.60 291.68 L311.90 294.88 Z" fill="#fff" fill-opacity="0.300"/>
<path d="M314.85 291.68 L317.55 288.48 L320.25 291.68 L317.55 294.88 Z" fill="#fff" fill-opacity="0.300"/>
<path d="M320.50 291.68 L323.20 288.48 L325.90 291.68 L323.20 294.88 Z" fill="#fff" fill-opacity="0.300"/>
<path d="M230.10 300.85 L232.80 297.65 L235.50 300.85 L232.80 304.05 Z" fill="#fff" fill-opacity="0.300"/>
<path d="M235.75 300.85 L238.45 297.65 L241.15 300.85 L238.45 304.05 Z" fill="#fff" fill-opacity="0.300"/>
<path d="M241.40 300.85 L244.10 297.65 L246.80 300.85 L244.10 304.05 Z" fill="#fff" fill-opacity="0.300"/>
<path d="M247.05 300.85 L249.75 297.65 L252.45 300.85 L249.75 304.05 Z" fill="#fff" fill-opacity="0.300"/>
<path d="M252.70 300.85 L255.40 297.65 L258.10 300.85 L255.40 304.05 Z" fill="#fff" fill-opacity="0.300"/>
<path d="M258.35 300.85 L261.05 297.65 L263.75 300.85 L261.05 304.05 Z" fill="#fff" fill-opacity="0.300"/>
<path d="M264.00 300.85 L266.70 297.65 L269.40 300.85 L266.70 304.05 Z" fill="#fff" fill-opacity="0.300"/>
<path d="M269.65 300.85 L272.35 297.65 L275.05 300.85 L272.35 304.05 Z" fill="#fff" fill-opacity="0.300"/>
<path d="M275.30 300.85 L278.00 297.65 L280.70 300.85 L278.00 304.05 Z" fill="#fff" fill-opacity="0.300"/>
<path d="M280.95 300.85 L283.65 297.65 L286.35 300.85 L283.65 304.05 Z" fill="#fff" fill-opacity="0.300"/>
<path d="M286.60 300.85 L289.30 297.65 L292.00 300.85 L289.30 304.05 Z" fill="#fff" fill-opacity="0.300"/>
<path d="M292.25 300.85 L294.95 297.65 L297.65 300.85 L294.95 304.05 Z" fill="#fff" fill-opacity="0.300"/>
<path d="M297.90 300.85 L300.60 297.65 L303.30 300.85 L300.60 304.05 Z" fill="#fff" fill-opacity="0.300"/>
<path d="M303.55 300.85 L306.25 297.65 L308.95 300.85 L306.25 304.05 Z" fill="#fff" fill-opacity="0.300"/>
<path d="M309.20 300.85 L311.90 297.65 L314.60 300.85 L311.90 304.05 Z" fill="#fff" fill-opacity="0.300"/>
<path d="M314.85 300.85 L317.55 297.65 L320.25 300.85 L317.55 304.05 Z" fill="#fff" fill-opacity="0.300"/>
<path d="M320.50 300.85 L323.20 297.65 L325.90 300.85 L323.20 304.05 Z" fill="#fff" fill-opacity="0.300"/>
<path d="M230.10 319.19 L232.80 315.99 L235.50 319.19 L232.80 322.39 Z" fill="#fff" fill-opacity="0.080"/>
<path d="M235.75 319.19 L238.45 315.99 L241.15 319.19 L238.45 322.39 Z" fill="#fff" fill-opacity="0.080"/>
<path d="M241.40 319.19 L244.10 315.99 L246.80 319.19 L244.10 322.39 Z" fill="#fff" fill-opacity="0.080"/>
<path d="M247.05 319.19 L249.75 315.99 L252.45 319.19 L249.75 322.39 Z" fill="#fff" fill-opacity="0.080"/>
<path d="M252.70 319.19 L255.40 315.99 L258.10 319.19 L255.40 322.39 Z" fill="#fff" fill-opacity="0.080"/>
<path d="M258.35 319.19 L261.05 315.99 L263.75 319.19 L261.05 322.39 Z" fill="#fff" fill-opacity="0.080"/>
<path d="M264.00 319.19 L266.70 315.99 L269.40 319.19 L266.70 322.39 Z" fill="#fff" fill-opacity="0.080"/>
<path d="M269.65 319.19 L272.35 315.99 L275.05 319.19 L272.35 322.39 Z" fill="#fff" fill-opacity="0.080"/>
<path d="M275.30 319.19 L278.00 315.99 L280.70 319.19 L278.00 322.39 Z" fill="#fff" fill-opacity="0.080"/>
<path d="M280.95 319.19 L283.65 315.99 L286.35 319.19 L283.65 322.39 Z" fill="#fff" fill-opacity="0.080"/>
<path d="M286.60 319.19 L289.30 315.99 L292.00 319.19 L289.30 322.39 Z" fill="#fff" fill-opacity="0.080"/>
<path d="M292.25 319.19 L294.95 315.99 L297.65 319.19 L294.95 322.39 Z" fill="#fff" fill-opacity="0.080"/>
<path d="M297.90 319.19 L300.60 315.99 L303.30 319.19 L300.60 322.39 Z" fill="#fff" fill-opacity="0.080"/>
<path d="M303.55 319.19 L306.25 315.99 L308.95 319.19 L306.25 322.39 Z" fill="#fff" fill-opacity="0.080"/>
<path d="M309.20 319.19 L311.90 315.99 L314.60 319.19 L311.90 322.39 Z" fill="#fff" fill-opacity="0.080"/>
<path d="M314.85 319.19 L317.55 315.99 L320.25 319.19 L317.55 322.39 Z" fill="#fff" fill-opacity="0.080"/>
<path d="M320.50 319.19 L323.20 315.99 L325.90 319.19 L323.20 322.39 Z" fill="#fff" fill-opacity="0.080"/>
<path d="M230.10 328.36 L232.80 325.16 L235.50 328.36 L232.80 331.56 Z" fill="#fff" fill-opacity="0.050"/>
<path d="M235.75 328.36 L238.45 325.16 L241.15 328.36 L238.45 331.56 Z" fill="#fff" fill-opacity="0.050"/>
<path d="M241.40 328.36 L244.10 325.16 L246.80 328.36 L244.10 331.56 Z" fill="#fff" fill-opacity="0.050"/>
<path d="M247.05 328.36 L249.75 325.16 L252.45 328.36 L249.75 331.56 Z" fill="#fff" fill-opacity="0.050"/>
<path d="M252.70 328.36 L255.40 325.16 L258.10 328.36 L255.40 331.56 Z" fill="#fff" fill-opacity="0.050"/>
<path d="M258.35 328.36 L261.05 325.16 L263.75 328.36 L261.05 331.56 Z" fill="#fff" fill-opacity="0.050"/>
<path d="M264.00 328.36 L266.70 325.16 L269.40 328.36 L266.70 331.56 Z" fill="#fff" fill-opacity="0.050"/>
<path d="M269.65 328.36 L272.35 325.16 L275.05 328.36 L272.35 331.56 Z" fill="#fff" fill-opacity="0.050"/>
<path d="M275.30 328.36 L278.00 325.16 L280.70 328.36 L278.00 331.56 Z" fill="#fff" fill-opacity="0.050"/>
<path d="M280.95 328.36 L283.65 325.16 L286.35 328.36 L283.65 331.56 Z" fill="#fff" fill-opacity="0.050"/>
<path d="M286.60 328.36 L289.30 325.16 L292.00 328.36 L289.30 331.56 Z" fill="#fff" fill-opacity="0.050"/>
<path d="M292.25 328.36 L294.95 325.16 L297.65 328.36 L294.95 331.56 Z" fill="#fff" fill-opacity="0.050"/>
<path d="M297.90 328.36 L300.60 325.16 L303.30 328.36 L300.60 331.56 Z" fill="#fff" fill-opacity="0.050"/>
<path d="M303.55 328.36 L306.25 325.16 L308.95 328.36 L306.25 331.56 Z" fill="#fff" fill-opacity="0.050"/>
<path d="M309.20 328.36 L311.90 325.16 L314.60 328.36 L311.90 331.56 Z" fill="#fff" fill-opacity="0.050"/>
<path d="M314.85 328.36 L317.55 325.16 L320.25 328.36 L317.55 331.56 Z" fill="#fff" fill-opacity="0.050"/>
<path d="M320.50 328.36 L323.20 325.16 L325.90 328.36 L323.20 331.56 Z" fill="#fff" fill-opacity="0.050"/>
<path d="M230.10 337.53 L232.80 334.33 L235.50 337.53 L232.80 340.73 Z" fill="#fff" fill-opacity="0.030"/>
<path d="M235.75 337.53 L238.45 334.33 L241.15 337.53 L238.45 340.73 Z" fill="#fff" fill-opacity="0.030"/>
<path d="M241.40 337.53 L244.10 334.33 L246.80 337.53 L244.10 340.73 Z" fill="#fff" fill-opacity="0.030"/>
<path d="M247.05 337.53 L249.75 334.33 L252.45 337.53 L249.75 340.73 Z" fill="#fff" fill-opacity="0.030"/>
<path d="M252.70 337.53 L255.40 334.33 L258.10 337.53 L255.40 340.73 Z" fill="#fff" fill-opacity="0.030"/>
<path d="M258.35 337.53 L261.05 334.33 L263.75 337.53 L261.05 340.73 Z" fill="#fff" fill-opacity="0.030"/>
<path d="M264.00 337.53 L266.70 334.33 L269.40 337.53 L266.70 340.73 Z" fill="#fff" fill-opacity="0.030"/>
<path d="M269.65 337.53 L272.35 334.33 L275.05 337.53 L272.35 340.73 Z" fill="#fff" fill-opacity="0.030"/>
<path d="M275.30 337.53 L278.00 334.33 L280.70 337.53 L278.00 340.73 Z" fill="#fff" fill-opacity="0.030"/>
<path d="M280.95 337.53 L283.65 334.33 L286.35 337.53 L283.65 340.73 Z" fill="#fff" fill-opacity="0.030"/>
<path d="M286.60 337.53 L289.30 334.33 L292.00 337.53 L289.30 340.73 Z" fill="#fff" fill-opacity="0.030"/>
<path d="M292.25 337.53 L294.95 334.33 L297.65 337.53 L294.95 340.73 Z" fill="#fff" fill-opacity="0.030"/>
<path d="M297.90 337.53 L300.60 334.33 L303.30 337.53 L300.60 340.73 Z" fill="#fff" fill-opacity="0.030"/>
<path d="M303.55 337.53 L306.25 334.33 L308.95 337.53 L306.25 340.73 Z" fill="#fff" fill-opacity="0.030"/>
<path d="M309.20 337.53 L311.90 334.33 L314.60 337.53 L311.90 340.73 Z" fill="#fff" fill-opacity="0.030"/>
<path d="M314.85 337.53 L317.55 334.33 L320.25 337.53 L317.55 340.73 Z" fill="#fff" fill-opacity="0.030"/>
<path d="M320.50 337.53 L323.20 334.33 L325.90 337.53 L323.20 340.73 Z" fill="#fff" fill-opacity="0.030"/>
</g>
</g></g>
<defs><linearGradient id="lg1" gradientUnits="userSpaceOnUse" x1="179" y1="0" x2="338" y2="0"><stop offset="0.000" stop-color="#fff" stop-opacity="1"/><stop offset="0.082" stop-color="#fff" stop-opacity="1.0"/><stop offset="0.182" stop-color="#fff" stop-opacity="0.87"/><stop offset="0.264" stop-color="#fff" stop-opacity="0.76"/><stop offset="0.346" stop-color="#fff" stop-opacity="0.67"/><stop offset="0.447" stop-color="#fff" stop-opacity="0.62"/><stop offset="0.509" stop-color="#fff" stop-opacity="0.57"/><stop offset="0.560" stop-color="#fff" stop-opacity="0.5"/><stop offset="0.642" stop-color="#fff" stop-opacity="0.4"/><stop offset="0.755" stop-color="#fff" stop-opacity="0.29"/><stop offset="0.849" stop-color="#fff" stop-opacity="0.17"/><stop offset="0.950" stop-color="#fff" stop-opacity="0.07"/><stop offset="1.000" stop-color="#fff" stop-opacity="0"/></linearGradient></defs>
<defs><linearGradient id="lg2" gradientUnits="userSpaceOnUse" x1="176" y1="0" x2="342" y2="0"><stop offset="0.000" stop-color="#fff" stop-opacity="0.38"/><stop offset="0.235" stop-color="#fff" stop-opacity="0.33"/><stop offset="0.506" stop-color="#fff" stop-opacity="0.26"/><stop offset="0.747" stop-color="#fff" stop-opacity="0.17"/><stop offset="1.000" stop-color="#fff" stop-opacity="0.0"/></linearGradient></defs>
<defs><linearGradient id="lg4" gradientUnits="userSpaceOnUse" x1="170" y1="0" x2="345" y2="0"><stop offset="0.000" stop-color="#fff" stop-opacity="0.085"/><stop offset="0.514" stop-color="#fff" stop-opacity="0.07"/><stop offset="0.857" stop-color="#fff" stop-opacity="0.045"/><stop offset="1.000" stop-color="#fff" stop-opacity="0.02"/></linearGradient></defs>
<clipPath id="c3"><rect x="167.2" y="160.4" width="177.3" height="23.6"/></clipPath>
<g clip-path="url(#c3)"><g filter="url(#jet)">
<rect x="157.2" y="150.4" width="197.3" height="43.6" fill="#000"/>
<path d="M178.5 150 L346 150 L346 195 L178.5 195 Z" fill="url(#lg4)" filter="url(#b1_0)"/>
<path d="M178 169.0 L300 170.4 L340 171.4 L340 174.4 L300 175.4 L178 176.8 Z" fill="url(#lg2)" filter="url(#b1_6)"/>
<path d="M181.8 170.6 Q179.4 172.9 181.8 175.2 L200 175.0 L250 174.6 L338 173.8 L338 172.0 L250 171.2 L200 170.8 Z" fill="url(#lg1)" filter="url(#b0_8)"/>
</g></g>
<clipPath id="c4"><rect x="168.0" y="369.6" width="177.0" height="22.3"/></clipPath>
<g clip-path="url(#c4)"><g filter="url(#jet)">
<rect x="158.0" y="359.6" width="197.0" height="42.3" fill="#000"/>
<path d="M180.5 360 L346 360 L346 400 L180.5 400 Z" fill="url(#lg4)" filter="url(#b1_0)"/>
<defs><linearGradient id="lg5" gradientUnits="userSpaceOnUse" x1="178" y1="0" x2="342" y2="0"><stop offset="0.000" stop-color="#fff" stop-opacity="0.5"/><stop offset="0.226" stop-color="#fff" stop-opacity="0.46"/><stop offset="0.500" stop-color="#fff" stop-opacity="0.34"/><stop offset="0.744" stop-color="#fff" stop-opacity="0.18"/><stop offset="1.000" stop-color="#fff" stop-opacity="0.0"/></linearGradient></defs>
<path d="M181 377.4 L300 378.6 L340 379.6 L340 383.0 L300 384.0 L181 385.2 Z" fill="url(#lg5)" filter="url(#b1_6)"/>
<defs><linearGradient id="lg3" gradientUnits="userSpaceOnUse" x1="181" y1="0" x2="300" y2="0"><stop offset="0.000" stop-color="#fff" stop-opacity="0.8"/><stop offset="0.286" stop-color="#fff" stop-opacity="0.66"/><stop offset="0.580" stop-color="#fff" stop-opacity="0.42"/><stop offset="0.790" stop-color="#fff" stop-opacity="0.2"/><stop offset="1.000" stop-color="#fff" stop-opacity="0"/></linearGradient></defs>
<path d="M184 378.9 Q181.4 381.2 184 383.5 L300 382.6 L300 379.8 Z" fill="url(#lg3)" filter="url(#b0_8)"/>
<g filter="url(#b0_6)">
<ellipse cx="183.40" cy="381.2" rx="0.9" ry="2.90" fill="#fff" fill-opacity="1.000"/>
<ellipse cx="186.10" cy="381.2" rx="0.9" ry="2.89" fill="#fff" fill-opacity="1.000"/>
<ellipse cx="188.80" cy="381.2" rx="0.9" ry="2.89" fill="#fff" fill-opacity="1.000"/>
<ellipse cx="191.50" cy="381.2" rx="0.9" ry="2.89" fill="#fff" fill-opacity="1.000"/>
<ellipse cx="194.20" cy="381.2" rx="0.9" ry="2.88" fill="#fff" fill-opacity="1.000"/>
<ellipse cx="196.91" cy="381.2" rx="0.9" ry="2.88" fill="#fff" fill-opacity="1.000"/>
<ellipse cx="199.62" cy="381.2" rx="0.9" ry="2.88" fill="#fff" fill-opacity="1.000"/>
<ellipse cx="202.33" cy="381.2" rx="0.9" ry="2.87" fill="#fff" fill-opacity="1.000"/>
<ellipse cx="205.04" cy="381.2" rx="0.9" ry="2.87" fill="#fff" fill-opacity="1.000"/>
<ellipse cx="207.76" cy="381.2" rx="0.9" ry="2.87" fill="#fff" fill-opacity="1.000"/>
<ellipse cx="210.49" cy="381.2" rx="0.9" ry="2.86" fill="#fff" fill-opacity="1.000"/>
<ellipse cx="213.23" cy="381.2" rx="0.9" ry="2.86" fill="#fff" fill-opacity="1.000"/>
<ellipse cx="215.97" cy="381.2" rx="0.9" ry="2.86" fill="#fff" fill-opacity="1.000"/>
<ellipse cx="218.73" cy="381.2" rx="0.9" ry="2.85" fill="#fff" fill-opacity="1.000"/>
<ellipse cx="221.49" cy="381.2" rx="0.9" ry="2.84" fill="#fff" fill-opacity="1.000"/>
<ellipse cx="224.28" cy="381.2" rx="0.9" ry="2.83" fill="#fff" fill-opacity="0.995"/>
<ellipse cx="227.07" cy="381.2" rx="0.9" ry="2.83" fill="#fff" fill-opacity="0.981"/>
<ellipse cx="229.89" cy="381.2" rx="0.9" ry="2.82" fill="#fff" fill-opacity="0.967"/>
<ellipse cx="232.72" cy="381.2" rx="0.9" ry="2.81" fill="#fff" fill-opacity="0.952"/>
<ellipse cx="235.57" cy="381.2" rx="0.9" ry="2.80" fill="#fff" fill-opacity="0.937"/>
<ellipse cx="238.44" cy="381.2" rx="0.9" ry="2.79" fill="#fff" fill-opacity="0.920"/>
<ellipse cx="241.34" cy="381.2" rx="0.9" ry="2.78" fill="#fff" fill-opacity="0.903"/>
<ellipse cx="244.27" cy="381.2" rx="0.9" ry="2.77" fill="#fff" fill-opacity="0.885"/>
<ellipse cx="247.22" cy="381.2" rx="0.9" ry="2.76" fill="#fff" fill-opacity="0.868"/>
<ellipse cx="250.20" cy="381.2" rx="0.9" ry="2.76" fill="#fff" fill-opacity="0.850"/>
<ellipse cx="253.22" cy="381.2" rx="0.9" ry="2.74" fill="#fff" fill-opacity="0.827"/>
<ellipse cx="256.28" cy="381.2" rx="0.9" ry="2.73" fill="#fff" fill-opacity="0.804"/>
<ellipse cx="259.37" cy="381.2" rx="0.9" ry="2.72" fill="#fff" fill-opacity="0.781"/>
<ellipse cx="262.51" cy="381.2" rx="0.9" ry="2.71" fill="#fff" fill-opacity="0.758"/>
<ellipse cx="265.69" cy="381.2" rx="0.9" ry="2.69" fill="#fff" fill-opacity="0.734"/>
<ellipse cx="268.92" cy="381.2" rx="0.9" ry="2.68" fill="#fff" fill-opacity="0.710"/>
<ellipse cx="272.21" cy="381.2" rx="0.9" ry="2.67" fill="#fff" fill-opacity="0.685"/>
<ellipse cx="275.55" cy="381.2" rx="0.9" ry="2.65" fill="#fff" fill-opacity="0.660"/>
<ellipse cx="278.95" cy="381.2" rx="0.9" ry="2.64" fill="#fff" fill-opacity="0.635"/>
<ellipse cx="282.41" cy="381.2" rx="0.9" ry="2.62" fill="#fff" fill-opacity="0.605"/>
<ellipse cx="285.95" cy="381.2" rx="0.9" ry="2.61" fill="#fff" fill-opacity="0.572"/>
<ellipse cx="289.57" cy="381.2" rx="0.9" ry="2.59" fill="#fff" fill-opacity="0.538"/>
<ellipse cx="293.26" cy="381.2" rx="0.9" ry="2.57" fill="#fff" fill-opacity="0.503"/>
<ellipse cx="297.04" cy="381.2" rx="0.9" ry="2.55" fill="#fff" fill-opacity="0.467"/>
<ellipse cx="300.92" cy="381.2" rx="0.9" ry="2.53" fill="#fff" fill-opacity="0.431"/>
<ellipse cx="304.90" cy="381.2" rx="0.9" ry="2.51" fill="#fff" fill-opacity="0.393"/>
<ellipse cx="308.98" cy="381.2" rx="0.9" ry="2.49" fill="#fff" fill-opacity="0.354"/>
<ellipse cx="313.19" cy="381.2" rx="0.9" ry="2.47" fill="#fff" fill-opacity="0.314"/>
<ellipse cx="317.52" cy="381.2" rx="0.9" ry="2.45" fill="#fff" fill-opacity="0.273"/>
<ellipse cx="322.00" cy="381.2" rx="0.9" ry="2.42" fill="#fff" fill-opacity="0.231"/>
<ellipse cx="326.62" cy="381.2" rx="0.9" ry="2.40" fill="#fff" fill-opacity="0.188"/>
<ellipse cx="331.40" cy="381.2" rx="0.9" ry="2.38" fill="#fff" fill-opacity="0.144"/>
<ellipse cx="336.37" cy="381.2" rx="0.9" ry="2.35" fill="#fff" fill-opacity="0.100"/>
</g>
</g></g>
<rect x="61.5" y="429.0" width="280.0" height="135.0" fill="none" stroke="#7d7d7d" stroke-width="1"/>
<line x1="61.50" y1="474.00" x2="64.50" y2="474.00" stroke="#555" stroke-width="0.8" />
<line x1="61.50" y1="519.00" x2="64.50" y2="519.00" stroke="#555" stroke-width="0.8" />
<line x1="131.50" y1="564.00" x2="131.50" y2="561.00" stroke="#555" stroke-width="0.8" />
<line x1="201.50" y1="564.00" x2="201.50" y2="561.00" stroke="#555" stroke-width="0.8" />
<line x1="271.50" y1="564.00" x2="271.50" y2="561.00" stroke="#555" stroke-width="0.8" />
<text x="52.90" y="432.48" font-size="10" text-anchor="end" font-weight="normal" fill="#222" >120</text>
<text x="52.90" y="477.48" font-size="10" text-anchor="end" font-weight="normal" fill="#222" >80</text>
<text x="52.90" y="522.48" font-size="10" text-anchor="end" font-weight="normal" fill="#222" >40</text>
<text x="52.90" y="567.48" font-size="10" text-anchor="end" font-weight="normal" fill="#222" >0</text>
<text x="61.50" y="581.18" font-size="10" text-anchor="middle" font-weight="normal" fill="#222" >0</text>
<text x="131.00" y="581.18" font-size="10" text-anchor="middle" font-weight="normal" fill="#222" >0.05</text>
<text x="201.80" y="581.18" font-size="10" text-anchor="middle" font-weight="normal" fill="#222" >0.1</text>
<text x="272.00" y="581.18" font-size="10" text-anchor="middle" font-weight="normal" fill="#222" >0.15</text>
<text x="341.50" y="581.18" font-size="10" text-anchor="middle" font-weight="normal" fill="#222" >0.2</text>
<text transform="translate(28.0 497.3) rotate(-90)" font-size="15.5" text-anchor="middle" fill="#111">Width (nm)</text>
<text x="207.70" y="604.60" font-size="15.3" text-anchor="middle" font-weight="normal" fill="#111" >Exposure dose (A.U.)</text>
<clipPath id="cc"><rect x="61.5" y="429.0" width="280.0" height="135.0"/></clipPath><g clip-path="url(#cc)">
<path d="M62.73 533.00 L63.13 520.00 L63.50 511.00 L63.97 501.60 L64.52 497.00 L65.08 492.40 L65.70 486.30 L66.45 479.40 L67.33 473.70 L68.23 466.50 L69.24 462.00 L70.36 456.30 L71.46 448.60 L72.70 442.30 L73.98 436.30 L75.22 431.40 L76.00 428.00" fill="none" stroke="#111" stroke-width="0.7"/>
<circle cx="62.73" cy="533.00" r="1.75" fill="#0a0a0a"/>
<circle cx="63.13" cy="520.00" r="1.75" fill="#0a0a0a"/>
<circle cx="63.50" cy="511.00" r="1.75" fill="#0a0a0a"/>
<circle cx="63.97" cy="501.60" r="1.75" fill="#0a0a0a"/>
<circle cx="64.52" cy="497.00" r="1.75" fill="#0a0a0a"/>
<circle cx="65.08" cy="492.40" r="1.75" fill="#0a0a0a"/>
<circle cx="65.70" cy="486.30" r="1.75" fill="#0a0a0a"/>
<circle cx="66.45" cy="479.40" r="1.75" fill="#0a0a0a"/>
<circle cx="67.33" cy="473.70" r="1.75" fill="#0a0a0a"/>
<circle cx="68.23" cy="466.50" r="1.75" fill="#0a0a0a"/>
<circle cx="69.24" cy="462.00" r="1.75" fill="#0a0a0a"/>
<circle cx="70.36" cy="456.30" r="1.75" fill="#0a0a0a"/>
<circle cx="71.46" cy="448.60" r="1.75" fill="#0a0a0a"/>
<circle cx="72.70" cy="442.30" r="1.75" fill="#0a0a0a"/>
<circle cx="73.98" cy="436.30" r="1.75" fill="#0a0a0a"/>
<circle cx="75.22" cy="431.40" r="1.75" fill="#0a0a0a"/>
<path d="M62.87 539.87 L63.26 526.14 L63.76 515.32 L64.27 505.92 L64.92 499.10 L65.62 494.78 L66.35 489.50 L67.19 482.82 L68.21 476.56 L69.33 470.00 L70.51 464.19 L71.85 459.34 L73.23 452.50 L74.69 445.35 L76.28 439.21 L77.91 433.63 L79.60 428.00" fill="none" stroke="#111" stroke-width="0.7"/>
<circle cx="62.87" cy="539.87" r="1.40" fill="#fff" stroke="#111" stroke-width="0.7"/>
<circle cx="63.26" cy="526.14" r="1.40" fill="#fff" stroke="#111" stroke-width="0.7"/>
<circle cx="63.76" cy="515.32" r="1.40" fill="#fff" stroke="#111" stroke-width="0.7"/>
<circle cx="64.27" cy="505.92" r="1.40" fill="#fff" stroke="#111" stroke-width="0.7"/>
<circle cx="64.92" cy="499.10" r="1.40" fill="#fff" stroke="#111" stroke-width="0.7"/>
<circle cx="65.62" cy="494.78" r="1.40" fill="#fff" stroke="#111" stroke-width="0.7"/>
<circle cx="66.35" cy="489.50" r="1.40" fill="#fff" stroke="#111" stroke-width="0.7"/>
<circle cx="67.19" cy="482.82" r="1.40" fill="#fff" stroke="#111" stroke-width="0.7"/>
<circle cx="68.21" cy="476.56" r="1.40" fill="#fff" stroke="#111" stroke-width="0.7"/>
<circle cx="69.33" cy="470.00" r="1.40" fill="#fff" stroke="#111" stroke-width="0.7"/>
<circle cx="70.51" cy="464.19" r="1.40" fill="#fff" stroke="#111" stroke-width="0.7"/>
<circle cx="71.85" cy="459.34" r="1.40" fill="#fff" stroke="#111" stroke-width="0.7"/>
<circle cx="73.23" cy="452.50" r="1.40" fill="#fff" stroke="#111" stroke-width="0.7"/>
<circle cx="74.69" cy="445.35" r="1.40" fill="#fff" stroke="#111" stroke-width="0.7"/>
<circle cx="76.28" cy="439.21" r="1.40" fill="#fff" stroke="#111" stroke-width="0.7"/>
<circle cx="77.91" cy="433.63" r="1.40" fill="#fff" stroke="#111" stroke-width="0.7"/>
<path d="M63.44 529.57 L64.05 517.53 L64.63 508.53 L65.35 500.23 L66.19 495.88 L67.03 491.01 L67.99 484.60 L69.15 477.93 L70.47 471.94 L71.84 465.25 L73.38 460.71 L75.04 454.50 L76.71 446.93 L78.58 440.75 L80.50 434.95 L82.19 430.52 L83.00 428.00" fill="none" stroke="#111" stroke-width="0.7"/>
<circle cx="63.44" cy="529.57" r="1.75" fill="#0a0a0a"/>
<circle cx="64.05" cy="517.53" r="1.75" fill="#0a0a0a"/>
<circle cx="64.63" cy="508.53" r="1.75" fill="#0a0a0a"/>
<circle cx="65.35" cy="500.23" r="1.75" fill="#0a0a0a"/>
<circle cx="66.19" cy="495.88" r="1.75" fill="#0a0a0a"/>
<circle cx="67.03" cy="491.01" r="1.75" fill="#0a0a0a"/>
<circle cx="67.99" cy="484.60" r="1.75" fill="#0a0a0a"/>
<circle cx="69.15" cy="477.93" r="1.75" fill="#0a0a0a"/>
<circle cx="70.47" cy="471.94" r="1.75" fill="#0a0a0a"/>
<circle cx="71.84" cy="465.25" r="1.75" fill="#0a0a0a"/>
<circle cx="73.38" cy="460.71" r="1.75" fill="#0a0a0a"/>
<circle cx="75.04" cy="454.50" r="1.75" fill="#0a0a0a"/>
<circle cx="76.71" cy="446.93" r="1.75" fill="#0a0a0a"/>
<circle cx="78.58" cy="440.75" r="1.75" fill="#0a0a0a"/>
<circle cx="80.50" cy="434.95" r="1.75" fill="#0a0a0a"/>
<circle cx="82.19" cy="430.52" r="1.75" fill="#0a0a0a"/>
<path d="M63.50 537.09 L64.12 523.52 L64.79 513.63 L65.54 503.96 L66.48 498.28 L67.45 493.87 L68.49 488.24 L69.72 481.40 L71.20 475.47 L72.76 468.47 L74.46 463.36 L76.36 458.18 L78.28 450.87 L80.37 444.13 L82.61 438.00 L84.87 432.65 L86.80 428.00" fill="none" stroke="#111" stroke-width="0.7"/>
<circle cx="63.50" cy="537.09" r="1.10" fill="#fff" stroke="#111" stroke-width="0.7"/>
<circle cx="64.12" cy="523.52" r="1.10" fill="#fff" stroke="#111" stroke-width="0.7"/>
<circle cx="64.79" cy="513.63" r="1.10" fill="#fff" stroke="#111" stroke-width="0.7"/>
<circle cx="65.54" cy="503.96" r="1.10" fill="#fff" stroke="#111" stroke-width="0.7"/>
<circle cx="66.48" cy="498.28" r="1.10" fill="#fff" stroke="#111" stroke-width="0.7"/>
<circle cx="67.45" cy="493.87" r="1.10" fill="#fff" stroke="#111" stroke-width="0.7"/>
<circle cx="68.49" cy="488.24" r="1.10" fill="#fff" stroke="#111" stroke-width="0.7"/>
<circle cx="69.72" cy="481.40" r="1.10" fill="#fff" stroke="#111" stroke-width="0.7"/>
<circle cx="71.20" cy="475.47" r="1.10" fill="#fff" stroke="#111" stroke-width="0.7"/>
<circle cx="72.76" cy="468.47" r="1.10" fill="#fff" stroke="#111" stroke-width="0.7"/>
<circle cx="74.46" cy="463.36" r="1.10" fill="#fff" stroke="#111" stroke-width="0.7"/>
<circle cx="76.36" cy="458.18" r="1.10" fill="#fff" stroke="#111" stroke-width="0.7"/>
<circle cx="78.28" cy="450.87" r="1.10" fill="#fff" stroke="#111" stroke-width="0.7"/>
<circle cx="80.37" cy="444.13" r="1.10" fill="#fff" stroke="#111" stroke-width="0.7"/>
<circle cx="82.61" cy="438.00" r="1.10" fill="#fff" stroke="#111" stroke-width="0.7"/>
<circle cx="84.87" cy="432.65" r="1.10" fill="#fff" stroke="#111" stroke-width="0.7"/>
<path d="M63.78 541.28 L64.41 527.50 L65.27 516.18 L66.12 506.96 L67.20 499.53 L68.39 495.22 L69.61 490.12 L71.03 483.54 L72.73 477.11 L74.64 470.78 L76.62 464.60 L78.87 459.90 L81.23 453.31 L83.68 445.97 L86.37 439.82 L89.14 434.15 L92.30 428.00" fill="none" stroke="#111" stroke-width="0.7"/>
<circle cx="63.78" cy="541.28" r="1.75" fill="#0a0a0a"/>
<circle cx="64.41" cy="527.50" r="1.75" fill="#0a0a0a"/>
<circle cx="65.27" cy="516.18" r="1.75" fill="#0a0a0a"/>
<circle cx="66.12" cy="506.96" r="1.75" fill="#0a0a0a"/>
<circle cx="67.20" cy="499.53" r="1.75" fill="#0a0a0a"/>
<circle cx="68.39" cy="495.22" r="1.75" fill="#0a0a0a"/>
<circle cx="69.61" cy="490.12" r="1.75" fill="#0a0a0a"/>
<circle cx="71.03" cy="483.54" r="1.75" fill="#0a0a0a"/>
<circle cx="72.73" cy="477.11" r="1.75" fill="#0a0a0a"/>
<circle cx="74.64" cy="470.78" r="1.75" fill="#0a0a0a"/>
<circle cx="76.62" cy="464.60" r="1.75" fill="#0a0a0a"/>
<circle cx="78.87" cy="459.90" r="1.75" fill="#0a0a0a"/>
<circle cx="81.23" cy="453.31" r="1.75" fill="#0a0a0a"/>
<circle cx="83.68" cy="445.97" r="1.75" fill="#0a0a0a"/>
<circle cx="86.37" cy="439.82" r="1.75" fill="#0a0a0a"/>
<circle cx="89.14" cy="434.15" r="1.75" fill="#0a0a0a"/>
<path d="M64.20 544.84 L64.84 530.95 L65.93 518.48 L66.92 509.55 L68.18 500.74 L69.66 496.32 L71.15 491.58 L72.81 485.30 L74.83 478.50 L77.17 472.68 L79.56 465.72 L82.26 461.23 L85.20 455.25 L88.13 447.58 L91.42 441.37 L94.81 435.49 L97.93 430.87 L99.60 428.00" fill="none" stroke="#111" stroke-width="0.7"/>
<circle cx="64.20" cy="544.84" r="1.20" fill="#fff" stroke="#111" stroke-width="0.7"/>
<circle cx="64.84" cy="530.95" r="1.20" fill="#fff" stroke="#111" stroke-width="0.7"/>
<circle cx="65.93" cy="518.48" r="1.20" fill="#fff" stroke="#111" stroke-width="0.7"/>
<circle cx="66.92" cy="509.55" r="1.20" fill="#fff" stroke="#111" stroke-width="0.7"/>
<circle cx="68.18" cy="500.74" r="1.20" fill="#fff" stroke="#111" stroke-width="0.7"/>
<circle cx="69.66" cy="496.32" r="1.20" fill="#fff" stroke="#111" stroke-width="0.7"/>
<circle cx="71.15" cy="491.58" r="1.20" fill="#fff" stroke="#111" stroke-width="0.7"/>
<circle cx="72.81" cy="485.30" r="1.20" fill="#fff" stroke="#111" stroke-width="0.7"/>
<circle cx="74.83" cy="478.50" r="1.20" fill="#fff" stroke="#111" stroke-width="0.7"/>
<circle cx="77.17" cy="472.68" r="1.20" fill="#fff" stroke="#111" stroke-width="0.7"/>
<circle cx="79.56" cy="465.72" r="1.20" fill="#fff" stroke="#111" stroke-width="0.7"/>
<circle cx="82.26" cy="461.23" r="1.20" fill="#fff" stroke="#111" stroke-width="0.7"/>
<circle cx="85.20" cy="455.25" r="1.20" fill="#fff" stroke="#111" stroke-width="0.7"/>
<circle cx="88.13" cy="447.58" r="1.20" fill="#fff" stroke="#111" stroke-width="0.7"/>
<circle cx="91.42" cy="441.37" r="1.20" fill="#fff" stroke="#111" stroke-width="0.7"/>
<circle cx="94.81" cy="435.49" r="1.20" fill="#fff" stroke="#111" stroke-width="0.7"/>
<circle cx="97.93" cy="430.87" r="1.20" fill="#fff" stroke="#111" stroke-width="0.7"/>
<path d="M66.60 542.40 L68.00 530.00 L69.40 520.00 L71.00 509.00 L73.40 501.60 L75.60 494.40 L79.00 488.60 L82.00 483.00 L85.00 475.60 L88.60 470.60 L93.00 465.00 L97.00 459.00 L102.40 452.00 L107.60 445.60 L113.00 438.60 L119.40 433.40 L125.50 428.50" fill="none" stroke="#111" stroke-width="0.8"/>
<circle cx="66.60" cy="542.40" r="2.3" fill="#0a0a0a"/>
<circle cx="68.00" cy="530.00" r="2.3" fill="#0a0a0a"/>
<circle cx="69.40" cy="520.00" r="2.3" fill="#0a0a0a"/>
<circle cx="71.00" cy="509.00" r="2.3" fill="#0a0a0a"/>
<circle cx="73.40" cy="501.60" r="2.3" fill="#0a0a0a"/>
<circle cx="75.60" cy="494.40" r="2.3" fill="#0a0a0a"/>
<circle cx="79.00" cy="488.60" r="2.3" fill="#0a0a0a"/>
<circle cx="82.00" cy="483.00" r="2.3" fill="#0a0a0a"/>
<circle cx="85.00" cy="475.60" r="2.3" fill="#0a0a0a"/>
<circle cx="88.60" cy="470.60" r="2.3" fill="#0a0a0a"/>
<circle cx="93.00" cy="465.00" r="2.3" fill="#0a0a0a"/>
<circle cx="97.00" cy="459.00" r="2.3" fill="#0a0a0a"/>
<circle cx="102.40" cy="452.00" r="2.3" fill="#0a0a0a"/>
<circle cx="107.60" cy="445.60" r="2.3" fill="#0a0a0a"/>
<circle cx="113.00" cy="438.60" r="2.3" fill="#0a0a0a"/>
<circle cx="119.40" cy="433.40" r="2.3" fill="#0a0a0a"/>
<path d="M68.00 547.00 L69.40 533.00 L72.00 520.00 L74.40 511.00 L77.40 501.60 L81.00 497.00 L84.60 492.40 L88.60 486.30 L93.40 479.40 L99.10 473.70 L104.90 466.50 L111.40 462.00 L118.60 456.30 L125.70 448.60 L133.70 442.30 L142.00 436.30 L150.00 431.40 L155.00 428.50" fill="none" stroke="#111" stroke-width="0.8"/>
<circle cx="68.00" cy="547.00" r="1.95" fill="#fff" stroke="#111" stroke-width="0.7"/>
<circle cx="69.40" cy="533.00" r="1.95" fill="#fff" stroke="#111" stroke-width="0.7"/>
<circle cx="72.00" cy="520.00" r="1.95" fill="#fff" stroke="#111" stroke-width="0.7"/>
<circle cx="74.40" cy="511.00" r="1.95" fill="#fff" stroke="#111" stroke-width="0.7"/>
<circle cx="77.40" cy="501.60" r="1.95" fill="#fff" stroke="#111" stroke-width="0.7"/>
<circle cx="81.00" cy="497.00" r="1.95" fill="#fff" stroke="#111" stroke-width="0.7"/>
<circle cx="84.60" cy="492.40" r="1.95" fill="#fff" stroke="#111" stroke-width="0.7"/>
<circle cx="88.60" cy="486.30" r="1.95" fill="#fff" stroke="#111" stroke-width="0.7"/>
<circle cx="93.40" cy="479.40" r="1.95" fill="#fff" stroke="#111" stroke-width="0.7"/>
<circle cx="99.10" cy="473.70" r="1.95" fill="#fff" stroke="#111" stroke-width="0.7"/>
<circle cx="104.90" cy="466.50" r="1.95" fill="#fff" stroke="#111" stroke-width="0.7"/>
<circle cx="111.40" cy="462.00" r="1.95" fill="#fff" stroke="#111" stroke-width="0.7"/>
<circle cx="118.60" cy="456.30" r="1.95" fill="#fff" stroke="#111" stroke-width="0.7"/>
<circle cx="125.70" cy="448.60" r="1.95" fill="#fff" stroke="#111" stroke-width="0.7"/>
<circle cx="133.70" cy="442.30" r="1.95" fill="#fff" stroke="#111" stroke-width="0.7"/>
<circle cx="142.00" cy="436.30" r="1.95" fill="#fff" stroke="#111" stroke-width="0.7"/>
<circle cx="150.00" cy="431.40" r="1.95" fill="#fff" stroke="#111" stroke-width="0.7"/>
<path d="M72.00 551.60 L75.00 543.00 L79.40 533.00 L83.40 517.00 L88.40 510.60 L94.40 503.00 L101.40 497.00 L108.00 492.40 L116.30 487.70 L125.70 480.60 L135.10 473.70 L145.00 466.50 L156.50 461.00 L170.00 456.00 L182.50 451.00 L190.50 447.30" fill="none" stroke="#111" stroke-width="0.8"/>
<circle cx="72.00" cy="551.60" r="2.3" fill="#0a0a0a"/>
<circle cx="75.00" cy="543.00" r="2.3" fill="#0a0a0a"/>
<circle cx="79.40" cy="533.00" r="2.3" fill="#0a0a0a"/>
<circle cx="83.40" cy="517.00" r="2.3" fill="#0a0a0a"/>
<circle cx="88.40" cy="510.60" r="2.3" fill="#0a0a0a"/>
<circle cx="94.40" cy="503.00" r="2.3" fill="#0a0a0a"/>
<circle cx="101.40" cy="497.00" r="2.3" fill="#0a0a0a"/>
<circle cx="108.00" cy="492.40" r="2.3" fill="#0a0a0a"/>
<circle cx="116.30" cy="487.70" r="2.3" fill="#0a0a0a"/>
<circle cx="125.70" cy="480.60" r="2.3" fill="#0a0a0a"/>
<circle cx="135.10" cy="473.70" r="2.3" fill="#0a0a0a"/>
<circle cx="145.00" cy="466.50" r="2.3" fill="#0a0a0a"/>
<circle cx="156.50" cy="461.00" r="2.3" fill="#0a0a0a"/>
<circle cx="170.00" cy="456.00" r="2.3" fill="#0a0a0a"/>
<circle cx="182.50" cy="451.00" r="2.3" fill="#0a0a0a"/>
</g>
<path d="M122.50 529.00 L138.50 524.20 L158.50 520.00 L182.50 515.00 L211.00 510.00 L243.30 503.90 L281.20 498.00 L324.00 491.50 L341.00 489.20" fill="none" stroke="#111" stroke-width="1.3" stroke-dasharray="1.3 1.6"/>
<path d="M119.00 529.00 L122.50 525.50 L126.00 529.00 L122.50 532.50 Z" fill="#fff" stroke="#222" stroke-width="0.75"/>
<path d="M135.00 524.20 L138.50 520.70 L142.00 524.20 L138.50 527.70 Z" fill="#fff" stroke="#222" stroke-width="0.75"/>
<path d="M155.00 520.00 L158.50 516.50 L162.00 520.00 L158.50 523.50 Z" fill="#fff" stroke="#222" stroke-width="0.75"/>
<path d="M179.00 515.00 L182.50 511.50 L186.00 515.00 L182.50 518.50 Z" fill="#fff" stroke="#222" stroke-width="0.75"/>
<path d="M207.50 510.00 L211.00 506.50 L214.50 510.00 L211.00 513.50 Z" fill="#fff" stroke="#222" stroke-width="0.75"/>
<path d="M239.80 503.90 L243.30 500.40 L246.80 503.90 L243.30 507.40 Z" fill="#fff" stroke="#222" stroke-width="0.75"/>
<path d="M277.70 498.00 L281.20 494.50 L284.70 498.00 L281.20 501.50 Z" fill="#fff" stroke="#222" stroke-width="0.75"/>
<path d="M320.50 491.50 L324.00 488.00 L327.50 491.50 L324.00 495.00 Z" fill="#fff" stroke="#222" stroke-width="0.75"/>
<path d="M226.5 508.3 C232 508.5 233.5 511.5 236.5 515.0 C239 518.0 242 519.6 246.5 519.8" fill="none" stroke="#111" stroke-width="0.8"/>
<path d="M253.3 519.9 L245.6 516.7 L245.6 523.1 Z" fill="#111"/>
<text x="289.00" y="526.20" font-size="10.5" text-anchor="middle" font-weight="bold" fill="#111" >Transient</text>
<text x="289.00" y="538.40" font-size="10.5" text-anchor="middle" font-weight="bold" fill="#111" >beam spot</text>
<rect x="235.0" y="437.8" width="99.80000000000001" height="33.19999999999999" fill="#fff" stroke="#555" stroke-width="0.9"/>
<line x1="235.00" y1="454.40" x2="237.50" y2="454.40" stroke="#444" stroke-width="0.7" />
<text x="223.60" y="441.12" font-size="9" text-anchor="end" font-weight="normal" fill="#222" >160</text>
<text x="223.60" y="457.52" font-size="9" text-anchor="end" font-weight="normal" fill="#222" >80</text>
<text x="223.60" y="474.02" font-size="9" text-anchor="end" font-weight="normal" fill="#222" >0</text>
<text x="235.00" y="485.42" font-size="9" text-anchor="middle" font-weight="normal" fill="#222" >0</text>
<text x="284.60" y="485.42" font-size="9" text-anchor="middle" font-weight="normal" fill="#222" >0.5</text>
<text x="333.00" y="485.42" font-size="9" text-anchor="middle" font-weight="normal" fill="#222" >1</text>
<path d="M243.00 464.20 L244.85 462.36 L246.69 460.74 L248.54 459.33 L250.39 458.12 L252.23 457.24 L254.08 456.54 L255.93 456.02 L257.78 455.67 L259.62 455.40 L261.47 455.13 L263.32 454.77 L265.16 454.33 L267.01 453.84 L268.86 453.33 L270.70 452.83 L272.55 452.36 L274.40 451.96 L276.24 451.60 L278.09 451.27 L279.94 450.96 L281.79 450.66 L283.63 450.37 L285.48 450.08 L287.33 449.80 L289.17 449.53 L291.02 449.27 L292.87 449.02 L294.71 448.77 L296.56 448.52 L298.41 448.27 L300.26 448.01 L302.10 447.74 L303.95 447.46 L305.80 447.17 L307.64 446.88 L309.49 446.60 L311.34 446.33 L313.18 446.08 L315.03 445.85 L316.88 445.64 L318.72 445.44 L320.57 445.23 L322.42 445.01 L324.27 444.76 L326.11 444.49 L327.96 444.19 L329.81 443.88 L331.65 443.55 L333.50 443.20" fill="none" stroke="#e8242e" stroke-width="1.6" stroke-dasharray="2.6 0.7"/>
<path d="M246.80 465.00 L254.20 457.80 L262.20 455.80 L274.20 452.30 L286.00 450.20 L292.80 449.00 L301.20 448.00 L313.20 446.20 L324.00 444.90 L332.40 443.40" fill="none" stroke="#25259c" stroke-width="0.8"/>
<circle cx="246.80" cy="465.00" r="1.5" fill="#fff" fill-opacity="0.6" stroke="#25259c" stroke-width="0.7"/>
<circle cx="254.20" cy="457.80" r="1.5" fill="#fff" fill-opacity="0.6" stroke="#25259c" stroke-width="0.7"/>
<circle cx="262.20" cy="455.80" r="1.5" fill="#fff" fill-opacity="0.6" stroke="#25259c" stroke-width="0.7"/>
<circle cx="274.20" cy="452.30" r="1.5" fill="#fff" fill-opacity="0.6" stroke="#25259c" stroke-width="0.7"/>
<circle cx="286.00" cy="450.20" r="1.5" fill="#fff" fill-opacity="0.6" stroke="#25259c" stroke-width="0.7"/>
<circle cx="292.80" cy="449.00" r="1.5" fill="#fff" fill-opacity="0.6" stroke="#25259c" stroke-width="0.7"/>
<circle cx="301.20" cy="448.00" r="1.5" fill="#fff" fill-opacity="0.6" stroke="#25259c" stroke-width="0.7"/>
<circle cx="313.20" cy="446.20" r="1.5" fill="#fff" fill-opacity="0.6" stroke="#25259c" stroke-width="0.7"/>
<circle cx="324.00" cy="444.90" r="1.5" fill="#fff" fill-opacity="0.6" stroke="#25259c" stroke-width="0.7"/>
<circle cx="332.40" cy="443.40" r="1.5" fill="#fff" fill-opacity="0.6" stroke="#25259c" stroke-width="0.7"/>
</svg>
</body></html>
